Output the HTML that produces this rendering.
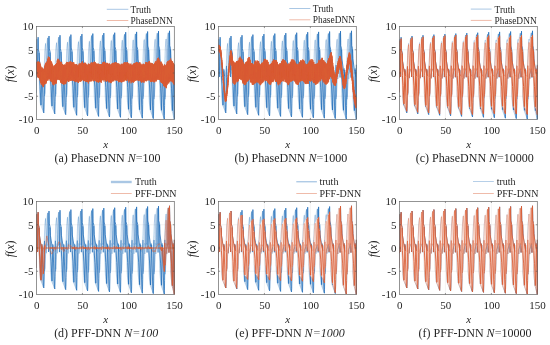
<!DOCTYPE html>
<html><head><meta charset="utf-8"><title>PhaseDNN vs PFF-DNN</title>
<style>
html,body{margin:0;padding:0;background:#fff;}
svg{display:block}
text{font-family:"Liberation Serif","DejaVu Serif",serif;fill:#262626}
.t{font-size:11px}
.l{font-size:9.6px}
.c{font-size:12px}
.ax{font-size:11px;font-style:italic}
</style></head><body>
<svg width="550" height="345" viewBox="0 0 550 345">
<rect width="550" height="345" fill="#fff"/>
<defs><filter id="bl" x="-5%" y="-5%" width="110%" height="110%"><feGaussianBlur stdDeviation="0.35"/></filter></defs>

<g>
<line x1="82.43" y1="26.5" x2="82.43" y2="119.5" stroke="#e6e6e6" stroke-width="0.5"/>
<line x1="128.37" y1="26.5" x2="128.37" y2="119.5" stroke="#e6e6e6" stroke-width="0.5"/>
<line x1="36.5" y1="49.75" x2="174.3" y2="49.75" stroke="#e6e6e6" stroke-width="0.5"/>
<line x1="36.5" y1="73.00" x2="174.3" y2="73.00" stroke="#e6e6e6" stroke-width="0.5"/>
<line x1="36.5" y1="96.25" x2="174.3" y2="96.25" stroke="#e6e6e6" stroke-width="0.5"/>
<g transform="translate(36.5,26.5)">
<g filter="url(#bl)">
<path d="M1.6,10.7 1.9,23.2 2.6,25.7 3.0,34.3 4.7,45.2 5.9,49.6 5.9,49.6 6.8,45.2 8.0,34.2 8.3,24.7 8.4,19.1 10.3,12.8 12.5,9.5 12.8,22.4 13.6,25.1 13.9,34.0 15.7,45.2 16.9,49.6 16.9,49.6 17.8,45.1 19.0,33.9 19.2,24.1 19.3,18.5 21.3,12.1 23.5,8.7 23.8,21.9 24.5,24.6 24.9,33.7 26.6,45.1 27.8,49.7 27.8,49.7 28.7,45.1 29.9,33.6 30.2,23.7 30.3,18.0 32.2,11.5 34.4,8.1 34.7,21.5 35.5,24.3 35.8,33.5 37.6,45.1 38.8,49.7 38.8,49.7 39.7,45.1 40.9,33.4 41.1,23.4 41.2,17.6 43.2,10.9 45.4,7.6 45.7,21.2 46.4,24.0 46.8,33.3 48.5,45.1 49.7,49.8 49.7,49.8 50.6,45.1 51.8,33.3 52.1,23.1 52.2,17.2 54.1,10.5 56.3,7.1 56.6,20.8 57.4,23.7 57.7,33.2 59.5,45.1 60.7,49.8 60.7,49.8 61.6,45.1 62.8,33.1 63.0,22.8 63.1,16.8 65.1,10.0 67.3,6.6 67.6,20.5 68.3,23.4 68.7,33.0 70.4,45.1 71.6,49.9 71.6,49.9 72.5,45.0 73.7,32.9 74.0,22.5 74.1,16.5 76.0,9.6 78.2,6.2 78.5,20.2 79.3,23.1 79.6,32.9 81.4,45.0 82.6,49.9 82.6,49.9 83.5,45.0 84.7,32.8 84.9,22.3 85.0,16.2 87.0,9.3 89.2,5.7 89.5,20.0 90.2,22.9 90.6,32.7 92.3,45.0 93.5,49.9 93.5,49.9 94.4,45.0 95.6,32.7 95.9,22.1 96.0,15.9 97.9,8.9 100.1,5.4 100.4,19.7 101.2,22.7 101.5,32.6 103.3,45.0 104.5,50.0 104.5,50.0 105.4,45.0 106.6,32.5 106.9,21.8 106.9,15.6 108.9,8.5 111.1,5.0 111.4,19.5 112.1,22.5 112.5,32.5 114.2,45.0 115.4,50.0 115.4,50.0 116.3,45.0 117.5,32.4 117.8,21.6 117.9,15.3 119.8,8.2 122.0,4.6 122.3,19.2 123.1,22.3 123.4,32.4 125.2,45.0 126.4,50.0 126.4,50.0 127.3,45.0 128.5,32.3 128.8,21.4 128.8,15.1 130.8,7.9 133.0,4.3 133.3,19.0 134.0,22.1 134.4,32.2 136.1,45.0 137.3,50.1 137.3,50.1 137.8,45.0 L137.3,85.2 137.3,89.2 135.4,83.6 134.8,77.0 134.3,70.4 133.4,48.7 131.9,41.4 129.8,48.7 128.9,70.3 128.8,71.3 128.5,73.3 128.2,80.9 127.9,88.9 127.8,92.5 126.4,84.9 126.4,88.9 124.4,83.3 123.9,76.7 123.3,70.2 122.5,48.7 120.9,41.5 118.8,48.7 118.0,70.1 117.9,71.1 117.6,73.1 117.3,80.6 117.0,88.6 116.8,92.1 115.4,84.5 115.4,88.5 113.5,83.0 112.9,76.5 112.4,70.0 111.5,48.6 110.0,41.5 107.9,48.6 107.0,69.9 106.9,70.8 106.6,72.8 106.3,80.3 106.0,88.2 105.9,91.7 104.5,84.2 104.5,88.2 102.5,82.6 102.0,76.2 101.4,69.7 100.6,48.6 99.0,41.5 96.9,48.6 96.1,69.6 96.0,70.6 95.7,72.6 95.4,80.0 95.1,87.8 94.9,91.3 93.5,83.8 93.5,87.8 91.6,82.3 91.0,75.9 90.5,69.5 89.6,48.6 88.1,41.6 86.0,48.6 85.1,69.4 85.0,70.4 84.7,72.3 84.4,79.6 84.1,87.4 84.0,90.8 82.6,83.5 82.6,87.4 80.6,81.9 80.1,75.6 79.5,69.3 78.7,48.6 77.1,41.6 75.0,48.6 74.2,69.2 74.1,70.1 73.8,72.1 73.5,79.3 73.2,87.0 73.0,90.4 71.6,83.1 71.6,86.9 69.7,81.6 69.1,75.3 68.6,69.1 67.7,48.6 66.2,41.7 64.1,48.6 63.2,68.9 63.1,69.9 62.8,71.8 62.5,78.9 62.2,86.5 62.1,89.9 60.7,82.7 60.7,86.5 58.7,81.2 58.2,75.0 57.6,68.8 56.8,48.5 55.2,41.8 53.1,48.5 52.3,68.7 52.2,69.6 51.9,71.5 51.6,78.5 51.3,86.1 51.1,89.3 49.7,82.2 49.7,86.0 47.8,80.7 47.2,74.6 46.7,68.5 45.8,48.5 44.3,41.8 42.2,48.5 41.3,68.4 41.2,69.3 40.9,71.1 40.6,78.1 40.3,85.5 40.2,88.8 38.8,81.7 38.8,85.5 36.8,80.3 36.3,74.2 35.7,68.2 34.9,48.5 33.3,41.9 31.2,48.5 30.4,68.0 30.3,69.0 30.0,70.8 29.6,77.6 29.4,84.9 29.2,88.1 27.8,81.2 27.8,84.9 25.9,79.7 25.3,73.8 24.8,67.9 23.9,48.5 22.4,42.0 20.3,48.4 19.4,67.7 19.3,68.6 19.0,70.3 18.7,77.1 18.4,84.3 18.3,87.4 16.9,80.6 16.9,84.1 14.9,79.1 14.4,73.3 13.8,67.4 13.0,48.4 11.4,42.1 9.3,48.4 8.5,67.2 8.4,68.1 8.1,69.8 7.7,76.4 7.5,83.4 7.3,86.4 5.9,79.7 5.9,83.2 4.0,78.2 3.4,72.5 2.9,66.8 2.0,48.4 0.5,42.2Z" fill="#1f6cb8" fill-opacity="0.11"/>
<path d="M0.0,45.2 1.6,10.7 1.9,23.2 2.6,25.7 2.9,34.4 2.7,57.3 2.0,48.4 0.5,42.2 0.0,47.3ZM3.1,36.1 4.7,45.2 5.9,49.6 6.8,45.2 7.7,38.6 7.9,59.7 7.7,74.6 7.5,83.4 7.3,86.4 4.5,78.7 3.6,59.5 3.0,48.7ZM10.0,45.2 12.5,9.5 12.8,22.4 13.6,25.1 13.9,34.0 13.6,57.6 13.0,48.4 11.4,42.1 10.1,47.4ZM14.0,35.8 15.7,45.2 16.9,49.6 17.8,45.1 18.7,38.4 18.8,60.0 18.6,75.3 18.4,84.3 18.3,87.4 15.5,79.6 14.6,59.9 13.9,48.7ZM20.9,45.1 23.5,8.7 23.8,21.9 24.5,24.6 24.8,33.7 24.6,57.9 23.9,48.5 22.4,42.0 21.1,47.4ZM25.0,35.6 26.6,45.1 27.8,49.7 28.7,45.1 29.6,38.2 29.8,60.2 29.6,75.8 29.4,84.9 29.2,88.1 26.4,80.2 25.5,60.1 24.9,48.8ZM31.9,45.1 34.4,8.1 34.7,21.5 35.5,24.3 35.8,33.5 35.5,58.0 34.9,48.5 33.3,41.9 32.0,47.4ZM35.9,35.4 37.6,45.1 38.8,49.7 39.7,45.1 40.6,38.1 40.7,60.4 40.5,76.2 40.3,85.5 40.2,88.8 37.4,80.8 36.5,60.4 35.8,48.8ZM42.8,45.1 45.4,7.6 45.7,21.2 46.4,24.0 46.7,33.3 46.5,58.2 45.8,48.5 44.3,41.8 43.0,47.4ZM46.9,35.2 48.5,45.1 49.7,49.8 50.6,45.1 51.6,38.0 51.7,60.6 51.5,76.6 51.3,86.1 51.1,89.3 48.3,81.2 47.4,60.6 46.8,48.8ZM53.8,45.1 56.3,7.1 56.6,20.8 57.4,23.7 57.7,33.2 57.4,58.4 56.8,48.5 55.2,41.8 53.9,47.4ZM57.8,35.1 59.5,45.1 60.7,49.8 61.6,45.1 62.5,37.9 62.6,60.8 62.4,77.0 62.2,86.5 62.1,89.9 59.3,81.7 58.4,60.7 57.7,48.9ZM64.7,45.1 67.3,6.6 67.6,20.5 68.3,23.4 68.6,33.0 68.4,58.5 67.7,48.6 66.2,41.7 64.9,47.5ZM68.8,34.9 70.4,45.1 71.6,49.9 72.5,45.0 73.5,37.8 73.6,61.0 73.4,77.4 73.2,87.0 73.0,90.4 70.2,82.1 69.3,60.9 68.7,48.9ZM75.7,45.0 78.2,6.2 78.5,20.2 79.3,23.1 79.6,32.9 79.3,58.6 78.7,48.6 77.1,41.6 75.8,47.5ZM79.7,34.8 81.4,45.0 82.6,49.9 83.5,45.0 84.4,37.7 84.5,61.1 84.3,77.7 84.1,87.4 84.0,90.8 81.2,82.5 80.3,61.1 79.6,48.9ZM86.6,45.0 89.2,5.7 89.5,20.0 90.2,22.9 90.5,32.7 90.3,58.7 89.6,48.6 88.1,41.6 86.8,47.5ZM90.7,34.7 92.3,45.0 93.5,49.9 94.4,45.0 95.4,37.6 95.5,61.3 95.3,78.0 95.1,87.8 94.9,91.3 92.1,82.8 91.2,61.2 90.6,49.0ZM97.6,45.0 100.1,5.4 100.4,19.7 101.2,22.7 101.5,32.6 101.2,58.9 100.6,48.6 99.0,41.5 97.7,47.5ZM101.6,34.6 103.3,45.0 104.5,50.0 105.4,45.0 106.3,37.5 106.4,61.4 106.2,78.3 106.0,88.2 105.9,91.7 103.1,83.2 102.2,61.3 101.5,49.0ZM108.5,45.0 111.1,5.0 111.4,19.5 112.1,22.5 112.4,32.5 112.2,59.0 111.5,48.6 110.0,41.5 108.7,47.5ZM112.6,34.5 114.2,45.0 115.4,50.0 116.3,45.0 117.3,37.5 117.4,61.5 117.2,78.6 117.0,88.6 116.8,92.1 114.0,83.5 113.1,61.5 112.5,49.0ZM119.5,45.0 122.0,4.6 122.3,19.2 123.1,22.3 123.4,32.4 123.1,59.1 122.5,48.7 120.9,41.5 119.6,47.5ZM123.6,34.4 125.2,45.0 126.4,50.0 127.3,45.0 128.2,37.4 128.3,61.7 128.1,78.8 127.9,88.9 127.8,92.5 125.0,83.8 124.1,61.6 123.4,49.0ZM130.4,45.0 133.0,4.3 133.3,19.0 134.0,22.1 134.3,32.2 134.1,59.2 133.4,48.7 131.9,41.4 130.6,47.5ZM134.5,34.3 136.1,45.0 137.3,50.1 137.8,45.0 137.8,37.3 137.8,61.8 137.8,79.1 137.8,89.2 137.8,92.8 135.9,84.1 135.0,61.7 134.4,49.0Z" fill="#1f6cb8" fill-opacity="0.16"/>
<path d="M2.9,49.1 3.0,66.8 3.4,72.5 4.0,78.2 7.3,86.4M7.9,50.9 8.1,69.4 8.4,68.1 8.8,53.1 9.2,42.1M0.0,66.4 0.0,48.3 0.5,42.2M7.4,50.9 8.3,24.7 9.1,16.9 10.1,44.3M13.8,49.2 13.9,67.4 14.4,73.3 14.9,79.1 18.3,87.4M18.8,51.0 19.1,69.9 19.3,68.6 19.7,53.3 20.2,42.0M8.5,67.2 9.3,48.4 11.4,42.1M18.3,51.0 19.2,24.1 20.1,16.2 21.1,44.2M24.8,49.2 24.9,67.9 25.3,73.8 25.9,79.7 29.2,88.1M29.8,51.1 30.0,70.3 30.3,69.0 30.7,53.4 31.1,41.9M19.4,67.7 20.3,48.4 22.4,42.0M29.3,51.1 30.2,23.7 31.0,15.7 32.0,44.2M35.7,49.3 35.8,68.2 36.3,74.2 36.8,80.3 40.2,88.8M40.7,51.1 41.0,70.7 41.2,69.3 41.6,53.5 42.1,41.8M30.4,68.0 31.2,48.5 33.3,41.9M40.2,51.1 41.1,23.4 42.0,15.2 43.0,44.2M46.7,49.3 46.8,68.5 47.2,74.6 47.8,80.7 51.1,89.3M51.7,51.2 51.9,71.0 52.2,69.6 52.6,53.6 53.0,41.8M41.3,68.4 42.2,48.5 44.3,41.8M51.2,51.2 52.1,23.1 52.9,14.8 53.9,44.1M57.6,49.3 57.7,68.8 58.2,75.0 58.7,81.2 62.1,89.9M62.6,51.3 62.9,71.3 63.1,69.9 63.5,53.7 64.0,41.7M52.3,68.7 53.1,48.5 55.2,41.8M62.1,51.3 63.0,22.8 63.9,14.4 64.9,44.1M68.6,49.4 68.7,69.1 69.1,75.3 69.7,81.6 73.0,90.4M73.6,51.3 73.8,71.6 74.1,70.1 74.5,53.7 74.9,41.7M63.2,68.9 64.1,48.6 66.2,41.7M73.1,51.3 74.0,22.5 74.8,14.0 75.8,44.1M79.5,49.4 79.6,69.3 80.1,75.6 80.6,81.9 84.0,90.8M84.5,51.4 84.8,71.8 85.0,70.4 85.4,53.8 85.9,41.6M74.2,69.2 75.0,48.6 77.1,41.6M84.0,51.4 84.9,22.3 85.8,13.7 86.8,44.1M90.5,49.4 90.6,69.5 91.0,75.9 91.6,82.3 94.9,91.3M95.5,51.4 95.7,72.1 96.0,70.6 96.4,53.9 96.8,41.6M85.1,69.4 86.0,48.6 88.1,41.6M95.0,51.4 95.9,22.1 96.7,13.4 97.7,44.0M101.4,49.5 101.5,69.8 102.0,76.2 102.5,82.6 105.9,91.7M106.4,51.5 106.7,72.3 106.9,70.8 107.3,54.0 107.8,41.5M96.1,69.6 96.9,48.6 99.0,41.5M105.9,51.5 106.9,21.8 107.7,13.1 108.7,44.0M112.4,49.5 112.5,70.0 112.9,76.5 113.5,83.0 116.8,92.1M117.4,51.5 117.6,72.6 117.9,71.1 118.3,54.0 118.7,41.5M107.0,69.9 107.9,48.6 110.0,41.5M116.9,51.5 117.8,21.6 118.6,12.8 119.6,44.0M123.3,49.5 123.4,70.2 123.9,76.7 124.4,83.3 127.8,92.5M128.3,51.6 128.6,72.8 128.8,71.3 129.2,54.1 129.7,41.4M118.0,70.1 118.8,48.7 120.9,41.5M127.8,51.6 128.8,21.4 129.6,12.5 130.6,44.0M134.3,49.5 134.4,70.4 134.8,77.0 135.4,83.6 137.8,92.8M128.9,70.3 129.8,48.7 131.9,41.4" fill="none" stroke="#1f6cb8" stroke-opacity="0.36" stroke-width="0.75" stroke-linejoin="round"/>
<path d="M0.0,51.6 0.0,44.4 0.0,22.7 0.4,12.7 1.1,44.3 1.2,50.4M9.9,51.8 10.1,44.3 10.8,21.6 11.3,11.4 12.1,44.3 12.2,50.5M20.8,51.9 21.1,44.2 21.7,21.1 22.3,10.6 23.0,44.2 23.1,50.6M31.8,52.0 32.0,44.2 32.7,20.7 33.2,10.0 34.0,44.2 34.1,50.6M42.7,52.1 43.0,44.2 43.6,20.3 44.2,9.5 44.9,44.2 45.0,50.7M53.7,52.2 53.9,44.1 54.6,19.9 55.1,9.0 55.9,44.1 56.0,50.8M64.6,52.2 64.9,44.1 65.5,19.6 66.1,8.6 66.8,44.1 66.9,50.8M75.6,52.3 75.8,44.1 76.5,19.3 77.0,8.1 77.8,44.1 77.9,50.9M86.5,52.4 86.8,44.1 87.4,19.0 88.0,7.8 88.7,44.0 88.8,50.9M97.5,52.4 97.7,44.0 98.4,18.8 98.9,7.4 99.7,44.0 99.8,50.9M108.4,52.5 108.7,44.0 109.3,18.5 109.9,7.0 110.6,44.0 110.7,51.0M119.4,52.5 119.6,44.0 120.3,18.3 120.8,6.7 121.6,44.0 121.7,51.0M130.3,52.6 130.6,44.0 131.2,18.0 131.8,6.3 132.5,44.0 132.6,51.1" fill="none" stroke="#1f6cb8" stroke-opacity="0.62" stroke-width="0.75" stroke-linejoin="round"/>
<path d="M1.0,50.4 1.1,44.3 1.6,10.7 1.9,23.2 2.6,25.7 2.9,49.1 3.6,59.5 4.5,78.7 5.3,48.7 5.4,42.6M2.7,26.6 3.0,34.3 4.7,45.2 5.9,49.6M5.6,43.9 5.7,50.0 6.9,85.1 7.3,86.4 7.5,83.4 7.7,74.6 7.9,50.9 8.0,39.4M12.0,50.5 12.1,44.3 12.5,9.5 12.8,22.4 13.6,25.1 13.8,49.2 14.6,59.9 15.5,79.6 16.2,48.7 16.3,42.5M13.6,26.0 13.9,34.0 15.7,45.2 16.9,49.6M16.6,43.8 16.7,50.1 17.9,86.0 18.3,87.4 18.4,84.3 18.6,75.3 18.8,51.0 18.9,39.3M22.9,50.6 23.0,44.2 23.5,8.7 23.8,21.9 24.5,24.6 24.8,49.2 25.5,60.1 26.4,80.2 27.2,48.8 27.3,42.4M24.6,25.5 24.9,33.7 26.6,45.1 27.8,49.7M27.5,43.8 27.6,50.2 28.8,86.7 29.2,88.1 29.4,84.9 29.6,75.8 29.8,51.1 29.9,39.1M33.9,50.6 34.0,44.2 34.4,8.1 34.7,21.5 35.5,24.3 35.7,49.3 36.5,60.4 37.4,80.8 38.1,48.8 38.2,42.3M35.5,25.2 35.8,33.5 37.6,45.1 38.8,49.7M38.5,43.7 38.6,50.2 39.8,87.4 40.2,88.8 40.3,85.5 40.5,76.2 40.7,51.1 40.8,39.0M44.8,50.7 44.9,44.2 45.4,7.6 45.7,21.2 46.4,24.0 46.7,49.3 47.4,60.6 48.3,81.2 49.1,48.8 49.2,42.3M46.5,24.9 46.8,33.3 48.5,45.1 49.7,49.8M49.4,43.7 49.5,50.3 50.7,87.9 51.1,89.3 51.3,86.1 51.5,76.6 51.7,51.2 51.8,38.9M55.8,50.8 55.9,44.1 56.3,7.1 56.6,20.8 57.4,23.7 57.6,49.3 58.4,60.7 59.3,81.7 60.0,48.9 60.1,42.2M57.4,24.6 57.7,33.2 59.5,45.1 60.7,49.8M60.4,43.6 60.5,50.3 61.7,88.4 62.1,89.9 62.2,86.5 62.4,77.0 62.6,51.3 62.7,38.8M66.7,50.8 66.8,44.1 67.3,6.6 67.6,20.5 68.3,23.4 68.6,49.4 69.3,60.9 70.2,82.1 71.0,48.9 71.1,42.2M68.4,24.4 68.7,33.0 70.4,45.1 71.6,49.9M71.3,43.6 71.4,50.4 72.6,88.9 73.0,90.4 73.2,87.0 73.4,77.4 73.6,51.3 73.7,38.8M77.7,50.9 77.8,44.1 78.2,6.2 78.5,20.2 79.3,23.1 79.5,49.4 80.3,61.1 81.2,82.5 81.9,48.9 82.0,42.1M79.3,24.1 79.6,32.9 81.4,45.0 82.6,49.9M82.3,43.6 82.4,50.4 83.6,89.3 84.0,90.8 84.1,87.4 84.3,77.7 84.5,51.4 84.6,38.7M88.6,50.9 88.7,44.0 89.2,5.7 89.5,20.0 90.2,22.9 90.5,49.4 91.2,61.2 92.1,82.8 92.9,49.0 93.0,42.1M90.3,23.9 90.6,32.7 92.3,45.0 93.5,49.9M93.2,43.5 93.3,50.4 94.5,89.8 94.9,91.3 95.1,87.8 95.3,78.0 95.5,51.4 95.6,38.6M99.6,50.9 99.7,44.0 100.1,5.4 100.4,19.7 101.2,22.7 101.4,49.5 102.2,61.3 103.1,83.2 103.8,49.0 103.9,42.0M101.2,23.7 101.5,32.6 103.3,45.0 104.5,50.0M104.2,43.5 104.3,50.5 105.5,90.2 105.9,91.7 106.0,88.2 106.2,78.3 106.4,51.5 106.5,38.5M110.5,51.0 110.6,44.0 111.1,5.0 111.4,19.5 112.1,22.5 112.4,49.5 113.1,61.5 114.0,83.5 114.8,49.0 114.9,42.0M112.2,23.5 112.5,32.5 114.2,45.0 115.4,50.0M115.1,43.5 115.2,50.5 116.4,90.6 116.8,92.1 117.0,88.6 117.2,78.6 117.4,51.5 117.5,38.5M121.5,51.0 121.6,44.0 122.0,4.6 122.3,19.2 123.1,22.3 123.3,49.5 124.1,61.6 125.0,83.8 125.7,49.0 125.8,41.9M123.1,23.3 123.4,32.4 125.2,45.0 126.4,50.0M126.1,43.5 126.2,50.5 127.4,90.9 127.8,92.5 127.9,88.9 128.1,78.8 128.3,51.6 128.4,38.4M132.4,51.1 132.5,44.0 133.0,4.3 133.3,19.0 134.0,22.1 134.3,49.5 135.0,61.7 135.9,84.1 136.7,49.0 136.8,41.9M134.1,23.1 134.4,32.2 136.1,45.0 137.3,50.1M137.0,43.4 137.1,50.6 137.8,91.3 137.8,92.8 137.8,89.2 137.8,79.1 137.8,51.6 137.8,38.3" fill="none" stroke="#1f6cb8" stroke-opacity="1.0" stroke-width="0.75" stroke-linejoin="round"/>
<path d="" fill="none" stroke="#1f6cb8" stroke-opacity="0.7" stroke-width="0.75" stroke-linejoin="round"/>
</g>
<path d="M0.0,42.5 0.1,35.9 0.1,41.5 0.2,48.5 0.2,44.2 0.3,35.5 0.3,38.9 0.4,47.2 0.4,46.8 0.5,37.9 0.5,35.3 0.6,43.1 0.6,48.9 0.7,44.3 0.7,36.1 0.8,36.1 0.8,44.7 0.9,49.5 1.0,43.9 1.0,36.1 1.1,36.6 1.1,45.2 1.2,50.3 1.2,43.4 1.3,35.5 1.3,37.8 1.4,47.9 1.4,49.4 1.5,39.7 1.5,35.7 1.6,44.0 1.6,51.3 1.7,43.2 1.7,34.6 1.8,41.7 1.9,50.9 1.9,45.5 2.0,35.5 2.0,39.7 2.1,50.4 2.1,48.3 2.2,37.2 2.2,36.9 2.3,47.8 2.3,51.4 2.4,42.0 2.4,35.3 2.5,41.4 2.5,50.3 2.6,49.2 2.7,39.9 2.7,35.6 2.8,42.5 2.8,51.7 2.9,49.6 2.9,39.6 3.0,35.7 3.0,43.5 3.1,52.0 3.1,48.8 3.2,39.0 3.2,37.7 3.3,47.8 3.3,52.7 3.4,44.6 3.4,36.1 3.5,44.0 3.6,53.8 3.6,48.5 3.7,37.7 3.7,42.2 3.8,54.4 3.8,51.5 3.9,39.6 3.9,40.8 4.0,53.0 4.0,54.9 4.1,43.4 4.1,39.0 4.2,49.3 4.2,56.2 4.3,50.2 4.3,40.0 4.4,42.2 4.5,52.9 4.5,56.9 4.6,49.2 4.6,40.4 4.7,44.2 4.7,53.8 4.8,58.2 4.8,49.4 4.9,41.5 4.9,45.4 5.0,55.5 5.0,56.8 5.1,47.0 5.1,42.1 5.2,49.7 5.2,57.8 5.3,52.3 5.4,42.4 5.4,46.0 5.5,57.0 5.5,55.4 5.6,43.1 5.6,44.8 5.7,55.8 5.7,57.0 5.8,45.1 5.8,43.3 5.9,53.7 5.9,58.9 6.0,49.4 6.0,41.1 6.1,48.4 6.2,59.2 6.2,56.1 6.3,45.1 6.3,42.1 6.4,51.4 6.4,59.5 6.5,55.9 6.5,45.1 6.6,42.7 6.6,52.1 6.7,60.7 6.7,55.5 6.8,44.1 6.8,43.5 6.9,54.4 6.9,60.5 7.0,51.9 7.1,42.9 7.1,47.5 7.2,59.1 7.2,56.5 7.3,44.5 7.3,44.5 7.4,56.5 7.4,57.4 7.5,46.2 7.5,42.6 7.6,54.6 7.6,58.2 7.7,47.9 7.7,41.8 7.8,50.7 7.8,58.1 7.9,52.3 8.0,41.4 8.0,44.6 8.1,55.1 8.1,57.2 8.2,48.0 8.2,41.1 8.3,45.4 8.3,55.6 8.4,56.8 8.4,46.8 8.5,38.9 8.5,45.1 8.6,55.2 8.6,55.9 8.7,44.8 8.7,37.8 8.8,47.0 8.9,57.6 8.9,52.4 9.0,39.7 9.0,41.0 9.1,54.1 9.1,55.2 9.2,41.6 9.2,37.2 9.3,51.0 9.3,56.6 9.4,43.5 9.4,36.3 9.5,48.2 9.5,57.3 9.6,46.6 9.6,36.3 9.7,42.9 9.8,54.5 9.8,52.5 9.9,38.3 9.9,36.8 10.0,47.6 10.0,55.9 10.1,48.7 10.1,36.9 10.2,36.1 10.2,47.7 10.3,54.0 10.3,47.5 10.4,36.5 10.4,36.0 10.5,47.9 10.6,54.0 10.6,44.8 10.7,34.5 10.7,38.8 10.8,51.4 10.8,50.6 10.9,37.6 10.9,34.8 11.0,47.6 11.0,53.2 11.1,40.6 11.1,32.0 11.2,44.4 11.2,53.9 11.3,42.8 11.3,32.5 11.4,41.2 11.5,54.0 11.5,47.1 11.6,33.5 11.6,35.8 11.7,49.6 11.7,52.6 11.8,39.2 11.8,30.0 11.9,39.0 11.9,51.6 12.0,50.8 12.0,37.3 12.1,31.0 12.1,39.8 12.2,51.5 12.2,49.9 12.3,36.8 12.4,31.0 12.4,41.1 12.5,52.8 12.5,47.3 12.6,33.4 12.6,32.7 12.7,47.2 12.7,52.2 12.8,38.3 12.8,31.0 12.9,42.8 12.9,52.2 13.0,42.2 13.0,30.8 13.1,40.3 13.1,52.1 13.2,45.0 13.3,32.7 13.3,37.4 13.4,51.6 13.4,49.6 13.5,36.3 13.5,33.5 13.6,45.7 13.6,54.0 13.7,45.1 13.7,34.2 13.8,36.5 13.8,48.6 13.9,54.4 13.9,44.7 14.0,34.5 14.1,37.7 14.1,50.2 14.2,54.4 14.2,44.5 14.3,34.7 14.3,39.8 14.4,52.5 14.4,53.8 14.5,39.9 14.5,35.0 14.6,47.0 14.6,55.0 14.7,45.6 14.7,35.1 14.8,43.2 14.8,55.1 14.9,49.0 15.0,36.0 15.0,40.6 15.1,54.0 15.1,51.5 15.2,37.9 15.2,37.9 15.3,51.5 15.3,55.1 15.4,43.4 15.4,36.2 15.5,44.4 15.5,54.9 15.6,52.5 15.6,40.8 15.7,37.6 15.7,46.9 15.8,56.7 15.9,52.6 15.9,41.1 16.0,38.2 16.0,48.1 16.1,57.2 16.1,52.3 16.2,39.9 16.2,40.1 16.3,52.2 16.3,57.7 16.4,47.5 16.4,38.9 16.5,47.0 16.5,58.1 16.6,52.3 16.6,40.2 16.7,44.2 16.8,57.7 16.8,54.5 16.9,41.5 16.9,42.4 17.0,56.2 17.0,56.9 17.1,44.8 17.1,41.0 17.2,51.5 17.2,58.9 17.3,50.9 17.3,40.2 17.4,43.8 17.4,55.7 17.5,58.1 17.5,48.0 17.6,39.4 17.7,44.7 17.7,55.9 17.8,57.0 17.8,47.3 17.9,39.0 17.9,45.0 18.0,56.3 18.0,55.8 18.1,44.3 18.1,39.6 18.2,48.4 18.2,57.8 18.3,50.4 18.3,38.9 18.4,43.6 18.5,55.6 18.5,53.5 18.6,40.3 18.6,41.2 18.7,53.8 18.7,55.7 18.8,41.9 18.8,39.0 18.9,51.3 18.9,57.2 19.0,45.8 19.0,37.7 19.1,45.7 19.1,56.2 19.2,53.0 19.2,40.3 19.3,38.2 19.4,49.3 19.4,57.3 19.5,50.8 19.5,38.7 19.6,38.9 19.6,49.2 19.7,57.0 19.7,49.5 19.8,38.8 19.8,38.4 19.9,50.6 19.9,56.0 20.0,45.9 20.0,36.5 20.1,42.1 20.1,54.2 20.2,50.9 20.3,38.6 20.3,38.5 20.4,50.5 20.4,53.0 20.5,39.8 20.5,36.6 20.6,48.4 20.6,52.8 20.7,41.4 20.7,33.9 20.8,44.8 20.8,53.1 20.9,45.9 20.9,34.7 21.0,38.3 21.0,50.4 21.1,52.7 21.2,40.7 21.2,33.0 21.3,40.6 21.3,52.2 21.4,50.8 21.4,39.5 21.5,32.2 21.5,40.9 21.6,51.9 21.6,50.5 21.7,38.7 21.7,32.8 21.8,43.5 21.8,53.0 21.9,47.8 22.0,34.2 22.0,36.9 22.1,50.7 22.1,51.7 22.2,38.6 22.2,34.6 22.3,47.5 22.3,53.3 22.4,41.3 22.4,33.4 22.5,45.3 22.5,53.1 22.6,44.3 22.6,33.8 22.7,41.5 22.7,52.5 22.8,49.0 22.9,37.1 22.9,36.0 23.0,47.5 23.0,53.1 23.1,46.1 23.1,35.4 23.2,37.3 23.2,49.0 23.3,53.6 23.3,45.6 23.4,35.7 23.4,38.6 23.5,49.3 23.5,53.8 23.6,44.5 23.6,35.3 23.7,40.5 23.8,52.6 23.8,52.4 23.9,38.6 23.9,37.0 24.0,49.1 24.0,55.3 24.1,42.9 24.1,35.5 24.2,46.6 24.2,55.7 24.3,45.8 24.3,35.2 24.4,43.9 24.4,56.5 24.5,49.7 24.5,37.2 24.6,39.6 24.7,53.1 24.7,55.2 24.8,42.6 24.8,35.5 24.9,44.9 24.9,55.1 25.0,52.3 25.0,40.3 25.1,36.0 25.1,46.3 25.2,56.7 25.2,52.4 25.3,40.7 25.3,37.5 25.4,47.4 25.4,57.0 25.5,50.9 25.6,38.7 25.6,39.8 25.7,52.6 25.7,55.9 25.8,44.5 25.8,37.8 25.9,48.1 25.9,57.4 26.0,48.1 26.0,37.5 26.1,46.0 26.1,57.4 26.2,51.0 26.2,38.9 26.3,43.7 26.4,56.6 26.4,54.3 26.5,41.9 26.5,39.5 26.6,52.0 26.6,57.5 26.7,49.0 26.7,38.4 26.8,42.8 26.8,55.3 26.9,57.9 26.9,47.4 27.0,38.7 27.0,43.3 27.1,55.1 27.1,58.2 27.2,46.8 27.3,38.4 27.3,44.3 27.4,56.5 27.4,55.6 27.5,42.8 27.5,38.7 27.6,49.9 27.6,57.9 27.7,48.2 27.7,38.3 27.8,45.3 27.8,56.9 27.9,51.2 27.9,38.1 28.0,42.8 28.0,55.3 28.1,53.2 28.2,39.5 28.2,40.0 28.3,53.5 28.3,55.9 28.4,44.3 28.4,38.3 28.5,46.8 28.5,57.0 28.6,52.3 28.6,40.4 28.7,39.0 28.7,49.3 28.8,57.2 28.8,51.2 28.9,40.2 28.9,38.9 29.0,49.5 29.1,57.7 29.1,50.8 29.2,39.8 29.2,40.4 29.3,51.7 29.3,57.3 29.4,46.0 29.4,36.8 29.5,45.6 29.5,55.8 29.6,50.3 29.6,38.3 29.7,41.6 29.7,54.7 29.8,52.2 29.9,38.4 29.9,39.4 30.0,52.3 30.0,54.7 30.1,40.9 30.1,37.0 30.2,48.3 30.2,55.7 30.3,46.2 30.3,35.4 30.4,40.6 30.4,52.8 30.5,53.8 30.5,42.3 30.6,35.5 30.6,42.0 30.7,52.4 30.8,53.0 30.8,41.7 30.9,35.8 30.9,42.6 31.0,53.8 31.0,52.4 31.1,40.5 31.1,35.7 31.2,46.0 31.2,54.3 31.3,47.7 31.3,36.0 31.4,40.5 31.4,53.1 31.5,51.8 31.5,38.1 31.6,38.6 31.7,51.7 31.7,53.1 31.8,40.3 31.8,37.5 31.9,49.5 31.9,55.4 32.0,43.7 32.0,35.8 32.1,44.7 32.1,55.4 32.2,50.1 32.2,37.7 32.3,37.2 32.3,49.0 32.4,54.9 32.4,47.4 32.5,37.5 32.6,38.7 32.6,49.3 32.7,54.6 32.7,46.6 32.8,36.7 32.8,38.4 32.9,49.9 32.9,53.7 33.0,43.7 33.0,35.3 33.1,41.5 33.1,53.2 33.2,50.0 33.2,37.3 33.3,36.9 33.3,49.9 33.4,52.2 33.5,39.1 33.5,35.5 33.6,48.0 33.6,53.0 33.7,41.7 33.7,34.8 33.8,45.1 33.8,54.0 33.9,45.9 33.9,35.7 34.0,39.5 34.0,52.1 34.1,51.8 34.1,40.8 34.2,34.9 34.3,43.6 34.3,54.2 34.4,51.1 34.4,39.7 34.5,35.4 34.5,44.3 34.6,54.4 34.6,51.1 34.7,39.9 34.7,36.2 34.8,46.0 34.8,53.9 34.9,48.0 34.9,37.5 35.0,39.2 35.0,51.0 35.1,51.7 35.2,40.7 35.2,37.4 35.3,48.1 35.3,53.3 35.4,42.9 35.4,36.3 35.5,45.8 35.5,53.0 35.6,45.1 35.6,35.6 35.7,42.7 35.7,52.4 35.8,49.3 35.8,37.6 35.9,38.3 35.9,48.5 36.0,53.8 36.1,45.1 36.1,36.7 36.2,39.6 36.2,50.6 36.3,52.8 36.3,44.5 36.4,36.0 36.4,39.9 36.5,51.0 36.5,54.2 36.6,43.6 36.6,36.3 36.7,42.2 36.7,53.1 36.8,51.2 36.8,39.8 36.9,37.1 37.0,49.4 37.0,54.1 37.1,43.6 37.1,36.1 37.2,46.2 37.2,54.2 37.3,46.1 37.3,36.0 37.4,44.1 37.4,54.7 37.5,48.9 37.5,37.5 37.6,40.8 37.6,52.0 37.7,52.5 37.8,42.2 37.8,37.9 37.9,46.0 37.9,53.9 38.0,50.3 38.0,40.2 38.1,39.1 38.1,47.3 38.2,54.8 38.2,50.1 38.3,40.4 38.3,39.3 38.4,47.9 38.4,54.0 38.5,48.7 38.5,38.7 38.6,40.2 38.7,51.3 38.7,54.1 38.8,43.8 38.8,37.7 38.9,47.2 38.9,55.6 39.0,47.4 39.0,38.4 39.1,44.6 39.1,55.6 39.2,49.6 39.2,38.8 39.3,42.3 39.3,54.3 39.4,53.0 39.4,40.7 39.5,39.0 39.6,50.8 39.6,55.3 39.7,46.5 39.7,38.0 39.8,42.9 39.8,53.3 39.9,54.3 39.9,44.5 40.0,38.1 40.0,43.6 40.1,53.8 40.1,54.1 40.2,44.3 40.2,37.5 40.3,44.7 40.3,54.9 40.4,52.8 40.5,41.6 40.5,38.9 40.6,48.8 40.6,55.1 40.7,47.2 40.7,38.6 40.8,45.0 40.8,54.4 40.9,49.9 40.9,39.7 41.0,43.0 41.0,54.3 41.1,51.8 41.1,40.9 41.2,41.5 41.2,52.1 41.3,54.4 41.4,43.9 41.4,39.5 41.5,47.5 41.5,56.0 41.6,50.7 41.6,40.9 41.7,40.1 41.7,50.5 41.8,56.4 41.8,49.6 41.9,39.3 41.9,40.5 42.0,50.8 42.0,56.2 42.1,48.6 42.2,39.0 42.2,40.4 42.3,52.2 42.3,55.0 42.4,44.8 42.4,37.2 42.5,45.4 42.5,55.2 42.6,49.8 42.6,38.6 42.7,41.4 42.7,53.0 42.8,51.5 42.8,39.1 42.9,39.6 42.9,51.9 43.0,53.3 43.1,41.2 43.1,38.2 43.2,48.4 43.2,54.9 43.3,45.7 43.3,37.7 43.4,42.4 43.4,52.7 43.5,52.3 43.5,42.1 43.6,36.7 43.6,44.5 43.7,54.1 43.7,52.2 43.8,41.4 43.8,36.9 43.9,45.1 44.0,53.4 44.0,51.1 44.1,40.7 44.1,38.1 44.2,47.5 44.2,55.5 44.3,47.7 44.3,38.0 44.4,41.8 44.4,54.0 44.5,51.9 44.5,39.0 44.6,39.5 44.6,51.6 44.7,53.0 44.7,41.2 44.8,37.6 44.9,49.0 44.9,54.5 45.0,43.6 45.0,36.3 45.1,44.8 45.1,54.2 45.2,48.6 45.2,38.0 45.3,37.8 45.3,49.2 45.4,53.0 45.4,45.1 45.5,35.5 45.5,38.7 45.6,49.6 45.7,52.7 45.7,44.4 45.8,35.4 45.8,39.1 45.9,50.0 45.9,53.1 46.0,42.8 46.0,34.8 46.1,42.2 46.1,52.8 46.2,49.3 46.2,37.4 46.3,38.0 46.3,50.1 46.4,52.2 46.4,40.2 46.5,37.0 46.6,48.2 46.6,53.7 46.7,42.7 46.7,36.6 46.8,46.0 46.8,54.0 46.9,46.6 46.9,37.1 47.0,41.4 47.0,53.1 47.1,51.7 47.1,40.9 47.2,37.1 47.2,45.8 47.3,54.7 47.3,50.2 47.4,39.1 47.5,36.8 47.5,46.4 47.6,53.6 47.6,49.9 47.7,39.4 47.7,37.9 47.8,47.4 47.8,54.2 47.9,47.3 47.9,37.2 48.0,40.0 48.0,51.6 48.1,52.1 48.1,40.7 48.2,37.5 48.2,48.2 48.3,54.2 48.4,43.5 48.4,35.9 48.5,45.9 48.5,54.6 48.6,45.7 48.6,36.7 48.7,42.9 48.7,53.7 48.8,49.9 48.8,37.7 48.9,38.6 48.9,50.8 49.0,55.1 49.0,44.9 49.1,36.6 49.1,41.5 49.2,52.8 49.3,54.6 49.3,44.2 49.4,37.2 49.4,42.6 49.5,53.2 49.5,54.2 49.6,44.0 49.6,37.8 49.7,44.5 49.7,54.4 49.8,52.1 49.8,40.8 49.9,38.5 49.9,50.3 50.0,55.4 50.1,44.9 50.1,38.1 50.2,47.1 50.2,55.5 50.3,47.6 50.3,38.6 50.4,44.9 50.4,54.9 50.5,49.8 50.5,39.0 50.6,42.1 50.6,52.8 50.7,52.8 50.7,42.7 50.8,38.2 50.8,47.7 50.9,55.7 51.0,49.7 51.0,39.8 51.1,39.5 51.1,49.2 51.2,55.5 51.2,49.3 51.3,39.5 51.3,39.8 51.4,49.8 51.4,55.1 51.5,48.4 51.5,38.8 51.6,41.4 51.6,53.2 51.7,55.5 51.7,43.7 51.8,37.6 51.9,47.5 51.9,57.0 52.0,47.9 52.0,37.0 52.1,44.4 52.1,55.1 52.2,50.1 52.2,38.4 52.3,42.6 52.3,55.1 52.4,53.2 52.4,40.2 52.5,39.7 52.5,50.9 52.6,54.8 52.6,45.6 52.7,38.3 52.8,43.9 52.8,54.3 52.9,53.7 52.9,43.0 53.0,37.4 53.0,44.9 53.1,54.0 53.1,52.5 53.2,42.9 53.2,37.7 53.3,45.4 53.3,54.7 53.4,51.5 53.4,40.7 53.5,38.6 53.6,48.8 53.6,55.1 53.7,46.5 53.7,38.4 53.8,44.0 53.8,54.0 53.9,49.8 53.9,38.4 54.0,41.4 54.0,53.2 54.1,52.0 54.1,39.1 54.2,39.6 54.2,51.8 54.3,53.9 54.3,42.0 54.4,36.3 54.5,46.9 54.5,54.6 54.6,48.8 54.6,37.4 54.7,39.2 54.7,50.5 54.8,54.9 54.8,46.2 54.9,36.8 54.9,39.2 55.0,50.3 55.0,53.9 55.1,45.6 55.1,36.4 55.2,39.6 55.2,51.0 55.3,53.1 55.4,42.4 55.4,35.6 55.5,44.0 55.5,54.2 55.6,48.3 55.6,36.9 55.7,39.8 55.7,52.5 55.8,50.2 55.8,38.6 55.9,38.1 55.9,50.1 56.0,51.6 56.0,40.5 56.1,37.6 56.1,47.6 56.2,52.9 56.3,44.5 56.3,36.9 56.4,42.3 56.4,52.9 56.5,51.0 56.5,40.6 56.6,36.8 56.6,45.3 56.7,54.4 56.7,50.2 56.8,39.9 56.8,36.0 56.9,45.8 56.9,54.9 57.0,49.7 57.0,38.7 57.1,36.6 57.2,47.5 57.2,54.3 57.3,46.3 57.3,35.4 57.4,41.0 57.4,53.3 57.5,50.4 57.5,37.7 57.6,37.5 57.6,49.9 57.7,52.3 57.7,39.7 57.8,36.5 57.8,48.1 57.9,53.9 58.0,42.6 58.0,35.1 58.1,44.2 58.1,54.1 58.2,47.2 58.2,36.6 58.3,38.3 58.3,49.5 58.4,52.7 58.4,43.6 58.5,35.6 58.5,40.5 58.6,51.5 58.6,52.5 58.7,43.3 58.7,36.4 58.8,41.0 58.9,52.1 58.9,53.2 59.0,42.6 59.0,36.1 59.1,44.2 59.1,54.4 59.2,50.0 59.2,38.6 59.3,38.8 59.3,51.8 59.4,53.4 59.4,41.7 59.5,37.6 59.5,49.1 59.6,54.8 59.6,44.3 59.7,37.3 59.8,46.9 59.8,55.7 59.9,47.2 59.9,37.0 60.0,42.8 60.0,54.5 60.1,51.9 60.1,40.5 60.2,37.8 60.2,47.4 60.3,54.4 60.3,49.6 60.4,39.5 60.4,38.7 60.5,48.3 60.5,54.5 60.6,48.9 60.7,39.0 60.7,38.3 60.8,49.0 60.8,55.0 60.9,47.2 60.9,37.9 61.0,41.1 61.0,52.2 61.1,52.8 61.1,41.4 61.2,37.5 61.2,48.9 61.3,55.5 61.3,44.7 61.4,37.3 61.5,46.9 61.5,55.5 61.6,47.4 61.6,36.9 61.7,44.6 61.7,56.1 61.8,51.1 61.8,39.4 61.9,40.6 61.9,52.7 62.0,56.1 62.0,45.3 62.1,37.5 62.1,44.6 62.2,54.2 62.2,53.8 62.3,44.0 62.4,39.0 62.4,45.2 62.5,54.4 62.5,53.7 62.6,43.7 62.6,38.0 62.7,46.2 62.7,54.8 62.8,52.0 62.8,40.4 62.9,39.6 62.9,50.4 63.0,55.5 63.0,45.2 63.1,37.7 63.1,46.8 63.2,55.5 63.3,47.5 63.3,38.1 63.4,44.5 63.4,55.1 63.5,49.4 63.5,38.5 63.6,41.4 63.6,53.6 63.7,52.7 63.7,41.5 63.8,37.5 63.8,48.1 63.9,55.4 63.9,48.3 64.0,38.4 64.0,39.2 64.1,50.8 64.2,55.8 64.2,47.5 64.3,38.3 64.3,40.2 64.4,51.4 64.4,55.0 64.5,46.9 64.5,37.6 64.6,41.1 64.6,52.6 64.7,53.7 64.7,42.7 64.8,37.7 64.8,47.2 64.9,56.3 64.9,47.4 65.0,37.7 65.1,43.8 65.1,54.5 65.2,49.6 65.2,38.0 65.3,41.6 65.3,53.2 65.4,51.8 65.4,39.4 65.5,39.4 65.5,50.0 65.6,53.8 65.6,43.9 65.7,37.7 65.7,43.6 65.8,53.5 65.9,51.0 65.9,41.0 66.0,36.8 66.0,45.2 66.1,52.9 66.1,50.5 66.2,40.1 66.2,36.1 66.3,45.4 66.3,53.4 66.4,49.5 66.4,38.1 66.5,37.1 66.5,48.1 66.6,53.7 66.6,44.9 66.7,35.5 66.8,42.7 66.8,53.3 66.9,48.9 66.9,37.2 67.0,39.3 67.0,53.2 67.1,51.2 67.1,37.6 67.2,38.1 67.2,50.5 67.3,53.2 67.3,40.6 67.4,35.5 67.4,46.3 67.5,55.0 67.5,46.6 67.6,35.9 67.7,38.6 67.7,50.0 67.8,53.2 67.8,43.9 67.9,35.1 67.9,40.0 68.0,50.6 68.0,53.0 68.1,43.6 68.1,36.6 68.2,41.0 68.2,51.3 68.3,52.1 68.3,41.7 68.4,36.5 68.4,44.5 68.5,53.6 68.6,47.6 68.6,36.9 68.7,39.8 68.7,52.1 68.8,50.9 68.8,39.4 68.9,38.0 68.9,50.8 69.0,52.3 69.0,40.5 69.1,36.9 69.1,48.3 69.2,54.5 69.2,44.4 69.3,36.0 69.4,43.3 69.4,53.3 69.5,50.7 69.5,39.0 69.6,36.9 69.6,47.0 69.7,55.1 69.7,49.4 69.8,37.8 69.8,37.1 69.9,47.3 69.9,54.8 70.0,48.8 70.0,38.2 70.1,38.1 70.1,49.1 70.2,55.1 70.3,45.8 70.3,36.9 70.4,41.6 70.4,53.1 70.5,51.6 70.5,39.4 70.6,38.0 70.6,50.8 70.7,53.7 70.7,41.3 70.8,37.0 70.8,48.6 70.9,53.4 70.9,44.0 71.0,36.4 71.0,45.8 71.1,54.0 71.2,48.3 71.2,37.7 71.3,41.1 71.3,52.1 71.4,54.5 71.4,44.2 71.5,38.4 71.5,43.7 71.6,53.3 71.6,54.2 71.7,43.7 71.7,37.3 71.8,44.4 71.8,53.8 71.9,53.4 71.9,43.4 72.0,37.7 72.1,46.4 72.1,55.7 72.2,51.3 72.2,40.0 72.3,40.5 72.3,52.4 72.4,54.7 72.4,43.2 72.5,38.7 72.5,49.4 72.6,55.9 72.6,45.1 72.7,36.8 72.7,47.1 72.8,55.3 72.9,47.5 72.9,37.3 73.0,43.2 73.0,53.9 73.1,51.9 73.1,39.9 73.2,38.0 73.2,48.7 73.3,55.2 73.3,48.5 73.4,38.4 73.4,40.3 73.5,50.1 73.5,54.9 73.6,47.9 73.6,38.0 73.7,39.9 73.8,51.2 73.8,55.7 73.9,47.0 73.9,38.3 74.0,42.3 74.0,53.8 74.1,54.0 74.1,42.4 74.2,38.4 74.2,49.8 74.3,56.4 74.3,45.9 74.4,38.4 74.4,47.3 74.5,56.7 74.5,48.2 74.6,38.7 74.7,44.9 74.7,56.1 74.8,51.2 74.8,39.2 74.9,41.4 74.9,53.1 75.0,54.6 75.0,44.1 75.1,37.4 75.1,45.1 75.2,54.1 75.2,52.1 75.3,41.5 75.3,37.5 75.4,45.7 75.4,54.7 75.5,51.8 75.6,40.7 75.6,36.8 75.7,46.0 75.7,54.9 75.8,50.1 75.8,39.2 75.9,38.6 75.9,49.8 76.0,54.0 76.0,43.4 76.1,37.1 76.1,45.3 76.2,54.8 76.2,46.7 76.3,36.4 76.3,42.9 76.4,54.7 76.5,49.0 76.5,37.7 76.6,40.1 76.6,52.8 76.7,51.8 76.7,40.2 76.8,37.8 76.8,48.5 76.9,54.3 76.9,46.7 77.0,36.8 77.0,40.4 77.1,51.4 77.1,54.6 77.2,45.2 77.3,36.9 77.3,40.8 77.4,51.7 77.4,54.7 77.5,44.7 77.5,36.0 77.6,41.8 77.6,52.7 77.7,52.1 77.7,41.5 77.8,37.4 77.8,46.4 77.9,53.5 77.9,46.2 78.0,36.7 78.0,42.3 78.1,53.4 78.2,48.4 78.2,37.6 78.3,40.2 78.3,52.2 78.4,50.7 78.4,38.0 78.5,37.6 78.5,48.9 78.6,52.8 78.6,42.2 78.7,36.0 78.7,43.4 78.8,53.4 78.8,49.6 78.9,38.1 78.9,35.9 79.0,45.9 79.1,53.9 79.1,48.9 79.2,37.5 79.2,35.9 79.3,46.4 79.3,53.8 79.4,48.5 79.4,36.9 79.5,36.9 79.5,48.9 79.6,53.5 79.6,44.3 79.7,35.9 79.7,42.7 79.8,53.3 79.8,48.9 79.9,37.5 80.0,40.0 80.0,52.8 80.1,50.9 80.1,38.9 80.2,38.2 80.2,50.6 80.3,53.1 80.3,41.3 80.4,37.3 80.4,46.9 80.5,54.4 80.5,46.3 80.6,37.5 80.6,40.9 80.7,51.0 80.8,53.1 80.8,43.4 80.9,36.7 80.9,42.4 81.0,52.2 81.0,53.0 81.1,43.0 81.1,37.3 81.2,42.8 81.2,52.5 81.3,51.9 81.3,41.4 81.4,37.4 81.4,45.9 81.5,54.5 81.5,48.7 81.6,37.2 81.7,40.9 81.7,52.5 81.8,51.8 81.8,40.1 81.9,38.0 81.9,51.3 82.0,54.1 82.0,41.5 82.1,37.3 82.1,49.0 82.2,55.8 82.2,45.1 82.3,36.9 82.3,44.7 82.4,55.4 82.4,51.3 82.5,39.6 82.6,38.9 82.6,49.1 82.7,55.1 82.7,48.5 82.8,38.3 82.8,39.3 82.9,49.9 82.9,55.2 83.0,48.3 83.0,38.7 83.1,40.3 83.1,50.4 83.2,55.4 83.2,46.3 83.3,37.6 83.3,43.3 83.4,53.8 83.5,52.1 83.5,40.7 83.6,39.8 83.6,51.7 83.7,53.6 83.7,43.0 83.8,39.3 83.8,49.4 83.9,55.5 83.9,45.5 84.0,38.5 84.0,47.1 84.1,55.1 84.1,49.1 84.2,39.4 84.2,42.1 84.3,53.2 84.4,54.1 84.4,43.7 84.5,38.5 84.5,45.6 84.6,54.8 84.6,53.6 84.7,42.5 84.7,37.4 84.8,45.9 84.8,55.7 84.9,53.0 84.9,41.7 85.0,37.4 85.0,47.2 85.1,56.1 85.2,50.0 85.2,38.3 85.3,40.0 85.3,51.9 85.4,53.9 85.4,42.5 85.5,38.3 85.5,48.7 85.6,55.1 85.6,44.8 85.7,37.3 85.7,46.3 85.8,55.3 85.8,47.2 85.9,38.2 85.9,43.1 86.0,53.4 86.1,51.1 86.1,39.8 86.2,38.5 86.2,49.7 86.3,54.6 86.3,47.1 86.4,38.6 86.4,40.9 86.5,51.2 86.5,54.5 86.6,46.3 86.6,37.4 86.7,41.2 86.7,52.1 86.8,54.6 86.8,45.6 86.9,36.9 87.0,43.0 87.0,53.2 87.1,52.5 87.1,41.0 87.2,38.2 87.2,49.3 87.3,55.4 87.3,44.9 87.4,37.3 87.4,45.7 87.5,54.6 87.5,47.1 87.6,36.0 87.6,43.1 87.7,54.3 87.7,49.3 87.8,37.9 87.9,39.4 87.9,51.0 88.0,52.2 88.0,41.4 88.1,36.1 88.1,44.3 88.2,53.5 88.2,49.5 88.3,38.9 88.3,35.7 88.4,45.6 88.4,53.6 88.5,48.7 88.5,38.2 88.6,36.9 88.7,45.9 88.7,53.4 88.8,47.6 88.8,37.6 88.9,37.9 88.9,49.7 89.0,52.8 89.0,42.5 89.1,36.2 89.1,44.8 89.2,53.9 89.2,46.7 89.3,36.0 89.3,42.2 89.4,53.1 89.4,48.9 89.5,37.4 89.6,40.0 89.6,52.9 89.7,52.1 89.7,39.2 89.8,37.0 89.8,48.8 89.9,54.5 89.9,45.5 90.0,37.0 90.0,41.1 90.1,51.9 90.1,53.3 90.2,43.3 90.2,36.4 90.3,41.7 90.3,52.2 90.4,52.9 90.5,42.6 90.5,35.7 90.6,42.0 90.6,52.2 90.7,50.8 90.7,40.0 90.8,36.0 90.8,46.1 90.9,52.9 90.9,45.7 91.0,35.5 91.0,41.6 91.1,52.6 91.1,48.8 91.2,36.6 91.2,39.7 91.3,52.1 91.4,51.0 91.4,38.1 91.5,37.5 91.5,50.1 91.6,54.0 91.6,42.1 91.7,36.6 91.7,44.9 91.8,54.3 91.8,49.6 91.9,38.2 91.9,37.8 92.0,48.4 92.0,54.4 92.1,48.6 92.1,38.1 92.2,38.0 92.3,49.4 92.3,56.0 92.4,48.3 92.4,38.7 92.5,39.8 92.5,50.9 92.6,54.4 92.6,45.2 92.7,37.0 92.7,44.4 92.8,54.2 92.8,49.8 92.9,38.6 92.9,41.0 93.0,52.5 93.1,52.0 93.1,40.7 93.2,39.4 93.2,51.4 93.3,53.9 93.3,42.7 93.4,38.4 93.4,48.2 93.5,54.9 93.5,46.7 93.6,38.0 93.6,42.4 93.7,53.2 93.7,53.5 93.8,42.9 93.8,38.1 93.9,44.7 94.0,54.3 94.0,52.6 94.1,42.0 94.1,37.7 94.2,45.0 94.2,54.5 94.3,53.0 94.3,41.2 94.4,37.0 94.4,47.8 94.5,56.8 94.5,49.4 94.6,38.3 94.6,41.7 94.7,53.7 94.7,53.2 94.8,40.4 94.9,39.7 94.9,51.8 95.0,54.7 95.0,42.7 95.1,38.9 95.1,49.8 95.2,55.3 95.2,45.7 95.3,38.5 95.3,45.8 95.4,56.1 95.4,50.9 95.5,39.9 95.5,40.0 95.6,50.5 95.6,54.7 95.7,47.7 95.8,38.5 95.8,41.7 95.9,51.3 95.9,55.3 96.0,47.1 96.0,39.1 96.1,41.8 96.1,51.5 96.2,55.1 96.2,45.6 96.3,38.0 96.3,44.0 96.4,54.8 96.4,51.9 96.5,40.0 96.6,40.3 96.6,51.2 96.7,54.1 96.7,42.9 96.8,37.6 96.8,49.2 96.9,56.2 96.9,45.0 97.0,37.2 97.0,46.4 97.1,55.8 97.1,48.2 97.2,37.4 97.2,41.6 97.3,53.2 97.3,53.2 97.4,42.0 97.5,37.4 97.5,45.8 97.6,55.0 97.6,50.9 97.7,39.8 97.7,36.8 97.8,46.4 97.8,55.0 97.9,50.1 97.9,39.9 98.0,36.8 98.0,47.0 98.1,54.1 98.1,48.1 98.2,37.3 98.2,39.7 98.3,50.7 98.4,52.6 98.4,41.3 98.5,37.5 98.5,47.6 98.6,53.6 98.6,44.5 98.7,36.9 98.7,45.3 98.8,54.5 98.8,46.6 98.9,36.4 98.9,42.8 99.0,53.1 99.0,50.0 99.1,38.3 99.1,38.7 99.2,49.5 99.3,53.4 99.3,45.2 99.4,36.4 99.4,40.8 99.5,51.8 99.5,54.1 99.6,43.9 99.6,35.8 99.7,41.3 99.7,52.1 99.8,53.1 99.8,43.0 99.9,36.1 99.9,42.5 100.0,53.3 100.0,51.7 100.1,39.4 100.2,35.8 100.2,48.0 100.3,53.6 100.3,43.5 100.4,35.6 100.4,44.0 100.5,53.9 100.5,46.2 100.6,35.7 100.6,41.7 100.7,53.0 100.7,48.0 100.8,36.5 100.8,38.7 100.9,51.2 101.0,51.8 101.0,40.6 101.1,36.3 101.1,44.9 101.2,53.4 101.2,48.3 101.3,37.7 101.3,36.7 101.4,47.1 101.4,53.8 101.5,48.0 101.5,37.6 101.6,37.9 101.6,47.7 101.7,53.5 101.7,47.5 101.8,37.8 101.9,39.8 101.9,51.0 102.0,53.8 102.0,43.1 102.1,36.3 102.1,45.6 102.2,54.6 102.2,47.4 102.3,37.4 102.3,42.5 102.4,54.0 102.4,49.8 102.5,37.7 102.5,40.3 102.6,53.1 102.6,52.2 102.7,39.9 102.8,38.3 102.8,49.3 102.9,53.9 102.9,44.9 103.0,35.8 103.0,42.2 103.1,52.5 103.1,52.1 103.2,41.9 103.2,36.2 103.3,43.3 103.3,53.6 103.4,52.1 103.4,41.8 103.5,35.9 103.5,43.7 103.6,53.4 103.7,51.5 103.7,39.9 103.8,37.5 103.8,47.8 103.9,54.9 103.9,46.5 104.0,37.4 104.0,43.2 104.1,54.5 104.1,50.2 104.2,38.6 104.2,40.9 104.3,52.9 104.3,53.3 104.4,40.0 104.5,38.9 104.5,51.6 104.6,54.6 104.6,44.0 104.7,37.3 104.7,47.4 104.8,55.4 104.8,50.0 104.9,39.2 104.9,40.7 105.0,51.0 105.0,56.3 105.1,48.3 105.1,39.0 105.2,40.8 105.2,51.5 105.3,55.5 105.4,47.8 105.4,38.8 105.5,41.9 105.5,52.5 105.6,55.0 105.6,45.1 105.7,38.0 105.7,45.3 105.8,55.0 105.8,50.4 105.9,38.9 105.9,41.3 106.0,53.0 106.0,53.2 106.1,41.1 106.1,39.1 106.2,50.9 106.3,53.6 106.3,42.4 106.4,38.5 106.4,48.5 106.5,55.9 106.5,46.6 106.6,37.5 106.6,43.2 106.7,54.3 106.7,53.5 106.8,42.0 106.8,37.2 106.9,46.4 106.9,55.0 107.0,52.5 107.0,40.8 107.1,37.4 107.2,47.0 107.2,55.7 107.3,52.0 107.3,40.7 107.4,38.1 107.4,49.0 107.5,56.2 107.5,48.8 107.6,38.6 107.6,42.2 107.7,54.3 107.7,52.7 107.8,41.0 107.8,39.3 107.9,51.0 107.9,54.6 108.0,42.9 108.1,38.2 108.1,48.7 108.2,54.4 108.2,45.2 108.3,38.0 108.3,45.3 108.4,54.7 108.4,49.1 108.5,38.6 108.5,39.7 108.6,50.6 108.6,54.4 108.7,45.3 108.7,37.7 108.8,41.4 108.9,51.8 108.9,54.0 109.0,44.5 109.0,36.7 109.1,41.5 109.1,52.2 109.2,53.9 109.2,43.3 109.3,35.5 109.3,43.4 109.4,53.9 109.4,50.6 109.5,37.9 109.5,38.0 109.6,50.7 109.6,54.6 109.7,41.6 109.8,35.8 109.8,47.7 109.9,54.8 109.9,44.1 110.0,35.8 110.0,45.0 110.1,54.2 110.1,47.1 110.2,36.6 110.2,41.2 110.3,52.2 110.3,51.4 110.4,40.0 110.4,35.8 110.5,45.9 110.5,54.2 110.6,48.5 110.7,37.8 110.7,37.4 110.8,46.9 110.8,53.7 110.9,48.2 110.9,37.7 111.0,37.5 111.0,47.4 111.1,53.2 111.1,46.5 111.2,36.4 111.2,39.8 111.3,50.9 111.3,51.8 111.4,40.7 111.4,36.7 111.5,46.8 111.6,53.5 111.6,44.1 111.7,36.2 111.7,44.5 111.8,53.7 111.8,46.3 111.9,35.4 111.9,42.0 112.0,53.8 112.0,50.0 112.1,37.3 112.1,37.4 112.2,50.1 112.2,53.3 112.3,43.4 112.4,35.4 112.4,41.5 112.5,52.6 112.5,53.1 112.6,41.4 112.6,34.7 112.7,42.3 112.7,53.1 112.8,52.5 112.8,41.3 112.9,34.6 112.9,43.2 113.0,53.9 113.0,50.3 113.1,38.6 113.1,36.6 113.2,48.3 113.3,53.3 113.3,43.7 113.4,36.4 113.4,44.3 113.5,53.6 113.5,46.7 113.6,36.1 113.6,42.2 113.7,52.9 113.7,49.3 113.8,38.1 113.8,40.4 113.9,51.7 113.9,52.1 114.0,41.4 114.0,36.9 114.1,47.1 114.2,54.7 114.2,48.6 114.3,38.4 114.3,38.9 114.4,49.7 114.4,55.6 114.5,47.6 114.5,38.7 114.6,39.9 114.6,50.6 114.7,55.5 114.7,47.2 114.8,36.9 114.8,40.6 114.9,52.6 114.9,55.1 115.0,43.4 115.1,36.4 115.1,46.4 115.2,54.9 115.2,48.3 115.3,37.5 115.3,42.9 115.4,54.2 115.4,50.8 115.5,37.9 115.5,40.2 115.6,52.8 115.6,52.2 115.7,39.6 115.7,38.6 115.8,49.8 115.8,55.1 115.9,44.8 116.0,36.7 116.0,43.6 116.1,54.2 116.1,52.2 116.2,41.3 116.2,37.8 116.3,45.7 116.3,54.5 116.4,51.5 116.4,41.7 116.5,38.2 116.5,46.4 116.6,54.8 116.6,51.4 116.7,40.5 116.8,39.5 116.8,49.7 116.9,55.4 116.9,47.5 117.0,37.8 117.0,44.2 117.1,55.3 117.1,51.4 117.2,39.1 117.2,41.4 117.3,53.7 117.3,53.3 117.4,40.7 117.4,39.7 117.5,52.3 117.5,55.6 117.6,43.9 117.7,37.4 117.7,47.7 117.8,55.9 117.8,49.1 117.9,38.4 117.9,40.1 118.0,51.4 118.0,54.4 118.1,45.8 118.1,36.8 118.2,41.1 118.2,51.7 118.3,55.0 118.3,44.9 118.4,37.1 118.4,41.1 118.5,52.0 118.6,54.0 118.6,42.6 118.7,35.4 118.7,44.1 118.8,53.7 118.8,49.3 118.9,37.1 118.9,39.4 119.0,52.5 119.0,52.7 119.1,38.8 119.1,37.1 119.2,49.6 119.2,54.3 119.3,40.8 119.3,34.6 119.4,47.3 119.5,55.2 119.5,44.6 119.6,34.9 119.6,41.8 119.7,53.0 119.7,51.0 119.8,38.3 119.8,35.6 119.9,45.7 119.9,54.3 120.0,48.8 120.0,36.7 120.1,35.9 120.1,46.1 120.2,53.6 120.3,47.9 120.3,36.2 120.4,35.6 120.4,46.8 120.5,52.9 120.5,44.6 120.6,33.2 120.6,38.1 120.7,51.8 120.7,50.1 120.8,36.8 120.8,34.5 120.9,47.8 120.9,51.8 121.0,38.7 121.0,32.8 121.1,45.2 121.2,53.1 121.2,41.1 121.3,31.6 121.3,41.4 121.4,52.8 121.4,45.5 121.5,32.2 121.5,35.0 121.6,48.5 121.6,51.5 121.7,40.1 121.7,31.6 121.8,38.3 121.8,51.4 121.9,51.9 121.9,39.4 122.0,31.1 122.1,39.2 122.1,51.4 122.2,51.3 122.2,38.5 122.3,32.4 122.3,41.6 122.4,53.5 122.4,48.4 122.5,35.6 122.5,34.7 122.6,48.6 122.6,53.4 122.7,39.7 122.7,32.7 122.8,45.5 122.8,52.8 122.9,42.5 123.0,34.0 123.0,43.2 123.1,53.5 123.1,45.6 123.2,34.8 123.2,39.5 123.3,51.4 123.3,49.8 123.4,37.5 123.4,35.4 123.5,46.0 123.5,52.9 123.6,46.7 123.6,36.3 123.7,36.5 123.7,48.0 123.8,53.7 123.9,46.4 123.9,36.3 124.0,37.5 124.0,49.2 124.1,54.9 124.1,45.6 124.2,36.1 124.2,39.6 124.3,52.2 124.3,53.6 124.4,40.4 124.4,35.8 124.5,47.8 124.5,55.7 124.6,45.0 124.7,35.1 124.7,45.0 124.8,56.3 124.8,47.9 124.9,36.5 124.9,42.6 125.0,56.1 125.0,51.6 125.1,38.5 125.1,39.6 125.2,52.7 125.2,55.2 125.3,44.1 125.3,36.4 125.4,44.7 125.4,56.1 125.5,54.2 125.6,42.5 125.6,37.8 125.7,46.0 125.7,55.5 125.8,53.3 125.8,42.7 125.9,37.7 125.9,47.1 126.0,56.9 126.0,52.6 126.1,40.8 126.1,40.2 126.2,51.3 126.2,57.2 126.3,46.5 126.3,39.3 126.4,47.2 126.5,57.0 126.5,50.5 126.6,39.4 126.6,44.9 126.7,57.0 126.7,53.5 126.8,40.9 126.8,42.5 126.9,56.3 126.9,57.1 127.0,43.3 127.0,39.6 127.1,51.3 127.1,59.2 127.2,51.1 127.2,40.2 127.3,41.9 127.4,55.6 127.4,59.4 127.5,49.1 127.5,39.2 127.6,43.3 127.6,56.1 127.7,59.9 127.7,48.7 127.8,38.2 127.8,44.3 127.9,56.7 127.9,58.8 128.0,45.0 128.0,38.1 128.1,49.8 128.2,60.1 128.2,51.7 128.3,38.2 128.3,45.1 128.4,58.8 128.4,54.8 128.5,40.0 128.5,43.0 128.6,57.5 128.6,56.6 128.7,43.0 128.7,40.2 128.8,55.0 128.8,60.7 128.9,47.7 128.9,38.8 129.0,47.9 129.1,60.5 129.1,56.3 129.2,42.6 129.2,40.1 129.3,51.1 129.3,60.4 129.4,55.1 129.4,42.0 129.5,39.3 129.5,51.6 129.6,61.8 129.6,54.8 129.7,40.6 129.7,40.4 129.8,54.0 129.8,61.5 129.9,49.6 130.0,37.4 130.0,45.6 130.1,59.5 130.1,55.3 130.2,39.3 130.2,40.8 130.3,56.6 130.3,56.8 130.4,41.2 130.4,38.1 130.5,53.9 130.5,58.1 130.6,43.5 130.6,35.7 130.7,49.1 130.7,58.2 130.8,49.4 130.9,35.6 130.9,40.4 131.0,54.1 131.0,56.3 131.1,44.4 131.1,34.8 131.2,41.7 131.2,55.6 131.3,56.5 131.3,43.5 131.4,35.4 131.4,42.2 131.5,55.4 131.5,54.8 131.6,41.1 131.6,34.7 131.7,45.4 131.8,57.0 131.8,49.9 131.9,36.1 131.9,38.5 132.0,53.7 132.0,53.9 132.1,39.2 132.1,35.7 132.2,50.9 132.2,54.8 132.3,41.1 132.3,34.4 132.4,48.0 132.4,56.8 132.5,44.6 132.6,33.9 132.6,42.3 132.7,54.6 132.7,50.9 132.8,36.8 132.8,35.7 132.9,46.9 132.9,55.5 133.0,47.1 133.0,35.7 133.1,35.4 133.1,47.5 133.2,54.0 133.2,46.4 133.3,33.9 133.3,35.4 133.4,48.3 133.5,54.4 133.5,43.5 133.6,33.3 133.6,38.7 133.7,52.1 133.7,50.9 133.8,35.9 133.8,33.8 133.9,48.2 133.9,53.4 134.0,39.6 134.0,33.6 134.1,45.6 134.1,54.1 134.2,42.5 134.2,31.9 134.3,42.8 134.4,55.0 134.4,47.0 134.5,33.7 134.5,37.9 134.6,51.9 134.6,52.9 134.7,41.1 134.7,34.2 134.8,42.1 134.8,54.1 134.9,52.8 134.9,39.9 135.0,34.5 135.0,43.2 135.1,54.7 135.1,51.9 135.2,39.5 135.3,34.7 135.3,44.9 135.4,54.8 135.4,49.8 135.5,36.4 135.5,37.9 135.6,50.9 135.6,54.7 135.7,41.8 135.7,36.2 135.8,47.1 135.8,54.9 135.9,44.7 135.9,34.7 136.0,44.6 136.1,55.3 136.1,47.4 136.2,35.3 136.2,41.6 136.3,54.0 136.3,52.0 136.4,39.2 136.4,36.7 136.5,48.9 136.5,56.2 136.6,47.5 136.6,37.5 136.7,39.6 136.7,51.8 136.8,56.8 136.8,46.9 136.9,36.5 137.0,40.7 137.0,52.7 137.1,57.0 137.1,46.6 137.2,37.7 137.2,43.1 137.3,55.1 137.3,55.0 137.4,42.6 137.4,38.2 137.5,50.2 137.5,57.7 137.6,47.7 137.6,38.0 137.7,47.2 137.7,58.6 137.8,50.9" fill="none" stroke="#D95C33" stroke-width="0.8" stroke-linejoin="round" filter="url(#bl)"/>
</g>
<rect x="36.5" y="26.5" width="137.8" height="93.0" fill="none" stroke="#666" stroke-width="0.7"/>
<line x1="82.43" y1="119.5" x2="82.43" y2="118.0" stroke="#555" stroke-width="0.6"/>
<line x1="82.43" y1="26.5" x2="82.43" y2="28.0" stroke="#555" stroke-width="0.6"/>
<line x1="128.37" y1="119.5" x2="128.37" y2="118.0" stroke="#555" stroke-width="0.6"/>
<line x1="128.37" y1="26.5" x2="128.37" y2="28.0" stroke="#555" stroke-width="0.6"/>
<line x1="36.5" y1="49.75" x2="38.0" y2="49.75" stroke="#555" stroke-width="0.6"/>
<line x1="174.3" y1="49.75" x2="172.8" y2="49.75" stroke="#555" stroke-width="0.6"/>
<line x1="36.5" y1="73.00" x2="38.0" y2="73.00" stroke="#555" stroke-width="0.6"/>
<line x1="174.3" y1="73.00" x2="172.8" y2="73.00" stroke="#555" stroke-width="0.6"/>
<line x1="36.5" y1="96.25" x2="38.0" y2="96.25" stroke="#555" stroke-width="0.6"/>
<line x1="174.3" y1="96.25" x2="172.8" y2="96.25" stroke="#555" stroke-width="0.6"/>
<text class="t" x="36.8" y="133.7" text-anchor="middle">0</text>
<text class="t" x="82.7" y="133.7" text-anchor="middle">50</text>
<text class="t" x="128.7" y="133.7" text-anchor="middle">100</text>
<text class="t" x="174.6" y="133.7" text-anchor="middle">150</text>
<text class="t" x="33.5" y="30.2" text-anchor="end">10</text>
<text class="t" x="33.5" y="53.5" text-anchor="end">5</text>
<text class="t" x="33.5" y="76.8" text-anchor="end">0</text>
<text class="t" x="33.5" y="100.0" text-anchor="end">-5</text>
<text class="t" x="33.5" y="123.2" text-anchor="end">-10</text>
<text class="ax" x="105.7" y="147.7" text-anchor="middle">x</text>
<text class="ax" style="font-size:12px" transform="translate(13.8,73.8) rotate(-90)" text-anchor="middle">f<tspan font-style="normal">(</tspan>x<tspan font-style="normal">)</tspan></text>
<text class="c" x="107.5" y="161.9" text-anchor="middle">(a) PhaseDNN <tspan font-style="italic">N</tspan><tspan fill="#777">=</tspan>100</text>
<line x1="106.8" y1="9.3" x2="128.3" y2="9.3" stroke="#1f6cb8" stroke-width="0.55" stroke-opacity="0.7"/>
<line x1="106.8" y1="20.5" x2="128.3" y2="20.5" stroke="#D95C33" stroke-width="0.6" stroke-opacity="0.7"/>
<text x="130.5" y="12.7" font-size="9.4">Truth</text>
<text x="130.5" y="23.9" font-size="9.4">PhaseDNN</text>
</g>
<g>
<line x1="264.43" y1="26.5" x2="264.43" y2="119.5" stroke="#e6e6e6" stroke-width="0.5"/>
<line x1="310.37" y1="26.5" x2="310.37" y2="119.5" stroke="#e6e6e6" stroke-width="0.5"/>
<line x1="218.5" y1="49.75" x2="356.3" y2="49.75" stroke="#e6e6e6" stroke-width="0.5"/>
<line x1="218.5" y1="73.00" x2="356.3" y2="73.00" stroke="#e6e6e6" stroke-width="0.5"/>
<line x1="218.5" y1="96.25" x2="356.3" y2="96.25" stroke="#e6e6e6" stroke-width="0.5"/>
<g transform="translate(218.5,26.5)">
<g filter="url(#bl)">
<path d="M1.6,10.7 1.9,23.2 2.6,25.7 3.0,34.3 4.7,45.2 5.9,49.6 5.9,49.6 6.8,45.2 8.0,34.2 8.3,24.7 8.4,19.1 10.3,12.8 12.5,9.5 12.8,22.4 13.6,25.1 13.9,34.0 15.7,45.2 16.9,49.6 16.9,49.6 17.8,45.1 19.0,33.9 19.2,24.1 19.3,18.5 21.3,12.1 23.5,8.7 23.8,21.9 24.5,24.6 24.9,33.7 26.6,45.1 27.8,49.7 27.8,49.7 28.7,45.1 29.9,33.6 30.2,23.7 30.3,18.0 32.2,11.5 34.4,8.1 34.7,21.5 35.5,24.3 35.8,33.5 37.6,45.1 38.8,49.7 38.8,49.7 39.7,45.1 40.9,33.4 41.1,23.4 41.2,17.6 43.2,10.9 45.4,7.6 45.7,21.2 46.4,24.0 46.8,33.3 48.5,45.1 49.7,49.8 49.7,49.8 50.6,45.1 51.8,33.3 52.1,23.1 52.2,17.2 54.1,10.5 56.3,7.1 56.6,20.8 57.4,23.7 57.7,33.2 59.5,45.1 60.7,49.8 60.7,49.8 61.6,45.1 62.8,33.1 63.0,22.8 63.1,16.8 65.1,10.0 67.3,6.6 67.6,20.5 68.3,23.4 68.7,33.0 70.4,45.1 71.6,49.9 71.6,49.9 72.5,45.0 73.7,32.9 74.0,22.5 74.1,16.5 76.0,9.6 78.2,6.2 78.5,20.2 79.3,23.1 79.6,32.9 81.4,45.0 82.6,49.9 82.6,49.9 83.5,45.0 84.7,32.8 84.9,22.3 85.0,16.2 87.0,9.3 89.2,5.7 89.5,20.0 90.2,22.9 90.6,32.7 92.3,45.0 93.5,49.9 93.5,49.9 94.4,45.0 95.6,32.7 95.9,22.1 96.0,15.9 97.9,8.9 100.1,5.4 100.4,19.7 101.2,22.7 101.5,32.6 103.3,45.0 104.5,50.0 104.5,50.0 105.4,45.0 106.6,32.5 106.9,21.8 106.9,15.6 108.9,8.5 111.1,5.0 111.4,19.5 112.1,22.5 112.5,32.5 114.2,45.0 115.4,50.0 115.4,50.0 116.3,45.0 117.5,32.4 117.8,21.6 117.9,15.3 119.8,8.2 122.0,4.6 122.3,19.2 123.1,22.3 123.4,32.4 125.2,45.0 126.4,50.0 126.4,50.0 127.3,45.0 128.5,32.3 128.8,21.4 128.8,15.1 130.8,7.9 133.0,4.3 133.3,19.0 134.0,22.1 134.4,32.2 136.1,45.0 137.3,50.1 137.3,50.1 137.8,45.0 L137.3,85.2 137.3,89.2 135.4,83.6 134.8,77.0 134.3,70.4 133.4,48.7 131.9,41.4 129.8,48.7 128.9,70.3 128.8,71.3 128.5,73.3 128.2,80.9 127.9,88.9 127.8,92.5 126.4,84.9 126.4,88.9 124.4,83.3 123.9,76.7 123.3,70.2 122.5,48.7 120.9,41.5 118.8,48.7 118.0,70.1 117.9,71.1 117.6,73.1 117.3,80.6 117.0,88.6 116.8,92.1 115.4,84.5 115.4,88.5 113.5,83.0 112.9,76.5 112.4,70.0 111.5,48.6 110.0,41.5 107.9,48.6 107.0,69.9 106.9,70.8 106.6,72.8 106.3,80.3 106.0,88.2 105.9,91.7 104.5,84.2 104.5,88.2 102.5,82.6 102.0,76.2 101.4,69.7 100.6,48.6 99.0,41.5 96.9,48.6 96.1,69.6 96.0,70.6 95.7,72.6 95.4,80.0 95.1,87.8 94.9,91.3 93.5,83.8 93.5,87.8 91.6,82.3 91.0,75.9 90.5,69.5 89.6,48.6 88.1,41.6 86.0,48.6 85.1,69.4 85.0,70.4 84.7,72.3 84.4,79.6 84.1,87.4 84.0,90.8 82.6,83.5 82.6,87.4 80.6,81.9 80.1,75.6 79.5,69.3 78.7,48.6 77.1,41.6 75.0,48.6 74.2,69.2 74.1,70.1 73.8,72.1 73.5,79.3 73.2,87.0 73.0,90.4 71.6,83.1 71.6,86.9 69.7,81.6 69.1,75.3 68.6,69.1 67.7,48.6 66.2,41.7 64.1,48.6 63.2,68.9 63.1,69.9 62.8,71.8 62.5,78.9 62.2,86.5 62.1,89.9 60.7,82.7 60.7,86.5 58.7,81.2 58.2,75.0 57.6,68.8 56.8,48.5 55.2,41.8 53.1,48.5 52.3,68.7 52.2,69.6 51.9,71.5 51.6,78.5 51.3,86.1 51.1,89.3 49.7,82.2 49.7,86.0 47.8,80.7 47.2,74.6 46.7,68.5 45.8,48.5 44.3,41.8 42.2,48.5 41.3,68.4 41.2,69.3 40.9,71.1 40.6,78.1 40.3,85.5 40.2,88.8 38.8,81.7 38.8,85.5 36.8,80.3 36.3,74.2 35.7,68.2 34.9,48.5 33.3,41.9 31.2,48.5 30.4,68.0 30.3,69.0 30.0,70.8 29.6,77.6 29.4,84.9 29.2,88.1 27.8,81.2 27.8,84.9 25.9,79.7 25.3,73.8 24.8,67.9 23.9,48.5 22.4,42.0 20.3,48.4 19.4,67.7 19.3,68.6 19.0,70.3 18.7,77.1 18.4,84.3 18.3,87.4 16.9,80.6 16.9,84.1 14.9,79.1 14.4,73.3 13.8,67.4 13.0,48.4 11.4,42.1 9.3,48.4 8.5,67.2 8.4,68.1 8.1,69.8 7.7,76.4 7.5,83.4 7.3,86.4 5.9,79.7 5.9,83.2 4.0,78.2 3.4,72.5 2.9,66.8 2.0,48.4 0.5,42.2Z" fill="#1f6cb8" fill-opacity="0.11"/>
<path d="M0.0,45.2 1.6,10.7 1.9,23.2 2.6,25.7 2.9,34.4 2.7,57.3 2.0,48.4 0.5,42.2 0.0,47.3ZM3.1,36.1 4.7,45.2 5.9,49.6 6.8,45.2 7.7,38.6 7.9,59.7 7.7,74.6 7.5,83.4 7.3,86.4 4.5,78.7 3.6,59.5 3.0,48.7ZM10.0,45.2 12.5,9.5 12.8,22.4 13.6,25.1 13.9,34.0 13.6,57.6 13.0,48.4 11.4,42.1 10.1,47.4ZM14.0,35.8 15.7,45.2 16.9,49.6 17.8,45.1 18.7,38.4 18.8,60.0 18.6,75.3 18.4,84.3 18.3,87.4 15.5,79.6 14.6,59.9 13.9,48.7ZM20.9,45.1 23.5,8.7 23.8,21.9 24.5,24.6 24.8,33.7 24.6,57.9 23.9,48.5 22.4,42.0 21.1,47.4ZM25.0,35.6 26.6,45.1 27.8,49.7 28.7,45.1 29.6,38.2 29.8,60.2 29.6,75.8 29.4,84.9 29.2,88.1 26.4,80.2 25.5,60.1 24.9,48.8ZM31.9,45.1 34.4,8.1 34.7,21.5 35.5,24.3 35.8,33.5 35.5,58.0 34.9,48.5 33.3,41.9 32.0,47.4ZM35.9,35.4 37.6,45.1 38.8,49.7 39.7,45.1 40.6,38.1 40.7,60.4 40.5,76.2 40.3,85.5 40.2,88.8 37.4,80.8 36.5,60.4 35.8,48.8ZM42.8,45.1 45.4,7.6 45.7,21.2 46.4,24.0 46.7,33.3 46.5,58.2 45.8,48.5 44.3,41.8 43.0,47.4ZM46.9,35.2 48.5,45.1 49.7,49.8 50.6,45.1 51.6,38.0 51.7,60.6 51.5,76.6 51.3,86.1 51.1,89.3 48.3,81.2 47.4,60.6 46.8,48.8ZM53.8,45.1 56.3,7.1 56.6,20.8 57.4,23.7 57.7,33.2 57.4,58.4 56.8,48.5 55.2,41.8 53.9,47.4ZM57.8,35.1 59.5,45.1 60.7,49.8 61.6,45.1 62.5,37.9 62.6,60.8 62.4,77.0 62.2,86.5 62.1,89.9 59.3,81.7 58.4,60.7 57.7,48.9ZM64.7,45.1 67.3,6.6 67.6,20.5 68.3,23.4 68.6,33.0 68.4,58.5 67.7,48.6 66.2,41.7 64.9,47.5ZM68.8,34.9 70.4,45.1 71.6,49.9 72.5,45.0 73.5,37.8 73.6,61.0 73.4,77.4 73.2,87.0 73.0,90.4 70.2,82.1 69.3,60.9 68.7,48.9ZM75.7,45.0 78.2,6.2 78.5,20.2 79.3,23.1 79.6,32.9 79.3,58.6 78.7,48.6 77.1,41.6 75.8,47.5ZM79.7,34.8 81.4,45.0 82.6,49.9 83.5,45.0 84.4,37.7 84.5,61.1 84.3,77.7 84.1,87.4 84.0,90.8 81.2,82.5 80.3,61.1 79.6,48.9ZM86.6,45.0 89.2,5.7 89.5,20.0 90.2,22.9 90.5,32.7 90.3,58.7 89.6,48.6 88.1,41.6 86.8,47.5ZM90.7,34.7 92.3,45.0 93.5,49.9 94.4,45.0 95.4,37.6 95.5,61.3 95.3,78.0 95.1,87.8 94.9,91.3 92.1,82.8 91.2,61.2 90.6,49.0ZM97.6,45.0 100.1,5.4 100.4,19.7 101.2,22.7 101.5,32.6 101.2,58.9 100.6,48.6 99.0,41.5 97.7,47.5ZM101.6,34.6 103.3,45.0 104.5,50.0 105.4,45.0 106.3,37.5 106.4,61.4 106.2,78.3 106.0,88.2 105.9,91.7 103.1,83.2 102.2,61.3 101.5,49.0ZM108.5,45.0 111.1,5.0 111.4,19.5 112.1,22.5 112.4,32.5 112.2,59.0 111.5,48.6 110.0,41.5 108.7,47.5ZM112.6,34.5 114.2,45.0 115.4,50.0 116.3,45.0 117.3,37.5 117.4,61.5 117.2,78.6 117.0,88.6 116.8,92.1 114.0,83.5 113.1,61.5 112.5,49.0ZM119.5,45.0 122.0,4.6 122.3,19.2 123.1,22.3 123.4,32.4 123.1,59.1 122.5,48.7 120.9,41.5 119.6,47.5ZM123.6,34.4 125.2,45.0 126.4,50.0 127.3,45.0 128.2,37.4 128.3,61.7 128.1,78.8 127.9,88.9 127.8,92.5 125.0,83.8 124.1,61.6 123.4,49.0ZM130.4,45.0 133.0,4.3 133.3,19.0 134.0,22.1 134.3,32.2 134.1,59.2 133.4,48.7 131.9,41.4 130.6,47.5ZM134.5,34.3 136.1,45.0 137.3,50.1 137.8,45.0 137.8,37.3 137.8,61.8 137.8,79.1 137.8,89.2 137.8,92.8 135.9,84.1 135.0,61.7 134.4,49.0Z" fill="#1f6cb8" fill-opacity="0.16"/>
<path d="M2.9,49.1 3.0,66.8 3.4,72.5 4.0,78.2 7.3,86.4M7.9,50.9 8.1,69.4 8.4,68.1 8.8,53.1 9.2,42.1M0.0,66.4 0.0,48.3 0.5,42.2M7.4,50.9 8.3,24.7 9.1,16.9 10.1,44.3M13.8,49.2 13.9,67.4 14.4,73.3 14.9,79.1 18.3,87.4M18.8,51.0 19.1,69.9 19.3,68.6 19.7,53.3 20.2,42.0M8.5,67.2 9.3,48.4 11.4,42.1M18.3,51.0 19.2,24.1 20.1,16.2 21.1,44.2M24.8,49.2 24.9,67.9 25.3,73.8 25.9,79.7 29.2,88.1M29.8,51.1 30.0,70.3 30.3,69.0 30.7,53.4 31.1,41.9M19.4,67.7 20.3,48.4 22.4,42.0M29.3,51.1 30.2,23.7 31.0,15.7 32.0,44.2M35.7,49.3 35.8,68.2 36.3,74.2 36.8,80.3 40.2,88.8M40.7,51.1 41.0,70.7 41.2,69.3 41.6,53.5 42.1,41.8M30.4,68.0 31.2,48.5 33.3,41.9M40.2,51.1 41.1,23.4 42.0,15.2 43.0,44.2M46.7,49.3 46.8,68.5 47.2,74.6 47.8,80.7 51.1,89.3M51.7,51.2 51.9,71.0 52.2,69.6 52.6,53.6 53.0,41.8M41.3,68.4 42.2,48.5 44.3,41.8M51.2,51.2 52.1,23.1 52.9,14.8 53.9,44.1M57.6,49.3 57.7,68.8 58.2,75.0 58.7,81.2 62.1,89.9M62.6,51.3 62.9,71.3 63.1,69.9 63.5,53.7 64.0,41.7M52.3,68.7 53.1,48.5 55.2,41.8M62.1,51.3 63.0,22.8 63.9,14.4 64.9,44.1M68.6,49.4 68.7,69.1 69.1,75.3 69.7,81.6 73.0,90.4M73.6,51.3 73.8,71.6 74.1,70.1 74.5,53.7 74.9,41.7M63.2,68.9 64.1,48.6 66.2,41.7M73.1,51.3 74.0,22.5 74.8,14.0 75.8,44.1M79.5,49.4 79.6,69.3 80.1,75.6 80.6,81.9 84.0,90.8M84.5,51.4 84.8,71.8 85.0,70.4 85.4,53.8 85.9,41.6M74.2,69.2 75.0,48.6 77.1,41.6M84.0,51.4 84.9,22.3 85.8,13.7 86.8,44.1M90.5,49.4 90.6,69.5 91.0,75.9 91.6,82.3 94.9,91.3M95.5,51.4 95.7,72.1 96.0,70.6 96.4,53.9 96.8,41.6M85.1,69.4 86.0,48.6 88.1,41.6M95.0,51.4 95.9,22.1 96.7,13.4 97.7,44.0M101.4,49.5 101.5,69.8 102.0,76.2 102.5,82.6 105.9,91.7M106.4,51.5 106.7,72.3 106.9,70.8 107.3,54.0 107.8,41.5M96.1,69.6 96.9,48.6 99.0,41.5M105.9,51.5 106.9,21.8 107.7,13.1 108.7,44.0M112.4,49.5 112.5,70.0 112.9,76.5 113.5,83.0 116.8,92.1M117.4,51.5 117.6,72.6 117.9,71.1 118.3,54.0 118.7,41.5M107.0,69.9 107.9,48.6 110.0,41.5M116.9,51.5 117.8,21.6 118.6,12.8 119.6,44.0M123.3,49.5 123.4,70.2 123.9,76.7 124.4,83.3 127.8,92.5M128.3,51.6 128.6,72.8 128.8,71.3 129.2,54.1 129.7,41.4M118.0,70.1 118.8,48.7 120.9,41.5M127.8,51.6 128.8,21.4 129.6,12.5 130.6,44.0M134.3,49.5 134.4,70.4 134.8,77.0 135.4,83.6 137.8,92.8M128.9,70.3 129.8,48.7 131.9,41.4" fill="none" stroke="#1f6cb8" stroke-opacity="0.36" stroke-width="0.75" stroke-linejoin="round"/>
<path d="M0.0,51.6 0.0,44.4 0.0,22.7 0.4,12.7 1.1,44.3 1.2,50.4M9.9,51.8 10.1,44.3 10.8,21.6 11.3,11.4 12.1,44.3 12.2,50.5M20.8,51.9 21.1,44.2 21.7,21.1 22.3,10.6 23.0,44.2 23.1,50.6M31.8,52.0 32.0,44.2 32.7,20.7 33.2,10.0 34.0,44.2 34.1,50.6M42.7,52.1 43.0,44.2 43.6,20.3 44.2,9.5 44.9,44.2 45.0,50.7M53.7,52.2 53.9,44.1 54.6,19.9 55.1,9.0 55.9,44.1 56.0,50.8M64.6,52.2 64.9,44.1 65.5,19.6 66.1,8.6 66.8,44.1 66.9,50.8M75.6,52.3 75.8,44.1 76.5,19.3 77.0,8.1 77.8,44.1 77.9,50.9M86.5,52.4 86.8,44.1 87.4,19.0 88.0,7.8 88.7,44.0 88.8,50.9M97.5,52.4 97.7,44.0 98.4,18.8 98.9,7.4 99.7,44.0 99.8,50.9M108.4,52.5 108.7,44.0 109.3,18.5 109.9,7.0 110.6,44.0 110.7,51.0M119.4,52.5 119.6,44.0 120.3,18.3 120.8,6.7 121.6,44.0 121.7,51.0M130.3,52.6 130.6,44.0 131.2,18.0 131.8,6.3 132.5,44.0 132.6,51.1" fill="none" stroke="#1f6cb8" stroke-opacity="0.62" stroke-width="0.75" stroke-linejoin="round"/>
<path d="M1.0,50.4 1.1,44.3 1.6,10.7 1.9,23.2 2.6,25.7 2.9,49.1 3.6,59.5 4.5,78.7 5.3,48.7 5.4,42.6M2.7,26.6 3.0,34.3 4.7,45.2 5.9,49.6M5.6,43.9 5.7,50.0 6.9,85.1 7.3,86.4 7.5,83.4 7.7,74.6 7.9,50.9 8.0,39.4M12.0,50.5 12.1,44.3 12.5,9.5 12.8,22.4 13.6,25.1 13.8,49.2 14.6,59.9 15.5,79.6 16.2,48.7 16.3,42.5M13.6,26.0 13.9,34.0 15.7,45.2 16.9,49.6M16.6,43.8 16.7,50.1 17.9,86.0 18.3,87.4 18.4,84.3 18.6,75.3 18.8,51.0 18.9,39.3M22.9,50.6 23.0,44.2 23.5,8.7 23.8,21.9 24.5,24.6 24.8,49.2 25.5,60.1 26.4,80.2 27.2,48.8 27.3,42.4M24.6,25.5 24.9,33.7 26.6,45.1 27.8,49.7M27.5,43.8 27.6,50.2 28.8,86.7 29.2,88.1 29.4,84.9 29.6,75.8 29.8,51.1 29.9,39.1M33.9,50.6 34.0,44.2 34.4,8.1 34.7,21.5 35.5,24.3 35.7,49.3 36.5,60.4 37.4,80.8 38.1,48.8 38.2,42.3M35.5,25.2 35.8,33.5 37.6,45.1 38.8,49.7M38.5,43.7 38.6,50.2 39.8,87.4 40.2,88.8 40.3,85.5 40.5,76.2 40.7,51.1 40.8,39.0M44.8,50.7 44.9,44.2 45.4,7.6 45.7,21.2 46.4,24.0 46.7,49.3 47.4,60.6 48.3,81.2 49.1,48.8 49.2,42.3M46.5,24.9 46.8,33.3 48.5,45.1 49.7,49.8M49.4,43.7 49.5,50.3 50.7,87.9 51.1,89.3 51.3,86.1 51.5,76.6 51.7,51.2 51.8,38.9M55.8,50.8 55.9,44.1 56.3,7.1 56.6,20.8 57.4,23.7 57.6,49.3 58.4,60.7 59.3,81.7 60.0,48.9 60.1,42.2M57.4,24.6 57.7,33.2 59.5,45.1 60.7,49.8M60.4,43.6 60.5,50.3 61.7,88.4 62.1,89.9 62.2,86.5 62.4,77.0 62.6,51.3 62.7,38.8M66.7,50.8 66.8,44.1 67.3,6.6 67.6,20.5 68.3,23.4 68.6,49.4 69.3,60.9 70.2,82.1 71.0,48.9 71.1,42.2M68.4,24.4 68.7,33.0 70.4,45.1 71.6,49.9M71.3,43.6 71.4,50.4 72.6,88.9 73.0,90.4 73.2,87.0 73.4,77.4 73.6,51.3 73.7,38.8M77.7,50.9 77.8,44.1 78.2,6.2 78.5,20.2 79.3,23.1 79.5,49.4 80.3,61.1 81.2,82.5 81.9,48.9 82.0,42.1M79.3,24.1 79.6,32.9 81.4,45.0 82.6,49.9M82.3,43.6 82.4,50.4 83.6,89.3 84.0,90.8 84.1,87.4 84.3,77.7 84.5,51.4 84.6,38.7M88.6,50.9 88.7,44.0 89.2,5.7 89.5,20.0 90.2,22.9 90.5,49.4 91.2,61.2 92.1,82.8 92.9,49.0 93.0,42.1M90.3,23.9 90.6,32.7 92.3,45.0 93.5,49.9M93.2,43.5 93.3,50.4 94.5,89.8 94.9,91.3 95.1,87.8 95.3,78.0 95.5,51.4 95.6,38.6M99.6,50.9 99.7,44.0 100.1,5.4 100.4,19.7 101.2,22.7 101.4,49.5 102.2,61.3 103.1,83.2 103.8,49.0 103.9,42.0M101.2,23.7 101.5,32.6 103.3,45.0 104.5,50.0M104.2,43.5 104.3,50.5 105.5,90.2 105.9,91.7 106.0,88.2 106.2,78.3 106.4,51.5 106.5,38.5M110.5,51.0 110.6,44.0 111.1,5.0 111.4,19.5 112.1,22.5 112.4,49.5 113.1,61.5 114.0,83.5 114.8,49.0 114.9,42.0M112.2,23.5 112.5,32.5 114.2,45.0 115.4,50.0M115.1,43.5 115.2,50.5 116.4,90.6 116.8,92.1 117.0,88.6 117.2,78.6 117.4,51.5 117.5,38.5M121.5,51.0 121.6,44.0 122.0,4.6 122.3,19.2 123.1,22.3 123.3,49.5 124.1,61.6 125.0,83.8 125.7,49.0 125.8,41.9M123.1,23.3 123.4,32.4 125.2,45.0 126.4,50.0M126.1,43.5 126.2,50.5 127.4,90.9 127.8,92.5 127.9,88.9 128.1,78.8 128.3,51.6 128.4,38.4M132.4,51.1 132.5,44.0 133.0,4.3 133.3,19.0 134.0,22.1 134.3,49.5 135.0,61.7 135.9,84.1 136.7,49.0 136.8,41.9M134.1,23.1 134.4,32.2 136.1,45.0 137.3,50.1M137.0,43.4 137.1,50.6 137.8,91.3 137.8,92.8 137.8,89.2 137.8,79.1 137.8,51.6 137.8,38.3" fill="none" stroke="#1f6cb8" stroke-opacity="1.0" stroke-width="0.75" stroke-linejoin="round"/>
<path d="" fill="none" stroke="#1f6cb8" stroke-opacity="0.7" stroke-width="0.75" stroke-linejoin="round"/>
</g>
<path d="M0.0,21.6 0.1,18.3 0.1,21.1 0.2,24.9 0.2,22.3 0.3,18.4 0.3,19.8 0.4,23.9 0.4,23.9 0.5,19.7 0.5,18.6 0.6,22.1 0.6,24.7 0.7,22.7 0.7,19.0 0.8,19.1 0.8,22.9 0.9,25.2 1.0,22.9 1.0,19.6 1.1,20.1 1.1,23.7 1.2,25.5 1.2,23.0 1.3,19.6 1.3,21.0 1.4,25.1 1.4,25.8 1.5,22.0 1.5,20.1 1.6,23.9 1.6,26.6 1.7,23.8 1.7,20.5 1.8,23.6 1.9,27.5 1.9,25.4 2.0,21.6 2.0,23.6 2.1,27.9 2.1,27.4 2.2,23.2 2.2,23.5 2.3,28.1 2.3,29.6 2.4,26.3 2.4,23.8 2.5,26.8 2.5,30.9 2.6,30.6 2.7,27.3 2.7,26.1 2.8,29.0 2.8,32.7 2.9,32.8 2.9,29.4 3.0,28.2 3.0,31.6 3.1,35.5 3.1,34.6 3.2,31.4 3.2,31.1 3.3,35.8 3.3,38.5 3.4,35.7 3.4,33.3 3.5,36.6 3.6,40.9 3.6,39.7 3.7,36.0 3.7,38.3 3.8,43.8 3.8,43.2 3.9,39.1 3.9,40.5 4.0,45.7 4.0,46.7 4.1,43.3 4.1,42.5 4.2,46.9 4.2,50.2 4.3,48.5 4.3,45.4 4.4,46.7 4.5,51.6 4.5,53.7 4.6,51.2 4.6,48.7 4.7,50.4 4.7,54.7 4.8,56.7 4.8,54.3 4.9,51.9 4.9,53.9 5.0,58.2 5.0,59.2 5.1,56.2 5.1,55.0 5.2,58.3 5.2,61.6 5.3,60.2 5.4,57.2 5.4,59.1 5.5,63.4 5.5,63.1 5.6,59.7 5.6,60.6 5.7,65.2 5.7,65.8 5.8,62.2 5.8,61.6 5.9,66.2 5.9,68.4 6.0,65.5 6.0,63.0 6.1,66.0 6.2,70.3 6.2,70.0 6.3,65.9 6.3,64.9 6.4,69.0 6.4,72.9 6.5,71.5 6.5,67.3 6.6,66.6 6.6,70.9 6.7,74.4 6.7,72.7 6.8,68.7 6.8,68.4 6.9,72.8 6.9,75.5 7.0,72.3 7.1,68.9 7.1,70.9 7.2,75.2 7.2,74.4 7.3,70.0 7.3,70.1 7.4,74.4 7.4,74.7 7.5,70.3 7.5,69.4 7.6,73.1 7.6,74.5 7.7,70.6 7.7,68.5 7.8,71.0 7.8,73.4 7.9,71.0 8.0,67.4 8.0,67.8 8.1,70.9 8.1,71.5 8.2,68.1 8.2,65.0 8.3,66.3 8.3,69.3 8.4,69.5 8.4,65.6 8.5,62.8 8.5,64.0 8.6,67.3 8.6,67.3 8.7,62.5 8.7,59.6 8.8,62.4 8.9,65.6 8.9,63.3 9.0,57.6 9.0,57.8 9.1,62.7 9.1,62.7 9.2,56.5 9.2,54.1 9.3,59.2 9.3,60.9 9.4,54.8 9.4,51.1 9.5,55.6 9.5,58.8 9.6,53.7 9.6,48.5 9.7,50.8 9.8,55.7 9.8,53.9 9.9,47.6 9.9,45.7 10.0,49.9 10.0,52.7 10.1,49.0 10.1,43.4 10.2,42.6 10.2,47.0 10.3,49.2 10.3,45.6 10.4,40.2 10.4,40.0 10.5,44.1 10.6,46.0 10.6,41.6 10.7,36.8 10.7,38.3 10.8,42.8 10.8,42.2 10.9,36.0 10.9,34.1 11.0,39.1 11.0,40.9 11.1,35.3 11.1,31.9 11.2,36.1 11.2,39.9 11.3,34.6 11.3,29.7 11.4,33.0 11.5,38.4 11.5,34.8 11.6,28.4 11.6,29.0 11.7,35.3 11.7,36.0 11.8,29.9 11.8,25.4 11.9,29.3 11.9,34.8 12.0,34.5 12.0,27.7 12.1,24.3 12.1,28.5 12.2,34.2 12.2,33.6 12.3,26.8 12.4,23.7 12.4,28.8 12.5,34.4 12.5,32.0 12.6,24.9 12.6,25.3 12.7,32.2 12.7,35.0 12.8,28.4 12.8,24.8 12.9,31.0 12.9,36.5 13.0,31.3 13.0,25.6 13.1,30.9 13.1,37.9 13.2,34.5 13.3,27.4 13.3,30.7 13.4,39.5 13.4,39.1 13.5,31.1 13.5,29.3 13.6,38.2 13.6,43.8 13.7,38.9 13.7,30.8 13.8,32.9 13.8,43.1 13.9,47.6 13.9,41.0 14.0,32.7 14.1,35.7 14.1,47.1 14.2,51.0 14.2,43.0 14.3,34.1 14.3,38.8 14.4,52.1 14.4,53.4 14.5,40.4 14.5,35.2 14.6,47.5 14.6,56.2 14.7,46.7 14.7,34.8 14.8,44.4 14.8,56.8 14.9,50.6 15.0,36.9 15.0,42.5 15.1,56.4 15.1,54.0 15.2,37.9 15.2,38.8 15.3,53.3 15.3,57.1 15.4,43.8 15.4,35.3 15.5,45.2 15.5,56.6 15.6,54.1 15.6,40.3 15.7,36.0 15.7,47.1 15.8,57.6 15.9,53.2 15.9,39.9 16.0,37.0 16.0,47.6 16.1,58.5 16.1,51.5 16.2,38.4 16.2,37.5 16.3,51.3 16.3,56.9 16.4,46.1 16.4,36.4 16.5,45.2 16.5,57.5 16.6,51.2 16.6,37.7 16.7,41.5 16.8,55.7 16.8,53.8 16.9,38.8 16.9,39.3 17.0,53.7 17.0,55.6 17.1,41.2 17.1,36.5 17.2,49.3 17.2,56.8 17.3,48.0 17.3,36.2 17.4,40.6 17.4,53.4 17.5,55.7 17.5,44.6 17.6,35.8 17.7,40.7 17.7,52.5 17.8,54.6 17.8,43.7 17.9,35.2 17.9,40.8 18.0,53.5 18.0,54.0 18.1,40.4 18.1,34.8 18.2,45.1 18.2,54.6 18.3,47.4 18.3,34.6 18.4,39.3 18.5,53.2 18.5,50.9 18.6,36.0 18.6,36.3 18.7,51.2 18.7,52.5 18.8,38.2 18.8,35.0 18.9,48.8 18.9,55.2 19.0,42.6 19.0,34.3 19.1,42.7 19.1,55.6 19.2,50.4 19.2,37.1 19.3,35.2 19.4,46.9 19.4,54.8 19.5,48.4 19.5,35.4 19.6,35.3 19.6,47.3 19.7,54.5 19.7,47.9 19.8,36.0 19.8,36.2 19.9,48.7 19.9,53.9 20.0,43.8 20.0,34.1 20.1,39.9 20.1,52.0 20.2,49.0 20.3,34.9 20.3,35.4 20.4,49.6 20.4,51.1 20.5,37.1 20.5,33.3 20.6,47.3 20.6,52.5 20.7,39.6 20.7,31.4 20.8,43.3 20.8,52.2 20.9,44.3 20.9,32.1 21.0,36.2 21.0,50.0 21.1,51.8 21.2,39.1 21.2,31.3 21.3,39.2 21.3,51.2 21.4,50.3 21.4,37.7 21.5,31.4 21.5,39.5 21.6,52.2 21.6,50.2 21.7,36.9 21.7,30.1 21.8,42.1 21.8,52.8 21.9,46.4 22.0,32.6 22.0,34.7 22.1,49.6 22.1,51.5 22.2,36.3 22.2,31.7 22.3,46.4 22.3,53.1 22.4,39.6 22.4,32.4 22.5,43.8 22.5,52.6 22.6,42.9 22.6,32.2 22.7,39.7 22.7,52.1 22.8,48.2 22.9,35.8 22.9,34.4 23.0,46.4 23.0,52.8 23.1,44.8 23.1,34.1 23.2,35.5 23.2,48.1 23.3,53.1 23.3,44.6 23.4,34.2 23.4,36.4 23.5,49.1 23.5,53.9 23.6,43.5 23.6,32.9 23.7,40.0 23.8,52.7 23.8,51.3 23.9,38.1 23.9,34.6 24.0,49.0 24.0,55.3 24.1,42.5 24.1,33.5 24.2,46.2 24.2,55.9 24.3,45.6 24.3,35.1 24.4,43.8 24.4,57.0 24.5,49.5 24.5,36.6 24.6,39.3 24.7,54.0 24.7,55.6 24.8,42.6 24.8,35.8 24.9,45.0 24.9,56.3 25.0,53.0 25.0,41.1 25.1,36.9 25.1,46.6 25.2,56.1 25.2,53.2 25.3,40.4 25.3,37.0 25.4,47.9 25.4,57.5 25.5,51.2 25.6,39.3 25.6,40.3 25.7,53.2 25.7,57.3 25.8,44.7 25.8,38.1 25.9,48.7 25.9,58.6 26.0,48.5 26.0,38.0 26.1,46.2 26.1,57.2 26.2,51.4 26.2,39.4 26.3,43.3 26.4,56.1 26.4,55.1 26.5,41.1 26.5,38.7 26.6,51.8 26.6,58.3 26.7,48.9 26.7,37.6 26.8,41.7 26.8,54.3 26.9,57.5 26.9,46.9 27.0,37.5 27.0,41.8 27.1,55.3 27.1,58.1 27.2,45.8 27.3,36.4 27.3,42.5 27.4,55.7 27.4,54.7 27.5,40.8 27.5,35.5 27.6,48.3 27.6,57.0 27.7,46.5 27.7,35.7 27.8,43.3 27.8,55.5 27.9,49.4 27.9,35.8 28.0,40.6 28.0,54.4 28.1,50.9 28.2,37.5 28.2,36.6 28.3,50.7 28.3,53.3 28.4,41.1 28.4,35.0 28.5,43.8 28.5,53.8 28.6,49.3 28.6,36.4 28.7,34.9 28.7,46.4 28.8,55.3 28.8,48.6 28.9,36.8 28.9,34.6 29.0,46.2 29.1,53.7 29.1,47.6 29.2,35.2 29.2,35.3 29.3,49.0 29.3,54.4 29.4,42.0 29.4,31.7 29.5,41.6 29.5,54.4 29.6,47.3 29.6,33.0 29.7,37.4 29.7,52.0 29.8,49.6 29.9,34.7 29.9,34.9 30.0,49.9 30.0,51.0 30.1,36.9 30.1,32.7 30.2,45.3 30.2,53.6 30.3,42.7 30.3,30.9 30.4,36.5 30.4,49.3 30.5,51.6 30.5,38.7 30.6,30.5 30.6,38.6 30.7,51.0 30.8,50.0 30.8,38.0 30.9,30.7 30.9,39.1 31.0,51.6 31.0,49.6 31.1,36.9 31.1,32.7 31.2,43.5 31.2,53.1 31.3,45.2 31.3,33.0 31.4,38.3 31.4,51.5 31.5,50.0 31.5,35.0 31.6,35.5 31.7,50.7 31.7,52.3 31.8,38.7 31.8,35.0 31.9,48.9 31.9,55.4 32.0,42.7 32.0,33.6 32.1,43.9 32.1,56.0 32.2,50.0 32.2,37.3 32.3,37.3 32.3,49.3 32.4,55.3 32.4,47.8 32.5,37.1 32.6,38.1 32.6,50.0 32.7,55.3 32.7,47.6 32.8,36.8 32.8,38.9 32.9,51.2 32.9,55.9 33.0,45.2 33.0,36.6 33.1,43.2 33.1,55.8 33.2,52.0 33.2,38.3 33.3,38.5 33.3,52.4 33.4,54.8 33.5,41.6 33.5,37.2 33.6,50.9 33.6,57.0 33.7,44.4 33.7,37.0 33.8,48.1 33.8,58.4 33.9,49.2 33.9,37.7 34.0,42.3 34.0,55.5 34.1,55.6 34.1,43.6 34.2,37.1 34.3,46.7 34.3,58.0 34.4,54.8 34.4,42.6 34.5,38.8 34.5,47.6 34.6,58.1 34.6,54.6 34.7,42.7 34.7,38.1 34.8,49.7 34.8,58.3 34.9,52.1 34.9,38.9 35.0,42.1 35.0,54.8 35.1,56.1 35.2,43.2 35.2,39.4 35.3,51.5 35.3,57.3 35.4,45.5 35.4,38.7 35.5,48.9 35.5,57.6 35.6,48.0 35.6,37.5 35.7,44.7 35.7,56.2 35.8,52.1 35.8,39.3 35.9,38.9 35.9,51.2 36.0,56.6 36.1,47.2 36.1,36.7 36.2,40.2 36.2,53.4 36.3,56.3 36.3,45.9 36.4,35.1 36.4,40.5 36.5,52.8 36.5,56.7 36.6,44.3 36.6,34.7 36.7,42.0 36.7,55.4 36.8,53.4 36.8,39.3 36.9,36.3 37.0,50.5 37.0,55.7 37.1,43.5 37.1,35.4 37.2,46.3 37.2,56.8 37.3,46.1 37.3,33.9 37.4,43.3 37.4,56.1 37.5,49.2 37.5,35.7 37.6,39.6 37.6,52.5 37.7,53.8 37.8,40.7 37.8,35.1 37.9,45.1 37.9,55.2 38.0,49.9 38.0,38.2 38.1,36.4 38.1,46.5 38.2,55.3 38.2,49.2 38.3,38.0 38.3,36.5 38.4,47.1 38.4,54.7 38.5,48.2 38.5,36.6 38.6,37.8 38.7,51.1 38.7,55.0 38.8,41.8 38.8,34.1 38.9,45.9 38.9,54.9 39.0,46.1 39.0,34.3 39.1,42.9 39.1,55.9 39.2,48.8 39.2,35.1 39.3,40.3 39.3,55.2 39.4,52.0 39.4,38.1 39.5,36.0 39.6,50.1 39.6,56.2 39.7,45.3 39.7,35.6 39.8,41.0 39.8,54.4 39.9,55.4 39.9,43.1 40.0,34.7 40.0,41.9 40.1,54.6 40.1,54.1 40.2,43.0 40.2,34.7 40.3,43.4 40.3,55.5 40.4,53.3 40.5,40.1 40.5,37.6 40.6,48.8 40.6,57.0 40.7,46.8 40.7,36.4 40.8,44.4 40.8,56.6 40.9,50.5 40.9,37.7 41.0,41.9 41.0,54.6 41.1,53.4 41.1,40.3 41.2,40.6 41.2,53.3 41.3,55.6 41.4,43.7 41.4,38.4 41.5,48.0 41.5,58.0 41.6,52.1 41.6,40.0 41.7,40.0 41.7,51.5 41.8,58.4 41.8,50.6 41.9,39.0 41.9,40.1 42.0,51.8 42.0,58.7 42.1,50.0 42.2,39.1 42.2,41.0 42.3,53.4 42.3,57.5 42.4,45.7 42.4,37.6 42.5,46.1 42.5,57.9 42.6,51.1 42.6,37.4 42.7,42.1 42.7,55.0 42.8,53.9 42.8,39.3 42.9,39.2 42.9,54.0 43.0,55.2 43.1,41.3 43.1,37.2 43.2,49.8 43.2,56.7 43.3,46.5 43.3,36.9 43.4,42.8 43.4,54.7 43.5,54.4 43.5,42.5 43.6,36.3 43.6,45.1 43.7,55.4 43.7,53.3 43.8,41.5 43.8,36.4 43.9,45.3 44.0,55.0 44.0,52.5 44.1,40.0 44.1,37.0 44.2,48.2 44.2,56.6 44.3,48.2 44.3,36.1 44.4,40.8 44.4,53.9 44.5,52.1 44.5,38.8 44.6,38.2 44.6,51.5 44.7,54.9 44.7,40.3 44.8,35.9 44.9,49.4 44.9,55.0 45.0,42.7 45.0,34.5 45.1,44.0 45.1,54.4 45.2,48.3 45.2,35.5 45.3,36.7 45.3,49.2 45.4,54.8 45.4,44.2 45.5,34.2 45.5,36.6 45.6,49.3 45.7,53.1 45.7,43.2 45.8,32.3 45.8,36.8 45.9,49.5 45.9,52.4 46.0,41.0 46.0,32.5 46.1,40.3 46.1,53.4 46.2,48.2 46.2,34.3 46.3,34.7 46.3,49.2 46.4,52.8 46.4,37.7 46.5,33.0 46.6,46.8 46.6,53.4 46.7,40.6 46.7,32.7 46.8,44.3 46.8,54.7 46.9,44.9 46.9,33.7 47.0,39.3 47.0,51.9 47.1,51.2 47.1,38.7 47.2,32.8 47.2,44.0 47.3,53.7 47.3,49.1 47.4,36.9 47.5,34.5 47.5,44.9 47.6,53.5 47.6,49.3 47.7,36.7 47.7,34.0 47.8,46.0 47.8,53.4 47.9,46.4 47.9,35.1 48.0,37.5 48.0,51.4 48.1,51.6 48.1,38.8 48.2,34.4 48.2,47.5 48.3,54.4 48.4,41.9 48.4,33.7 48.5,45.0 48.5,54.0 48.6,44.9 48.6,33.4 48.7,42.1 48.7,54.6 48.8,49.8 48.8,36.1 48.9,37.7 48.9,50.1 49.0,54.7 49.0,44.4 49.1,34.9 49.1,40.6 49.2,53.6 49.3,55.6 49.3,43.6 49.4,35.5 49.4,42.2 49.5,54.9 49.5,55.6 49.6,43.3 49.6,35.4 49.7,44.5 49.7,56.3 49.8,53.3 49.8,39.9 49.9,39.1 49.9,51.4 50.0,57.0 50.1,45.3 50.1,38.0 50.2,47.7 50.2,56.5 50.3,48.3 50.3,38.5 50.4,45.5 50.4,56.4 50.5,51.0 50.5,38.7 50.6,42.1 50.6,54.7 50.7,55.1 50.7,42.6 50.8,38.5 50.8,48.7 50.9,57.8 51.0,51.2 51.0,39.4 51.1,39.5 51.1,50.6 51.2,57.4 51.2,50.6 51.3,39.7 51.3,39.2 51.4,51.2 51.4,58.0 51.5,49.7 51.5,37.9 51.6,41.1 51.6,54.6 51.7,57.2 51.7,44.1 51.8,37.5 51.9,48.6 51.9,57.6 52.0,48.8 52.0,37.6 52.1,45.0 52.1,58.4 52.2,51.5 52.2,37.4 52.3,42.3 52.3,55.7 52.4,54.4 52.4,39.6 52.5,39.5 52.5,52.2 52.6,56.9 52.6,45.8 52.7,37.2 52.8,43.5 52.8,54.7 52.9,54.4 52.9,42.6 53.0,36.8 53.0,44.8 53.1,55.4 53.1,53.4 53.2,41.9 53.2,36.5 53.3,45.0 53.3,55.3 53.4,51.7 53.4,39.3 53.5,37.3 53.6,48.4 53.6,55.3 53.7,45.8 53.7,35.1 53.8,43.1 53.8,55.4 53.9,49.1 53.9,36.9 54.0,40.1 54.0,53.9 54.1,51.6 54.1,37.4 54.2,37.4 54.2,51.6 54.3,53.4 54.3,40.1 54.4,34.5 54.5,45.7 54.5,55.7 54.6,47.5 54.6,35.4 54.7,36.7 54.7,49.1 54.8,53.9 54.8,44.7 54.9,33.5 54.9,36.9 55.0,49.9 55.0,54.8 55.1,43.9 55.1,32.7 55.2,37.5 55.2,50.6 55.3,51.9 55.4,40.6 55.4,33.4 55.5,42.2 55.5,53.5 55.6,46.5 55.6,34.1 55.7,37.4 55.7,51.6 55.8,49.8 55.8,36.1 55.9,36.1 55.9,49.4 56.0,51.9 56.0,37.9 56.1,34.0 56.1,46.4 56.2,52.5 56.3,42.9 56.3,33.8 56.4,40.6 56.4,52.0 56.5,50.7 56.5,38.4 56.6,33.6 56.6,44.1 56.7,54.3 56.7,49.5 56.8,37.5 56.8,33.7 56.9,44.7 56.9,55.1 57.0,49.6 57.0,36.3 57.1,35.4 57.2,47.2 57.2,55.3 57.3,45.9 57.3,34.0 57.4,39.4 57.4,52.8 57.5,51.5 57.5,37.1 57.6,35.8 57.6,51.2 57.7,53.3 57.7,39.6 57.8,34.4 57.8,48.7 57.9,55.0 58.0,42.4 58.0,33.7 58.1,44.6 58.1,54.8 58.2,48.0 58.2,36.2 58.3,38.7 58.3,51.3 58.4,54.9 58.4,44.3 58.5,35.3 58.5,41.2 58.6,52.7 58.6,54.8 58.7,44.4 58.7,35.6 58.8,41.9 58.9,53.7 58.9,54.7 59.0,43.7 59.0,37.6 59.1,45.5 59.1,57.1 59.2,52.6 59.2,39.5 59.3,40.2 59.3,53.5 59.4,56.3 59.4,43.3 59.5,38.4 59.5,51.4 59.6,58.0 59.6,46.0 59.7,38.6 59.8,48.8 59.8,58.8 59.9,49.3 59.9,37.8 60.0,44.5 60.0,56.2 60.1,55.1 60.1,41.6 60.2,38.8 60.2,49.5 60.3,57.9 60.3,51.7 60.4,39.9 60.4,39.1 60.5,50.5 60.5,57.3 60.6,50.9 60.7,38.9 60.7,40.0 60.8,50.7 60.8,57.0 60.9,48.7 60.9,38.0 61.0,41.5 61.0,54.2 61.1,54.8 61.1,42.4 61.2,38.5 61.2,50.5 61.3,56.3 61.3,45.4 61.4,36.7 61.5,47.7 61.5,57.9 61.6,48.0 61.6,37.1 61.7,44.9 61.7,56.4 61.8,51.9 61.8,38.3 61.9,40.7 61.9,53.0 62.0,56.5 62.0,45.0 62.1,37.2 62.1,43.8 62.2,55.6 62.2,54.8 62.3,42.9 62.4,37.2 62.4,44.4 62.5,54.6 62.5,54.1 62.6,41.9 62.6,37.1 62.7,45.1 62.7,55.5 62.8,51.7 62.8,38.7 62.9,36.9 62.9,49.7 63.0,55.5 63.0,43.4 63.1,34.8 63.1,45.1 63.2,55.3 63.3,45.8 63.3,35.0 63.4,41.9 63.4,54.4 63.5,48.0 63.5,35.3 63.6,38.2 63.6,51.6 63.7,51.1 63.7,38.4 63.8,34.0 63.8,46.2 63.9,53.7 63.9,46.4 64.0,34.0 64.0,36.4 64.1,48.7 64.2,54.3 64.2,44.8 64.3,33.0 64.3,36.7 64.4,48.7 64.4,54.5 64.5,44.1 64.5,32.7 64.6,37.6 64.6,50.7 64.7,52.6 64.7,39.1 64.8,33.4 64.8,44.5 64.9,54.9 64.9,44.8 65.0,33.4 65.1,40.3 65.1,53.9 65.2,47.4 65.2,34.9 65.3,38.2 65.3,52.1 65.4,50.3 65.4,36.7 65.5,35.7 65.5,48.5 65.6,52.4 65.6,41.4 65.7,33.5 65.7,41.4 65.8,52.8 65.9,49.8 65.9,38.0 66.0,33.6 66.0,43.4 66.1,52.4 66.1,49.1 66.2,37.5 66.2,33.6 66.3,44.1 66.3,53.0 66.4,48.9 66.4,36.0 66.5,35.2 66.5,47.8 66.6,55.4 66.6,44.2 66.7,34.3 66.8,41.8 66.8,55.2 66.9,49.5 66.9,34.7 67.0,38.6 67.0,53.0 67.1,51.8 67.1,37.7 67.2,36.9 67.2,51.8 67.3,55.2 67.3,41.0 67.4,35.9 67.4,47.2 67.5,55.7 67.5,48.0 67.6,36.1 67.7,39.7 67.7,52.2 67.8,55.8 67.8,45.3 67.9,37.1 67.9,41.1 68.0,53.1 68.0,54.8 68.1,45.3 68.1,37.5 68.2,42.4 68.2,54.2 68.3,54.9 68.3,43.6 68.4,37.1 68.4,46.7 68.5,56.6 68.6,50.3 68.6,38.6 68.7,42.1 68.7,55.1 68.8,54.3 68.8,40.6 68.9,39.7 68.9,53.2 69.0,56.6 69.0,42.9 69.1,39.4 69.1,50.9 69.2,57.3 69.2,47.0 69.3,37.7 69.4,45.6 69.4,57.9 69.5,54.5 69.5,41.0 69.6,38.1 69.6,49.9 69.7,58.7 69.7,51.9 69.8,40.0 69.8,39.0 69.9,50.3 69.9,57.8 70.0,51.8 70.0,39.8 70.1,39.4 70.1,51.2 70.2,58.4 70.3,48.2 70.3,36.8 70.4,43.4 70.4,55.6 70.5,54.1 70.5,39.8 70.6,39.8 70.6,52.7 70.7,55.0 70.7,42.3 70.8,37.4 70.8,50.5 70.9,56.8 70.9,45.0 71.0,37.4 71.0,46.8 71.1,56.3 71.2,49.6 71.2,38.0 71.3,41.0 71.3,53.7 71.4,55.0 71.4,44.4 71.5,37.5 71.5,43.3 71.6,54.7 71.6,54.4 71.7,43.0 71.7,35.7 71.8,43.7 71.8,54.3 71.9,54.5 71.9,41.6 72.0,35.9 72.1,45.4 72.1,55.1 72.2,50.5 72.2,37.9 72.3,38.6 72.3,51.3 72.4,54.3 72.4,40.5 72.5,35.4 72.5,48.2 72.6,54.3 72.6,42.8 72.7,34.6 72.7,44.9 72.8,55.2 72.9,45.2 72.9,33.0 73.0,40.4 73.0,52.5 73.1,49.8 73.1,36.3 73.2,35.1 73.2,46.3 73.3,53.4 73.3,45.7 73.4,34.3 73.4,36.1 73.5,47.4 73.5,54.2 73.6,44.9 73.6,33.3 73.7,35.3 73.8,48.2 73.8,54.0 73.9,43.5 73.9,33.6 74.0,38.2 74.0,51.2 74.1,51.0 74.1,37.9 74.2,34.2 74.2,47.1 74.3,54.5 74.3,42.1 74.4,32.6 74.4,43.9 74.5,53.9 74.5,45.0 74.6,33.4 74.7,41.5 74.7,53.1 74.8,48.2 74.8,35.7 74.9,37.4 74.9,50.2 75.0,52.7 75.0,40.8 75.1,33.5 75.1,42.0 75.2,52.9 75.2,50.6 75.3,38.1 75.3,34.6 75.4,43.2 75.4,52.8 75.5,49.8 75.6,37.7 75.6,33.7 75.7,44.1 75.7,54.3 75.8,49.0 75.8,35.9 75.9,36.0 75.9,48.5 76.0,54.5 76.0,41.9 76.1,34.6 76.1,44.3 76.2,54.3 76.2,46.2 76.3,34.8 76.3,42.0 76.4,55.3 76.5,49.0 76.5,36.4 76.6,40.0 76.6,53.2 76.7,52.9 76.7,39.7 76.8,36.3 76.8,49.3 76.9,55.9 76.9,47.5 77.0,36.3 77.0,40.1 77.1,53.2 77.1,55.8 77.2,46.3 77.3,37.4 77.3,41.8 77.4,53.5 77.4,57.1 77.5,46.2 77.5,36.9 77.6,43.3 77.6,55.0 77.7,54.8 77.7,43.3 77.8,37.6 77.8,48.6 77.9,57.9 77.9,48.9 78.0,38.2 78.0,44.6 78.1,57.1 78.2,51.8 78.2,38.8 78.3,42.1 78.3,54.7 78.4,54.1 78.4,40.5 78.5,40.2 78.5,52.3 78.6,56.2 78.6,44.9 78.7,37.9 78.7,46.4 78.8,56.8 78.8,53.2 78.9,40.4 78.9,39.2 79.0,49.1 79.1,58.2 79.1,51.8 79.2,40.3 79.2,38.1 79.3,49.7 79.3,57.8 79.4,51.5 79.4,40.0 79.5,39.5 79.5,52.5 79.6,58.4 79.6,47.0 79.7,37.3 79.7,45.3 79.8,57.0 79.8,51.9 79.9,38.9 80.0,42.1 80.0,55.4 80.1,54.6 80.1,40.5 80.2,39.2 80.2,53.2 80.3,56.0 80.3,42.3 80.4,38.3 80.4,48.8 80.5,56.0 80.5,47.9 80.6,37.1 80.6,41.9 80.7,53.3 80.8,55.2 80.8,44.0 80.9,36.2 80.9,42.9 81.0,53.9 81.0,54.2 81.1,43.0 81.1,35.3 81.2,42.6 81.2,53.8 81.3,52.3 81.3,40.6 81.4,35.8 81.4,45.5 81.5,55.2 81.5,48.0 81.6,35.7 81.7,38.8 81.7,53.2 81.8,51.6 81.8,37.5 81.9,35.6 81.9,50.2 82.0,53.0 82.0,39.1 82.1,34.2 82.1,47.9 82.2,54.5 82.2,42.8 82.3,33.7 82.3,42.3 82.4,54.3 82.4,49.7 82.5,35.8 82.6,35.3 82.6,46.7 82.7,54.7 82.7,46.1 82.8,34.8 82.8,35.7 82.9,47.7 82.9,53.7 83.0,45.4 83.0,34.7 83.1,36.4 83.1,48.5 83.2,52.9 83.2,42.9 83.3,34.0 83.3,39.7 83.4,52.2 83.5,49.8 83.5,36.3 83.6,35.7 83.6,49.1 83.7,51.8 83.7,39.3 83.8,34.6 83.8,46.5 83.9,53.8 83.9,41.7 84.0,33.0 84.0,43.7 84.1,54.2 84.1,46.0 84.2,34.3 84.2,38.5 84.3,51.3 84.4,52.9 84.4,40.4 84.5,33.5 84.5,42.4 84.6,54.3 84.6,51.1 84.7,39.1 84.7,33.3 84.8,43.1 84.8,54.5 84.9,51.9 84.9,38.6 85.0,34.0 85.0,44.9 85.1,55.5 85.2,48.5 85.2,35.4 85.3,37.6 85.3,51.3 85.4,53.6 85.4,39.8 85.5,34.1 85.5,47.6 85.6,54.4 85.6,43.4 85.7,34.7 85.7,45.3 85.8,55.9 85.8,46.6 85.9,35.1 85.9,42.2 86.0,54.6 86.1,51.0 86.1,38.6 86.2,38.0 86.2,49.8 86.3,55.2 86.3,47.2 86.4,37.0 86.4,40.6 86.5,52.1 86.5,56.9 86.6,47.0 86.6,37.0 86.7,41.2 86.7,52.9 86.8,57.2 86.8,46.5 86.9,38.2 87.0,43.7 87.0,56.6 87.1,54.5 87.1,42.4 87.2,39.4 87.2,51.4 87.3,57.2 87.3,46.8 87.4,38.5 87.4,47.7 87.5,57.6 87.5,49.5 87.6,38.7 87.6,45.1 87.7,56.8 87.7,51.9 87.8,39.6 87.9,41.3 87.9,54.2 88.0,55.8 88.0,43.4 88.1,37.5 88.1,47.0 88.2,56.6 88.2,52.9 88.3,41.0 88.3,38.8 88.4,48.3 88.4,56.8 88.5,52.2 88.5,40.4 88.6,38.7 88.7,48.8 88.7,56.8 88.8,51.0 88.8,39.6 88.9,40.5 88.9,52.2 89.0,56.7 89.0,45.2 89.1,37.7 89.1,47.3 89.2,57.3 89.2,49.2 89.3,37.1 89.3,44.4 89.4,56.3 89.4,51.8 89.5,38.9 89.6,42.1 89.6,54.6 89.7,54.8 89.7,40.7 89.8,38.2 89.8,50.4 89.9,57.4 89.9,47.1 90.0,36.7 90.0,41.5 90.1,53.7 90.1,54.7 90.2,43.9 90.2,36.8 90.3,42.2 90.3,53.6 90.4,54.4 90.5,43.1 90.5,35.7 90.6,42.2 90.6,54.2 90.7,52.9 90.7,40.0 90.8,34.6 90.8,46.2 90.9,54.2 90.9,45.5 91.0,35.0 91.0,40.7 91.1,53.8 91.1,48.5 91.2,35.7 91.2,37.7 91.3,52.6 91.4,50.3 91.4,35.8 91.5,35.4 91.5,49.2 91.6,53.6 91.6,40.2 91.7,33.3 91.7,43.3 91.8,53.6 91.8,48.5 91.9,35.9 91.9,34.9 92.0,47.1 92.0,55.0 92.1,46.8 92.1,34.2 92.2,34.9 92.3,47.5 92.3,54.6 92.4,46.1 92.4,35.2 92.5,36.6 92.5,49.4 92.6,54.3 92.6,42.4 92.7,32.5 92.7,41.4 92.8,52.7 92.8,48.1 92.9,35.2 92.9,37.3 93.0,51.0 93.1,50.4 93.1,36.6 93.2,35.9 93.2,49.4 93.3,52.2 93.3,39.4 93.4,33.9 93.4,45.7 93.5,54.1 93.5,44.1 93.6,34.4 93.6,38.9 93.7,51.6 93.7,51.7 93.8,40.0 93.8,32.8 93.9,41.8 94.0,53.2 94.0,51.9 94.1,39.6 94.1,33.8 94.2,42.7 94.2,53.5 94.3,52.0 94.3,38.6 94.4,33.8 94.4,45.9 94.5,55.6 94.5,47.8 94.6,35.5 94.6,39.7 94.7,53.1 94.7,52.3 94.8,38.8 94.9,37.4 94.9,50.9 95.0,54.3 95.0,41.1 95.1,36.4 95.1,49.3 95.2,56.2 95.2,44.6 95.3,35.5 95.3,44.9 95.4,56.6 95.4,50.7 95.5,38.9 95.5,39.4 95.6,51.1 95.6,55.7 95.7,47.7 95.8,37.5 95.8,40.4 95.9,51.6 95.9,56.7 96.0,47.4 96.0,37.7 96.1,41.8 96.1,53.3 96.2,55.5 96.2,46.1 96.3,37.9 96.3,44.7 96.4,55.5 96.4,53.2 96.5,41.1 96.6,39.8 96.6,53.2 96.7,56.6 96.7,43.8 96.8,38.7 96.8,50.6 96.9,58.0 96.9,46.2 97.0,37.6 97.0,47.9 97.1,58.1 97.1,50.2 97.2,37.7 97.2,43.3 97.3,56.6 97.3,56.4 97.4,43.4 97.5,37.4 97.5,47.6 97.6,57.3 97.6,53.3 97.7,41.6 97.7,37.4 97.8,48.4 97.8,57.9 97.9,52.7 97.9,40.6 98.0,38.8 98.0,49.2 98.1,56.6 98.1,50.6 98.2,39.0 98.2,40.8 98.3,53.3 98.4,55.1 98.4,42.9 98.5,37.8 98.5,49.6 98.6,56.4 98.6,46.0 98.7,36.9 98.7,47.0 98.8,57.1 98.8,48.4 98.9,37.7 98.9,43.7 99.0,55.5 99.0,52.2 99.1,39.8 99.1,39.2 99.2,51.2 99.3,57.0 99.3,46.3 99.4,37.0 99.4,41.4 99.5,54.0 99.5,56.1 99.6,44.5 99.6,36.4 99.7,41.5 99.7,53.4 99.8,55.0 99.8,43.5 99.9,35.9 99.9,42.4 100.0,54.6 100.0,52.4 100.1,38.6 100.2,36.4 100.2,48.7 100.3,55.6 100.3,43.6 100.4,33.4 100.4,44.0 100.5,54.9 100.5,46.1 100.6,34.7 100.6,41.1 100.7,53.3 100.7,48.7 100.8,34.8 100.8,37.0 100.9,50.7 101.0,52.4 101.0,38.9 101.1,33.9 101.1,44.3 101.2,53.2 101.2,48.1 101.3,36.2 101.3,35.0 101.4,46.6 101.4,53.5 101.5,47.4 101.5,36.0 101.6,34.8 101.6,47.3 101.7,54.7 101.7,46.2 101.8,34.2 101.9,36.7 101.9,50.5 102.0,53.6 102.0,41.1 102.1,33.2 102.1,43.7 102.2,54.3 102.2,45.6 102.3,33.3 102.3,39.7 102.4,52.6 102.4,48.2 102.5,34.7 102.5,37.4 102.6,51.5 102.6,50.1 102.7,36.3 102.8,33.5 102.8,47.3 102.9,52.7 102.9,42.0 103.0,32.7 103.0,38.7 103.1,51.2 103.1,50.6 103.2,38.3 103.2,32.1 103.3,39.7 103.3,52.2 103.4,50.9 103.4,37.6 103.5,31.2 103.5,40.3 103.6,51.6 103.7,48.9 103.7,36.0 103.8,31.6 103.8,44.9 103.9,53.7 103.9,43.6 104.0,31.8 104.0,39.0 104.1,53.1 104.1,48.0 104.2,33.9 104.2,36.7 104.3,51.3 104.3,50.5 104.4,35.7 104.5,35.5 104.5,49.6 104.6,54.0 104.6,40.0 104.7,33.5 104.7,44.5 104.8,55.9 104.8,48.3 104.9,34.8 104.9,36.0 105.0,49.5 105.0,54.6 105.1,45.8 105.1,34.1 105.2,37.6 105.2,50.2 105.3,55.7 105.4,45.7 105.4,35.6 105.5,38.3 105.5,51.4 105.6,54.3 105.6,42.8 105.7,34.2 105.7,43.4 105.8,54.9 105.8,49.4 105.9,36.1 105.9,39.1 106.0,53.0 106.0,52.9 106.1,38.9 106.1,37.3 106.2,51.4 106.3,55.1 106.3,40.8 106.4,35.5 106.4,48.5 106.5,57.5 106.5,46.2 106.6,35.4 106.6,42.4 106.7,56.2 106.7,54.1 106.8,40.9 106.8,36.7 106.9,46.5 106.9,57.0 107.0,53.5 107.0,40.8 107.1,37.4 107.2,47.5 107.2,57.1 107.3,53.7 107.3,40.1 107.4,37.5 107.4,50.0 107.5,58.4 107.5,49.8 107.6,37.6 107.6,42.5 107.7,56.4 107.7,54.7 107.8,41.2 107.8,38.9 107.9,53.0 107.9,57.0 108.0,43.4 108.1,38.3 108.1,50.3 108.2,56.5 108.2,46.2 108.3,36.7 108.3,46.4 108.4,57.5 108.4,51.1 108.5,38.3 108.5,40.3 108.6,52.5 108.6,57.0 108.7,46.2 108.7,37.3 108.8,41.7 108.9,53.1 108.9,55.3 109.0,45.1 109.0,36.4 109.1,41.2 109.1,53.8 109.2,55.9 109.2,43.3 109.3,34.1 109.3,43.0 109.4,56.3 109.4,51.5 109.5,37.2 109.5,36.8 109.6,50.7 109.6,54.5 109.7,40.6 109.8,33.8 109.8,46.9 109.9,54.7 109.9,42.7 110.0,33.4 110.0,43.6 110.1,55.3 110.1,45.6 110.2,32.0 110.2,37.8 110.3,52.6 110.3,50.5 110.4,36.4 110.4,31.6 110.5,43.6 110.5,52.9 110.6,46.4 110.7,33.7 110.7,32.9 110.8,44.2 110.8,52.6 110.9,45.4 110.9,32.5 111.0,31.1 111.0,43.9 111.1,52.5 111.1,42.7 111.2,30.3 111.2,33.8 111.3,47.7 111.3,49.3 111.4,35.0 111.4,29.5 111.5,42.5 111.6,50.3 111.6,38.8 111.7,27.9 111.7,39.1 111.8,50.5 111.8,41.6 111.9,28.6 111.9,35.7 112.0,50.2 112.0,45.7 112.1,29.2 112.1,29.9 112.2,45.8 112.2,50.6 112.3,37.3 112.4,26.0 112.4,34.3 112.5,50.0 112.5,48.7 112.6,34.7 112.6,26.8 112.7,35.4 112.7,49.8 112.8,48.2 112.8,34.5 112.9,25.8 112.9,37.0 113.0,49.8 113.0,46.3 113.1,31.3 113.1,28.7 113.2,44.2 113.3,51.8 113.3,38.5 113.4,29.1 113.4,39.4 113.5,52.2 113.5,42.9 113.6,30.1 113.6,37.4 113.7,52.0 113.7,47.0 113.8,32.8 113.8,36.0 113.9,50.5 113.9,51.4 114.0,38.4 114.0,33.7 114.1,45.6 114.2,55.2 114.2,47.6 114.3,36.4 114.3,37.7 114.4,50.1 114.4,55.8 114.5,48.1 114.5,39.1 114.6,40.7 114.6,52.0 114.7,56.6 114.7,48.9 114.8,40.5 114.8,43.7 114.9,54.1 114.9,56.7 115.0,47.0 115.1,41.3 115.1,50.0 115.2,57.5 115.2,51.9 115.3,43.8 115.3,48.3 115.4,58.1 115.4,54.9 115.5,45.3 115.5,47.4 115.6,56.6 115.6,56.2 115.7,48.1 115.7,47.0 115.8,55.3 115.8,58.3 115.9,51.9 116.0,47.4 116.0,51.5 116.1,58.0 116.1,57.0 116.2,50.6 116.2,48.1 116.3,53.3 116.3,59.0 116.4,57.1 116.4,50.7 116.5,48.9 116.5,53.8 116.6,59.3 116.6,56.7 116.7,50.2 116.8,49.1 116.8,55.4 116.9,59.0 116.9,54.1 117.0,48.8 117.0,51.9 117.1,58.2 117.1,56.2 117.2,48.4 117.2,50.0 117.3,57.0 117.3,56.7 117.4,49.0 117.4,47.6 117.5,54.9 117.5,56.3 117.6,49.7 117.7,45.7 117.7,51.5 117.8,56.2 117.8,51.9 117.9,45.3 117.9,46.2 118.0,52.6 118.0,54.1 118.1,48.4 118.1,42.8 118.2,45.0 118.2,51.3 118.3,52.6 118.3,46.4 118.4,40.8 118.4,43.4 118.5,49.8 118.6,50.6 118.6,43.7 118.7,38.9 118.7,44.1 118.8,49.6 118.8,46.6 118.9,38.7 118.9,39.8 119.0,47.9 119.0,47.4 119.1,39.4 119.1,38.0 119.2,45.2 119.2,47.1 119.3,39.4 119.3,36.5 119.4,43.0 119.5,47.4 119.5,40.9 119.6,34.8 119.6,38.9 119.7,45.8 119.7,43.7 119.8,36.4 119.8,34.7 119.9,40.2 119.9,45.5 120.0,41.9 120.0,34.4 120.1,33.9 120.1,39.5 120.2,43.7 120.3,40.3 120.3,33.8 120.4,32.9 120.4,39.3 120.5,43.2 120.5,37.7 120.6,31.6 120.6,34.1 120.7,40.7 120.7,40.2 120.8,32.5 120.8,31.5 120.9,38.6 120.9,40.4 121.0,33.7 121.0,30.0 121.1,36.8 121.2,41.1 121.2,34.6 121.3,29.9 121.3,34.8 121.4,40.9 121.4,37.1 121.5,30.6 121.5,31.6 121.6,38.9 121.6,40.9 121.7,34.6 121.7,29.6 121.8,33.6 121.8,40.5 121.9,41.6 121.9,34.6 122.0,30.4 122.1,34.9 122.1,41.9 122.2,41.8 122.2,35.3 122.3,32.1 122.3,37.5 122.4,43.9 122.4,41.9 122.5,34.5 122.5,34.9 122.6,42.9 122.6,45.0 122.7,38.3 122.7,35.6 122.8,42.2 122.8,47.1 122.9,41.3 123.0,37.0 123.0,42.3 123.1,48.0 123.1,44.3 123.2,38.5 123.2,42.0 123.3,48.6 123.3,48.0 123.4,42.0 123.4,41.0 123.5,46.9 123.5,50.9 123.6,47.9 123.6,42.9 123.7,43.9 123.7,49.7 123.8,52.6 123.9,49.5 123.9,45.1 124.0,46.0 124.0,51.7 124.1,54.6 124.1,50.9 124.2,46.3 124.2,48.4 124.3,55.4 124.3,55.9 124.4,50.0 124.4,47.4 124.5,54.4 124.5,58.6 124.6,53.4 124.7,48.7 124.7,53.9 124.8,59.9 124.8,56.1 124.9,49.6 124.9,53.6 125.0,60.8 125.0,58.8 125.1,51.6 125.1,52.6 125.2,59.7 125.2,61.3 125.3,55.7 125.3,52.2 125.4,56.2 125.4,62.0 125.5,60.7 125.6,55.3 125.6,52.7 125.7,57.2 125.7,62.2 125.8,60.7 125.8,55.6 125.9,53.8 125.9,57.8 126.0,61.9 126.0,59.9 126.1,54.8 126.1,53.8 126.2,59.6 126.2,61.9 126.3,56.8 126.3,52.9 126.4,56.8 126.5,61.4 126.5,57.9 126.6,52.4 126.6,54.8 126.7,60.3 126.7,58.4 126.8,51.3 126.8,52.4 126.9,58.7 126.9,58.7 127.0,51.8 127.0,49.4 127.1,55.3 127.1,58.7 127.2,54.3 127.2,48.1 127.3,49.0 127.4,55.6 127.4,57.5 127.5,51.4 127.5,45.8 127.6,47.1 127.6,53.5 127.7,55.0 127.7,49.0 127.8,43.4 127.8,45.7 127.9,52.4 127.9,52.1 128.0,45.0 128.0,41.0 128.1,46.5 128.2,51.9 128.2,46.4 128.3,40.0 128.3,42.4 128.4,48.7 128.4,46.6 128.5,38.8 128.5,39.5 128.6,46.6 128.6,46.1 128.7,38.3 128.7,37.1 128.8,43.6 128.8,45.4 128.9,39.3 128.9,34.5 129.0,38.7 129.1,44.6 129.1,42.4 129.2,35.1 129.2,33.2 129.3,38.7 129.3,43.3 129.4,40.3 129.4,33.0 129.5,31.4 129.5,37.5 129.6,42.4 129.6,38.4 129.7,31.3 129.7,30.3 129.8,37.6 129.8,41.1 129.9,34.7 130.0,28.6 130.0,32.5 130.1,39.7 130.1,36.8 130.2,28.5 130.2,29.5 130.3,37.3 130.3,37.6 130.4,28.4 130.4,27.8 130.5,35.5 130.5,37.4 130.6,29.7 130.6,26.2 130.7,32.6 130.7,37.6 130.8,32.8 130.9,26.1 130.9,28.1 131.0,35.7 131.0,36.8 131.1,30.6 131.1,26.4 131.2,29.7 131.2,36.7 131.3,37.1 131.3,30.9 131.4,27.2 131.4,30.8 131.5,37.7 131.5,38.0 131.6,31.2 131.6,28.4 131.7,34.0 131.8,39.8 131.8,37.1 131.9,30.2 131.9,31.9 132.0,40.5 132.0,40.9 132.1,33.2 132.1,32.4 132.2,40.5 132.2,43.1 132.3,36.1 132.3,33.5 132.4,40.6 132.4,45.7 132.5,39.9 132.6,34.9 132.6,39.5 132.7,46.2 132.7,44.8 132.8,38.3 132.8,38.1 132.9,44.6 132.9,49.5 133.0,45.5 133.0,39.4 133.1,40.4 133.1,47.2 133.2,51.1 133.2,47.6 133.3,42.0 133.3,42.6 133.4,49.9 133.5,53.2 133.5,48.6 133.6,43.9 133.6,47.2 133.7,54.7 133.7,54.6 133.8,47.2 133.8,46.7 133.9,54.6 133.9,57.5 134.0,51.1 134.0,48.0 134.1,55.7 134.1,60.5 134.2,54.9 134.2,50.4 134.3,56.2 134.4,63.2 134.4,59.6 134.5,53.4 134.5,55.4 134.6,63.7 134.6,65.3 134.7,58.8 134.7,55.7 134.8,60.4 134.8,67.0 134.9,66.7 134.9,60.6 135.0,58.0 135.0,63.3 135.1,69.5 135.1,68.7 135.2,62.5 135.3,60.3 135.3,66.3 135.4,71.9 135.4,69.6 135.5,63.4 135.5,64.0 135.6,71.1 135.6,73.0 135.7,67.1 135.7,63.8 135.8,70.4 135.8,75.0 135.9,69.8 135.9,65.0 136.0,70.2 136.1,76.3 136.1,72.2 136.2,66.1 136.2,69.5 136.3,76.2 136.3,75.4 136.4,68.9 136.4,67.7 136.5,74.7 136.5,78.1 136.6,74.1 136.6,68.3 136.7,70.4 136.7,77.0 136.8,79.6 136.8,74.5 136.9,69.5 137.0,70.9 137.0,77.9 137.1,80.4 137.1,74.8 137.2,70.1 137.2,73.0 137.3,79.9 137.3,80.1 137.4,72.8 137.4,71.0 137.5,77.1 137.5,81.7 137.6,75.8 137.6,70.6 137.7,75.6 137.7,81.5 137.8,77.6" fill="none" stroke="#D95C33" stroke-width="0.8" stroke-linejoin="round" filter="url(#bl)"/>
</g>
<rect x="218.5" y="26.5" width="137.8" height="93.0" fill="none" stroke="#666" stroke-width="0.7"/>
<line x1="264.43" y1="119.5" x2="264.43" y2="118.0" stroke="#555" stroke-width="0.6"/>
<line x1="264.43" y1="26.5" x2="264.43" y2="28.0" stroke="#555" stroke-width="0.6"/>
<line x1="310.37" y1="119.5" x2="310.37" y2="118.0" stroke="#555" stroke-width="0.6"/>
<line x1="310.37" y1="26.5" x2="310.37" y2="28.0" stroke="#555" stroke-width="0.6"/>
<line x1="218.5" y1="49.75" x2="220.0" y2="49.75" stroke="#555" stroke-width="0.6"/>
<line x1="356.3" y1="49.75" x2="354.8" y2="49.75" stroke="#555" stroke-width="0.6"/>
<line x1="218.5" y1="73.00" x2="220.0" y2="73.00" stroke="#555" stroke-width="0.6"/>
<line x1="356.3" y1="73.00" x2="354.8" y2="73.00" stroke="#555" stroke-width="0.6"/>
<line x1="218.5" y1="96.25" x2="220.0" y2="96.25" stroke="#555" stroke-width="0.6"/>
<line x1="356.3" y1="96.25" x2="354.8" y2="96.25" stroke="#555" stroke-width="0.6"/>
<text class="t" x="218.8" y="133.7" text-anchor="middle">0</text>
<text class="t" x="264.7" y="133.7" text-anchor="middle">50</text>
<text class="t" x="310.7" y="133.7" text-anchor="middle">100</text>
<text class="t" x="356.6" y="133.7" text-anchor="middle">150</text>
<text class="t" x="215.5" y="30.2" text-anchor="end">10</text>
<text class="t" x="215.5" y="53.5" text-anchor="end">5</text>
<text class="t" x="215.5" y="76.8" text-anchor="end">0</text>
<text class="t" x="215.5" y="100.0" text-anchor="end">-5</text>
<text class="t" x="215.5" y="123.2" text-anchor="end">-10</text>
<text class="ax" x="287.7" y="147.7" text-anchor="middle">x</text>
<text class="ax" style="font-size:12px" transform="translate(195.8,73.8) rotate(-90)" text-anchor="middle">f<tspan font-style="normal">(</tspan>x<tspan font-style="normal">)</tspan></text>
<text class="c" x="290.9" y="161.9" text-anchor="middle">(b) PhaseDNN <tspan font-style="italic">N</tspan><tspan fill="#777">=</tspan>1000</text>
<line x1="289.3" y1="8.5" x2="310.3" y2="8.5" stroke="#1f6cb8" stroke-width="0.55" stroke-opacity="0.7"/>
<line x1="289.3" y1="19.8" x2="310.3" y2="19.8" stroke="#D95C33" stroke-width="0.6" stroke-opacity="0.7"/>
<text x="312.8" y="11.9" font-size="9.4">Truth</text>
<text x="312.8" y="23.2" font-size="9.4">PhaseDNN</text>
</g>
<g>
<line x1="445.43" y1="26.5" x2="445.43" y2="119.5" stroke="#e6e6e6" stroke-width="0.5"/>
<line x1="491.37" y1="26.5" x2="491.37" y2="119.5" stroke="#e6e6e6" stroke-width="0.5"/>
<line x1="399.5" y1="49.75" x2="537.3" y2="49.75" stroke="#e6e6e6" stroke-width="0.5"/>
<line x1="399.5" y1="73.00" x2="537.3" y2="73.00" stroke="#e6e6e6" stroke-width="0.5"/>
<line x1="399.5" y1="96.25" x2="537.3" y2="96.25" stroke="#e6e6e6" stroke-width="0.5"/>
<g transform="translate(399.5,26.5)">
<g filter="url(#bl)">
<path d="M1.6,10.7 1.9,23.2 2.6,25.7 3.0,34.3 4.7,45.2 5.9,49.6 5.9,49.6 6.8,45.2 8.0,34.2 8.3,24.7 8.4,19.1 10.3,12.8 12.5,9.5 12.8,22.4 13.6,25.1 13.9,34.0 15.7,45.2 16.9,49.6 16.9,49.6 17.8,45.1 19.0,33.9 19.2,24.1 19.3,18.5 21.3,12.1 23.5,8.7 23.8,21.9 24.5,24.6 24.9,33.7 26.6,45.1 27.8,49.7 27.8,49.7 28.7,45.1 29.9,33.6 30.2,23.7 30.3,18.0 32.2,11.5 34.4,8.1 34.7,21.5 35.5,24.3 35.8,33.5 37.6,45.1 38.8,49.7 38.8,49.7 39.7,45.1 40.9,33.4 41.1,23.4 41.2,17.6 43.2,10.9 45.4,7.6 45.7,21.2 46.4,24.0 46.8,33.3 48.5,45.1 49.7,49.8 49.7,49.8 50.6,45.1 51.8,33.3 52.1,23.1 52.2,17.2 54.1,10.5 56.3,7.1 56.6,20.8 57.4,23.7 57.7,33.2 59.5,45.1 60.7,49.8 60.7,49.8 61.6,45.1 62.8,33.1 63.0,22.8 63.1,16.8 65.1,10.0 67.3,6.6 67.6,20.5 68.3,23.4 68.7,33.0 70.4,45.1 71.6,49.9 71.6,49.9 72.5,45.0 73.7,32.9 74.0,22.5 74.1,16.5 76.0,9.6 78.2,6.2 78.5,20.2 79.3,23.1 79.6,32.9 81.4,45.0 82.6,49.9 82.6,49.9 83.5,45.0 84.7,32.8 84.9,22.3 85.0,16.2 87.0,9.3 89.2,5.7 89.5,20.0 90.2,22.9 90.6,32.7 92.3,45.0 93.5,49.9 93.5,49.9 94.4,45.0 95.6,32.7 95.9,22.1 96.0,15.9 97.9,8.9 100.1,5.4 100.4,19.7 101.2,22.7 101.5,32.6 103.3,45.0 104.5,50.0 104.5,50.0 105.4,45.0 106.6,32.5 106.9,21.8 106.9,15.6 108.9,8.5 111.1,5.0 111.4,19.5 112.1,22.5 112.5,32.5 114.2,45.0 115.4,50.0 115.4,50.0 116.3,45.0 117.5,32.4 117.8,21.6 117.9,15.3 119.8,8.2 122.0,4.6 122.3,19.2 123.1,22.3 123.4,32.4 125.2,45.0 126.4,50.0 126.4,50.0 127.3,45.0 128.5,32.3 128.8,21.4 128.8,15.1 130.8,7.9 133.0,4.3 133.3,19.0 134.0,22.1 134.4,32.2 136.1,45.0 137.3,50.1 137.3,50.1 137.8,45.0 L137.3,85.2 137.3,89.2 135.4,83.6 134.8,77.0 134.3,70.4 133.4,48.7 131.9,41.4 129.8,48.7 128.9,70.3 128.8,71.3 128.5,73.3 128.2,80.9 127.9,88.9 127.8,92.5 126.4,84.9 126.4,88.9 124.4,83.3 123.9,76.7 123.3,70.2 122.5,48.7 120.9,41.5 118.8,48.7 118.0,70.1 117.9,71.1 117.6,73.1 117.3,80.6 117.0,88.6 116.8,92.1 115.4,84.5 115.4,88.5 113.5,83.0 112.9,76.5 112.4,70.0 111.5,48.6 110.0,41.5 107.9,48.6 107.0,69.9 106.9,70.8 106.6,72.8 106.3,80.3 106.0,88.2 105.9,91.7 104.5,84.2 104.5,88.2 102.5,82.6 102.0,76.2 101.4,69.7 100.6,48.6 99.0,41.5 96.9,48.6 96.1,69.6 96.0,70.6 95.7,72.6 95.4,80.0 95.1,87.8 94.9,91.3 93.5,83.8 93.5,87.8 91.6,82.3 91.0,75.9 90.5,69.5 89.6,48.6 88.1,41.6 86.0,48.6 85.1,69.4 85.0,70.4 84.7,72.3 84.4,79.6 84.1,87.4 84.0,90.8 82.6,83.5 82.6,87.4 80.6,81.9 80.1,75.6 79.5,69.3 78.7,48.6 77.1,41.6 75.0,48.6 74.2,69.2 74.1,70.1 73.8,72.1 73.5,79.3 73.2,87.0 73.0,90.4 71.6,83.1 71.6,86.9 69.7,81.6 69.1,75.3 68.6,69.1 67.7,48.6 66.2,41.7 64.1,48.6 63.2,68.9 63.1,69.9 62.8,71.8 62.5,78.9 62.2,86.5 62.1,89.9 60.7,82.7 60.7,86.5 58.7,81.2 58.2,75.0 57.6,68.8 56.8,48.5 55.2,41.8 53.1,48.5 52.3,68.7 52.2,69.6 51.9,71.5 51.6,78.5 51.3,86.1 51.1,89.3 49.7,82.2 49.7,86.0 47.8,80.7 47.2,74.6 46.7,68.5 45.8,48.5 44.3,41.8 42.2,48.5 41.3,68.4 41.2,69.3 40.9,71.1 40.6,78.1 40.3,85.5 40.2,88.8 38.8,81.7 38.8,85.5 36.8,80.3 36.3,74.2 35.7,68.2 34.9,48.5 33.3,41.9 31.2,48.5 30.4,68.0 30.3,69.0 30.0,70.8 29.6,77.6 29.4,84.9 29.2,88.1 27.8,81.2 27.8,84.9 25.9,79.7 25.3,73.8 24.8,67.9 23.9,48.5 22.4,42.0 20.3,48.4 19.4,67.7 19.3,68.6 19.0,70.3 18.7,77.1 18.4,84.3 18.3,87.4 16.9,80.6 16.9,84.1 14.9,79.1 14.4,73.3 13.8,67.4 13.0,48.4 11.4,42.1 9.3,48.4 8.5,67.2 8.4,68.1 8.1,69.8 7.7,76.4 7.5,83.4 7.3,86.4 5.9,79.7 5.9,83.2 4.0,78.2 3.4,72.5 2.9,66.8 2.0,48.4 0.5,42.2Z" fill="#1f6cb8" fill-opacity="0.11"/>
<path d="M0.0,45.2 1.6,10.7 1.9,23.2 2.6,25.7 2.9,34.4 2.7,57.3 2.0,48.4 0.5,42.2 0.0,47.3ZM3.1,36.1 4.7,45.2 5.9,49.6 6.8,45.2 7.7,38.6 7.9,59.7 7.7,74.6 7.5,83.4 7.3,86.4 4.5,78.7 3.6,59.5 3.0,48.7ZM10.0,45.2 12.5,9.5 12.8,22.4 13.6,25.1 13.9,34.0 13.6,57.6 13.0,48.4 11.4,42.1 10.1,47.4ZM14.0,35.8 15.7,45.2 16.9,49.6 17.8,45.1 18.7,38.4 18.8,60.0 18.6,75.3 18.4,84.3 18.3,87.4 15.5,79.6 14.6,59.9 13.9,48.7ZM20.9,45.1 23.5,8.7 23.8,21.9 24.5,24.6 24.8,33.7 24.6,57.9 23.9,48.5 22.4,42.0 21.1,47.4ZM25.0,35.6 26.6,45.1 27.8,49.7 28.7,45.1 29.6,38.2 29.8,60.2 29.6,75.8 29.4,84.9 29.2,88.1 26.4,80.2 25.5,60.1 24.9,48.8ZM31.9,45.1 34.4,8.1 34.7,21.5 35.5,24.3 35.8,33.5 35.5,58.0 34.9,48.5 33.3,41.9 32.0,47.4ZM35.9,35.4 37.6,45.1 38.8,49.7 39.7,45.1 40.6,38.1 40.7,60.4 40.5,76.2 40.3,85.5 40.2,88.8 37.4,80.8 36.5,60.4 35.8,48.8ZM42.8,45.1 45.4,7.6 45.7,21.2 46.4,24.0 46.7,33.3 46.5,58.2 45.8,48.5 44.3,41.8 43.0,47.4ZM46.9,35.2 48.5,45.1 49.7,49.8 50.6,45.1 51.6,38.0 51.7,60.6 51.5,76.6 51.3,86.1 51.1,89.3 48.3,81.2 47.4,60.6 46.8,48.8ZM53.8,45.1 56.3,7.1 56.6,20.8 57.4,23.7 57.7,33.2 57.4,58.4 56.8,48.5 55.2,41.8 53.9,47.4ZM57.8,35.1 59.5,45.1 60.7,49.8 61.6,45.1 62.5,37.9 62.6,60.8 62.4,77.0 62.2,86.5 62.1,89.9 59.3,81.7 58.4,60.7 57.7,48.9ZM64.7,45.1 67.3,6.6 67.6,20.5 68.3,23.4 68.6,33.0 68.4,58.5 67.7,48.6 66.2,41.7 64.9,47.5ZM68.8,34.9 70.4,45.1 71.6,49.9 72.5,45.0 73.5,37.8 73.6,61.0 73.4,77.4 73.2,87.0 73.0,90.4 70.2,82.1 69.3,60.9 68.7,48.9ZM75.7,45.0 78.2,6.2 78.5,20.2 79.3,23.1 79.6,32.9 79.3,58.6 78.7,48.6 77.1,41.6 75.8,47.5ZM79.7,34.8 81.4,45.0 82.6,49.9 83.5,45.0 84.4,37.7 84.5,61.1 84.3,77.7 84.1,87.4 84.0,90.8 81.2,82.5 80.3,61.1 79.6,48.9ZM86.6,45.0 89.2,5.7 89.5,20.0 90.2,22.9 90.5,32.7 90.3,58.7 89.6,48.6 88.1,41.6 86.8,47.5ZM90.7,34.7 92.3,45.0 93.5,49.9 94.4,45.0 95.4,37.6 95.5,61.3 95.3,78.0 95.1,87.8 94.9,91.3 92.1,82.8 91.2,61.2 90.6,49.0ZM97.6,45.0 100.1,5.4 100.4,19.7 101.2,22.7 101.5,32.6 101.2,58.9 100.6,48.6 99.0,41.5 97.7,47.5ZM101.6,34.6 103.3,45.0 104.5,50.0 105.4,45.0 106.3,37.5 106.4,61.4 106.2,78.3 106.0,88.2 105.9,91.7 103.1,83.2 102.2,61.3 101.5,49.0ZM108.5,45.0 111.1,5.0 111.4,19.5 112.1,22.5 112.4,32.5 112.2,59.0 111.5,48.6 110.0,41.5 108.7,47.5ZM112.6,34.5 114.2,45.0 115.4,50.0 116.3,45.0 117.3,37.5 117.4,61.5 117.2,78.6 117.0,88.6 116.8,92.1 114.0,83.5 113.1,61.5 112.5,49.0ZM119.5,45.0 122.0,4.6 122.3,19.2 123.1,22.3 123.4,32.4 123.1,59.1 122.5,48.7 120.9,41.5 119.6,47.5ZM123.6,34.4 125.2,45.0 126.4,50.0 127.3,45.0 128.2,37.4 128.3,61.7 128.1,78.8 127.9,88.9 127.8,92.5 125.0,83.8 124.1,61.6 123.4,49.0ZM130.4,45.0 133.0,4.3 133.3,19.0 134.0,22.1 134.3,32.2 134.1,59.2 133.4,48.7 131.9,41.4 130.6,47.5ZM134.5,34.3 136.1,45.0 137.3,50.1 137.8,45.0 137.8,37.3 137.8,61.8 137.8,79.1 137.8,89.2 137.8,92.8 135.9,84.1 135.0,61.7 134.4,49.0Z" fill="#1f6cb8" fill-opacity="0.16"/>
<path d="M2.9,49.1 3.0,66.8 3.4,72.5 4.0,78.2 7.3,86.4M7.9,50.9 8.1,69.4 8.4,68.1 8.8,53.1 9.2,42.1M0.0,66.4 0.0,48.3 0.5,42.2M7.4,50.9 8.3,24.7 9.1,16.9 10.1,44.3M13.8,49.2 13.9,67.4 14.4,73.3 14.9,79.1 18.3,87.4M18.8,51.0 19.1,69.9 19.3,68.6 19.7,53.3 20.2,42.0M8.5,67.2 9.3,48.4 11.4,42.1M18.3,51.0 19.2,24.1 20.1,16.2 21.1,44.2M24.8,49.2 24.9,67.9 25.3,73.8 25.9,79.7 29.2,88.1M29.8,51.1 30.0,70.3 30.3,69.0 30.7,53.4 31.1,41.9M19.4,67.7 20.3,48.4 22.4,42.0M29.3,51.1 30.2,23.7 31.0,15.7 32.0,44.2M35.7,49.3 35.8,68.2 36.3,74.2 36.8,80.3 40.2,88.8M40.7,51.1 41.0,70.7 41.2,69.3 41.6,53.5 42.1,41.8M30.4,68.0 31.2,48.5 33.3,41.9M40.2,51.1 41.1,23.4 42.0,15.2 43.0,44.2M46.7,49.3 46.8,68.5 47.2,74.6 47.8,80.7 51.1,89.3M51.7,51.2 51.9,71.0 52.2,69.6 52.6,53.6 53.0,41.8M41.3,68.4 42.2,48.5 44.3,41.8M51.2,51.2 52.1,23.1 52.9,14.8 53.9,44.1M57.6,49.3 57.7,68.8 58.2,75.0 58.7,81.2 62.1,89.9M62.6,51.3 62.9,71.3 63.1,69.9 63.5,53.7 64.0,41.7M52.3,68.7 53.1,48.5 55.2,41.8M62.1,51.3 63.0,22.8 63.9,14.4 64.9,44.1M68.6,49.4 68.7,69.1 69.1,75.3 69.7,81.6 73.0,90.4M73.6,51.3 73.8,71.6 74.1,70.1 74.5,53.7 74.9,41.7M63.2,68.9 64.1,48.6 66.2,41.7M73.1,51.3 74.0,22.5 74.8,14.0 75.8,44.1M79.5,49.4 79.6,69.3 80.1,75.6 80.6,81.9 84.0,90.8M84.5,51.4 84.8,71.8 85.0,70.4 85.4,53.8 85.9,41.6M74.2,69.2 75.0,48.6 77.1,41.6M84.0,51.4 84.9,22.3 85.8,13.7 86.8,44.1M90.5,49.4 90.6,69.5 91.0,75.9 91.6,82.3 94.9,91.3M95.5,51.4 95.7,72.1 96.0,70.6 96.4,53.9 96.8,41.6M85.1,69.4 86.0,48.6 88.1,41.6M95.0,51.4 95.9,22.1 96.7,13.4 97.7,44.0M101.4,49.5 101.5,69.8 102.0,76.2 102.5,82.6 105.9,91.7M106.4,51.5 106.7,72.3 106.9,70.8 107.3,54.0 107.8,41.5M96.1,69.6 96.9,48.6 99.0,41.5M105.9,51.5 106.9,21.8 107.7,13.1 108.7,44.0M112.4,49.5 112.5,70.0 112.9,76.5 113.5,83.0 116.8,92.1M117.4,51.5 117.6,72.6 117.9,71.1 118.3,54.0 118.7,41.5M107.0,69.9 107.9,48.6 110.0,41.5M116.9,51.5 117.8,21.6 118.6,12.8 119.6,44.0M123.3,49.5 123.4,70.2 123.9,76.7 124.4,83.3 127.8,92.5M128.3,51.6 128.6,72.8 128.8,71.3 129.2,54.1 129.7,41.4M118.0,70.1 118.8,48.7 120.9,41.5M127.8,51.6 128.8,21.4 129.6,12.5 130.6,44.0M134.3,49.5 134.4,70.4 134.8,77.0 135.4,83.6 137.8,92.8M128.9,70.3 129.8,48.7 131.9,41.4" fill="none" stroke="#1f6cb8" stroke-opacity="0.36" stroke-width="0.75" stroke-linejoin="round"/>
<path d="M0.0,51.6 0.0,44.4 0.0,22.7 0.4,12.7 1.1,44.3 1.2,50.4M9.9,51.8 10.1,44.3 10.8,21.6 11.3,11.4 12.1,44.3 12.2,50.5M20.8,51.9 21.1,44.2 21.7,21.1 22.3,10.6 23.0,44.2 23.1,50.6M31.8,52.0 32.0,44.2 32.7,20.7 33.2,10.0 34.0,44.2 34.1,50.6M42.7,52.1 43.0,44.2 43.6,20.3 44.2,9.5 44.9,44.2 45.0,50.7M53.7,52.2 53.9,44.1 54.6,19.9 55.1,9.0 55.9,44.1 56.0,50.8M64.6,52.2 64.9,44.1 65.5,19.6 66.1,8.6 66.8,44.1 66.9,50.8M75.6,52.3 75.8,44.1 76.5,19.3 77.0,8.1 77.8,44.1 77.9,50.9M86.5,52.4 86.8,44.1 87.4,19.0 88.0,7.8 88.7,44.0 88.8,50.9M97.5,52.4 97.7,44.0 98.4,18.8 98.9,7.4 99.7,44.0 99.8,50.9M108.4,52.5 108.7,44.0 109.3,18.5 109.9,7.0 110.6,44.0 110.7,51.0M119.4,52.5 119.6,44.0 120.3,18.3 120.8,6.7 121.6,44.0 121.7,51.0M130.3,52.6 130.6,44.0 131.2,18.0 131.8,6.3 132.5,44.0 132.6,51.1" fill="none" stroke="#1f6cb8" stroke-opacity="0.62" stroke-width="0.75" stroke-linejoin="round"/>
<path d="M1.0,50.4 1.1,44.3 1.6,10.7 1.9,23.2 2.6,25.7 2.9,49.1 3.6,59.5 4.5,78.7 5.3,48.7 5.4,42.6M2.7,26.6 3.0,34.3 4.7,45.2 5.9,49.6M5.6,43.9 5.7,50.0 6.9,85.1 7.3,86.4 7.5,83.4 7.7,74.6 7.9,50.9 8.0,39.4M12.0,50.5 12.1,44.3 12.5,9.5 12.8,22.4 13.6,25.1 13.8,49.2 14.6,59.9 15.5,79.6 16.2,48.7 16.3,42.5M13.6,26.0 13.9,34.0 15.7,45.2 16.9,49.6M16.6,43.8 16.7,50.1 17.9,86.0 18.3,87.4 18.4,84.3 18.6,75.3 18.8,51.0 18.9,39.3M22.9,50.6 23.0,44.2 23.5,8.7 23.8,21.9 24.5,24.6 24.8,49.2 25.5,60.1 26.4,80.2 27.2,48.8 27.3,42.4M24.6,25.5 24.9,33.7 26.6,45.1 27.8,49.7M27.5,43.8 27.6,50.2 28.8,86.7 29.2,88.1 29.4,84.9 29.6,75.8 29.8,51.1 29.9,39.1M33.9,50.6 34.0,44.2 34.4,8.1 34.7,21.5 35.5,24.3 35.7,49.3 36.5,60.4 37.4,80.8 38.1,48.8 38.2,42.3M35.5,25.2 35.8,33.5 37.6,45.1 38.8,49.7M38.5,43.7 38.6,50.2 39.8,87.4 40.2,88.8 40.3,85.5 40.5,76.2 40.7,51.1 40.8,39.0M44.8,50.7 44.9,44.2 45.4,7.6 45.7,21.2 46.4,24.0 46.7,49.3 47.4,60.6 48.3,81.2 49.1,48.8 49.2,42.3M46.5,24.9 46.8,33.3 48.5,45.1 49.7,49.8M49.4,43.7 49.5,50.3 50.7,87.9 51.1,89.3 51.3,86.1 51.5,76.6 51.7,51.2 51.8,38.9M55.8,50.8 55.9,44.1 56.3,7.1 56.6,20.8 57.4,23.7 57.6,49.3 58.4,60.7 59.3,81.7 60.0,48.9 60.1,42.2M57.4,24.6 57.7,33.2 59.5,45.1 60.7,49.8M60.4,43.6 60.5,50.3 61.7,88.4 62.1,89.9 62.2,86.5 62.4,77.0 62.6,51.3 62.7,38.8M66.7,50.8 66.8,44.1 67.3,6.6 67.6,20.5 68.3,23.4 68.6,49.4 69.3,60.9 70.2,82.1 71.0,48.9 71.1,42.2M68.4,24.4 68.7,33.0 70.4,45.1 71.6,49.9M71.3,43.6 71.4,50.4 72.6,88.9 73.0,90.4 73.2,87.0 73.4,77.4 73.6,51.3 73.7,38.8M77.7,50.9 77.8,44.1 78.2,6.2 78.5,20.2 79.3,23.1 79.5,49.4 80.3,61.1 81.2,82.5 81.9,48.9 82.0,42.1M79.3,24.1 79.6,32.9 81.4,45.0 82.6,49.9M82.3,43.6 82.4,50.4 83.6,89.3 84.0,90.8 84.1,87.4 84.3,77.7 84.5,51.4 84.6,38.7M88.6,50.9 88.7,44.0 89.2,5.7 89.5,20.0 90.2,22.9 90.5,49.4 91.2,61.2 92.1,82.8 92.9,49.0 93.0,42.1M90.3,23.9 90.6,32.7 92.3,45.0 93.5,49.9M93.2,43.5 93.3,50.4 94.5,89.8 94.9,91.3 95.1,87.8 95.3,78.0 95.5,51.4 95.6,38.6M99.6,50.9 99.7,44.0 100.1,5.4 100.4,19.7 101.2,22.7 101.4,49.5 102.2,61.3 103.1,83.2 103.8,49.0 103.9,42.0M101.2,23.7 101.5,32.6 103.3,45.0 104.5,50.0M104.2,43.5 104.3,50.5 105.5,90.2 105.9,91.7 106.0,88.2 106.2,78.3 106.4,51.5 106.5,38.5M110.5,51.0 110.6,44.0 111.1,5.0 111.4,19.5 112.1,22.5 112.4,49.5 113.1,61.5 114.0,83.5 114.8,49.0 114.9,42.0M112.2,23.5 112.5,32.5 114.2,45.0 115.4,50.0M115.1,43.5 115.2,50.5 116.4,90.6 116.8,92.1 117.0,88.6 117.2,78.6 117.4,51.5 117.5,38.5M121.5,51.0 121.6,44.0 122.0,4.6 122.3,19.2 123.1,22.3 123.3,49.5 124.1,61.6 125.0,83.8 125.7,49.0 125.8,41.9M123.1,23.3 123.4,32.4 125.2,45.0 126.4,50.0M126.1,43.5 126.2,50.5 127.4,90.9 127.8,92.5 127.9,88.9 128.1,78.8 128.3,51.6 128.4,38.4M132.4,51.1 132.5,44.0 133.0,4.3 133.3,19.0 134.0,22.1 134.3,49.5 135.0,61.7 135.9,84.1 136.7,49.0 136.8,41.9M134.1,23.1 134.4,32.2 136.1,45.0 137.3,50.1M137.0,43.4 137.1,50.6 137.8,91.3 137.8,92.8 137.8,89.2 137.8,79.1 137.8,51.6 137.8,38.3" fill="none" stroke="#1f6cb8" stroke-opacity="1.0" stroke-width="0.75" stroke-linejoin="round"/>
<path d="" fill="none" stroke="#1f6cb8" stroke-opacity="0.7" stroke-width="0.75" stroke-linejoin="round"/>
</g>
<path d="M1.6,12.1 1.9,24.1 2.6,26.5 3.0,34.8 4.7,45.2 5.9,49.4 5.9,49.4 6.8,45.2 8.0,34.6 8.3,25.5 8.4,20.2 10.3,14.1 12.5,11.0 12.8,23.4 13.6,25.9 13.9,34.5 15.7,45.2 16.9,49.5 16.9,49.5 17.8,45.2 19.0,34.4 19.2,25.0 19.3,19.6 21.3,13.4 23.5,10.3 23.8,22.9 24.5,25.5 24.9,34.2 26.6,45.2 27.8,49.6 27.8,49.6 28.7,45.2 29.9,34.1 30.2,24.7 30.3,19.1 32.2,12.9 34.4,9.6 34.7,22.5 35.5,25.2 35.8,34.0 37.6,45.2 38.8,49.6 38.8,49.6 39.7,45.2 40.9,34.0 41.1,24.3 41.2,18.7 43.2,12.4 45.4,9.1 45.7,22.2 46.4,24.9 46.8,33.9 48.5,45.1 49.7,49.7 49.7,49.7 50.6,45.1 51.8,33.8 52.1,24.0 52.2,18.3 54.1,11.9 56.3,8.6 56.6,21.9 57.4,24.6 57.7,33.7 59.5,45.1 60.7,49.7 60.7,49.7 61.6,45.1 62.8,33.7 63.0,23.8 63.1,18.1 65.1,11.7 67.3,8.5 67.6,21.8 68.3,24.5 68.7,33.7 70.4,45.1 71.6,49.7 71.6,49.7 72.5,45.1 73.7,33.7 74.0,23.9 74.1,18.2 76.0,11.8 78.2,8.7 78.5,21.9 79.3,24.7 79.6,33.8 81.4,45.1 82.6,49.7 82.6,49.7 83.5,45.1 84.7,33.8 84.9,24.1 85.0,18.4 87.0,12.1 89.2,9.0 89.5,22.1 90.2,24.8 90.6,33.9 92.3,45.1 93.5,49.6 93.5,49.6 94.4,45.2 95.6,33.9 95.9,24.2 96.0,18.6 97.9,12.4 100.1,9.2 100.4,22.3 101.2,25.0 101.5,33.9 103.3,45.2 104.5,49.6 104.5,49.6 105.4,45.2 106.6,33.9 106.9,24.3 106.9,18.7 108.9,12.3 111.1,9.1 111.4,22.2 112.1,24.9 112.5,33.9 114.2,45.1 115.4,49.7 115.4,49.7 116.3,45.1 117.5,33.8 117.8,24.1 117.9,18.4 119.8,12.0 122.0,8.8 122.3,22.0 123.1,24.7 123.4,33.8 125.2,45.1 126.4,49.7 126.4,49.7 127.3,45.1 128.5,33.7 128.8,23.9 128.8,18.2 130.8,11.8 133.0,8.5 133.3,21.8 134.0,24.5 134.4,33.7 136.1,45.1 137.3,49.7 137.3,49.7 137.8,45.1 L137.3,81.3 137.3,85.0 135.4,79.9 134.8,73.9 134.3,68.0 133.4,48.5 131.9,41.9 129.8,48.5 128.9,67.9 128.8,68.8 128.5,70.6 128.2,77.4 127.9,84.7 127.8,87.9 126.4,81.0 126.4,84.6 124.4,79.6 123.9,73.7 123.3,67.8 122.5,48.4 120.9,42.0 118.8,48.4 118.0,67.7 117.9,68.6 117.6,70.4 117.3,77.2 117.0,84.4 116.8,87.5 115.4,80.7 115.4,84.3 113.5,79.3 112.9,73.5 112.4,67.6 111.5,48.4 110.0,42.0 107.9,48.4 107.0,67.5 106.9,68.4 106.6,70.2 106.3,76.9 106.0,84.1 105.9,87.2 104.5,80.5 104.5,84.1 102.5,79.1 102.0,73.3 101.4,67.5 100.6,48.4 99.0,42.0 96.9,48.4 96.1,67.6 96.0,68.5 95.7,70.2 95.4,77.0 95.1,84.2 94.9,87.3 93.5,80.6 93.5,84.2 91.6,79.3 91.0,73.5 90.5,67.6 89.6,48.4 88.1,42.0 86.0,48.4 85.1,67.7 85.0,68.6 84.7,70.4 84.4,77.2 84.1,84.5 84.0,87.6 82.6,80.9 82.6,84.5 80.6,79.6 80.1,73.7 79.5,67.8 78.7,48.5 77.1,41.9 75.0,48.5 74.2,67.9 74.1,68.8 73.8,70.6 73.5,77.5 73.2,84.8 73.0,88.0 71.6,81.1 71.6,84.8 69.7,79.8 69.1,73.9 68.6,67.9 67.7,48.5 66.2,41.9 64.1,48.5 63.2,68.0 63.1,68.9 62.8,70.7 62.5,77.5 62.2,84.8 62.1,88.0 60.7,81.2 60.7,84.8 58.7,79.8 58.2,73.8 57.6,67.9 56.8,48.5 55.2,41.9 53.1,48.4 52.3,67.8 52.2,68.7 51.9,70.5 51.6,77.3 51.3,84.5 51.1,87.6 49.7,80.8 49.7,84.4 47.8,79.4 47.2,73.5 46.7,67.6 45.8,48.4 44.3,42.0 42.2,48.4 41.3,67.5 41.2,68.4 40.9,70.2 40.6,76.8 40.3,84.0 40.2,87.1 38.8,80.3 38.8,83.9 36.8,78.9 36.3,73.1 35.7,67.3 34.9,48.4 33.3,42.1 31.2,48.4 30.4,67.2 30.3,68.1 30.0,69.8 29.6,76.4 29.4,83.4 29.2,86.5 27.8,79.8 27.8,83.3 25.9,78.4 25.3,72.7 24.8,67.0 23.9,48.4 22.4,42.1 20.3,48.4 19.4,66.8 19.3,67.7 19.0,69.4 18.7,75.9 18.4,82.7 18.3,85.8 16.9,79.2 16.9,82.6 14.9,77.8 14.4,72.2 13.8,66.6 13.0,48.3 11.4,42.2 9.3,48.3 8.5,66.4 8.4,67.2 8.1,68.9 7.7,75.2 7.5,81.9 7.3,84.8 5.9,78.4 5.9,81.7 4.0,76.9 3.4,71.5 2.9,66.0 2.0,48.3 0.5,42.4Z" fill="#fff"/>
<g filter="url(#bl)">
<path d="M1.6,12.1 1.9,24.1 2.6,26.5 3.0,34.8 4.7,45.2 5.9,49.4 5.9,49.4 6.8,45.2 8.0,34.6 8.3,25.5 8.4,20.2 10.3,14.1 12.5,11.0 12.8,23.4 13.6,25.9 13.9,34.5 15.7,45.2 16.9,49.5 16.9,49.5 17.8,45.2 19.0,34.4 19.2,25.0 19.3,19.6 21.3,13.4 23.5,10.3 23.8,22.9 24.5,25.5 24.9,34.2 26.6,45.2 27.8,49.6 27.8,49.6 28.7,45.2 29.9,34.1 30.2,24.7 30.3,19.1 32.2,12.9 34.4,9.6 34.7,22.5 35.5,25.2 35.8,34.0 37.6,45.2 38.8,49.6 38.8,49.6 39.7,45.2 40.9,34.0 41.1,24.3 41.2,18.7 43.2,12.4 45.4,9.1 45.7,22.2 46.4,24.9 46.8,33.9 48.5,45.1 49.7,49.7 49.7,49.7 50.6,45.1 51.8,33.8 52.1,24.0 52.2,18.3 54.1,11.9 56.3,8.6 56.6,21.9 57.4,24.6 57.7,33.7 59.5,45.1 60.7,49.7 60.7,49.7 61.6,45.1 62.8,33.7 63.0,23.8 63.1,18.1 65.1,11.7 67.3,8.5 67.6,21.8 68.3,24.5 68.7,33.7 70.4,45.1 71.6,49.7 71.6,49.7 72.5,45.1 73.7,33.7 74.0,23.9 74.1,18.2 76.0,11.8 78.2,8.7 78.5,21.9 79.3,24.7 79.6,33.8 81.4,45.1 82.6,49.7 82.6,49.7 83.5,45.1 84.7,33.8 84.9,24.1 85.0,18.4 87.0,12.1 89.2,9.0 89.5,22.1 90.2,24.8 90.6,33.9 92.3,45.1 93.5,49.6 93.5,49.6 94.4,45.2 95.6,33.9 95.9,24.2 96.0,18.6 97.9,12.4 100.1,9.2 100.4,22.3 101.2,25.0 101.5,33.9 103.3,45.2 104.5,49.6 104.5,49.6 105.4,45.2 106.6,33.9 106.9,24.3 106.9,18.7 108.9,12.3 111.1,9.1 111.4,22.2 112.1,24.9 112.5,33.9 114.2,45.1 115.4,49.7 115.4,49.7 116.3,45.1 117.5,33.8 117.8,24.1 117.9,18.4 119.8,12.0 122.0,8.8 122.3,22.0 123.1,24.7 123.4,33.8 125.2,45.1 126.4,49.7 126.4,49.7 127.3,45.1 128.5,33.7 128.8,23.9 128.8,18.2 130.8,11.8 133.0,8.5 133.3,21.8 134.0,24.5 134.4,33.7 136.1,45.1 137.3,49.7 137.3,49.7 137.8,45.1 L137.3,81.3 137.3,85.0 135.4,79.9 134.8,73.9 134.3,68.0 133.4,48.5 131.9,41.9 129.8,48.5 128.9,67.9 128.8,68.8 128.5,70.6 128.2,77.4 127.9,84.7 127.8,87.9 126.4,81.0 126.4,84.6 124.4,79.6 123.9,73.7 123.3,67.8 122.5,48.4 120.9,42.0 118.8,48.4 118.0,67.7 117.9,68.6 117.6,70.4 117.3,77.2 117.0,84.4 116.8,87.5 115.4,80.7 115.4,84.3 113.5,79.3 112.9,73.5 112.4,67.6 111.5,48.4 110.0,42.0 107.9,48.4 107.0,67.5 106.9,68.4 106.6,70.2 106.3,76.9 106.0,84.1 105.9,87.2 104.5,80.5 104.5,84.1 102.5,79.1 102.0,73.3 101.4,67.5 100.6,48.4 99.0,42.0 96.9,48.4 96.1,67.6 96.0,68.5 95.7,70.2 95.4,77.0 95.1,84.2 94.9,87.3 93.5,80.6 93.5,84.2 91.6,79.3 91.0,73.5 90.5,67.6 89.6,48.4 88.1,42.0 86.0,48.4 85.1,67.7 85.0,68.6 84.7,70.4 84.4,77.2 84.1,84.5 84.0,87.6 82.6,80.9 82.6,84.5 80.6,79.6 80.1,73.7 79.5,67.8 78.7,48.5 77.1,41.9 75.0,48.5 74.2,67.9 74.1,68.8 73.8,70.6 73.5,77.5 73.2,84.8 73.0,88.0 71.6,81.1 71.6,84.8 69.7,79.8 69.1,73.9 68.6,67.9 67.7,48.5 66.2,41.9 64.1,48.5 63.2,68.0 63.1,68.9 62.8,70.7 62.5,77.5 62.2,84.8 62.1,88.0 60.7,81.2 60.7,84.8 58.7,79.8 58.2,73.8 57.6,67.9 56.8,48.5 55.2,41.9 53.1,48.4 52.3,67.8 52.2,68.7 51.9,70.5 51.6,77.3 51.3,84.5 51.1,87.6 49.7,80.8 49.7,84.4 47.8,79.4 47.2,73.5 46.7,67.6 45.8,48.4 44.3,42.0 42.2,48.4 41.3,67.5 41.2,68.4 40.9,70.2 40.6,76.8 40.3,84.0 40.2,87.1 38.8,80.3 38.8,83.9 36.8,78.9 36.3,73.1 35.7,67.3 34.9,48.4 33.3,42.1 31.2,48.4 30.4,67.2 30.3,68.1 30.0,69.8 29.6,76.4 29.4,83.4 29.2,86.5 27.8,79.8 27.8,83.3 25.9,78.4 25.3,72.7 24.8,67.0 23.9,48.4 22.4,42.1 20.3,48.4 19.4,66.8 19.3,67.7 19.0,69.4 18.7,75.9 18.4,82.7 18.3,85.8 16.9,79.2 16.9,82.6 14.9,77.8 14.4,72.2 13.8,66.6 13.0,48.3 11.4,42.2 9.3,48.3 8.5,66.4 8.4,67.2 8.1,68.9 7.7,75.2 7.5,81.9 7.3,84.8 5.9,78.4 5.9,81.7 4.0,76.9 3.4,71.5 2.9,66.0 2.0,48.3 0.5,42.4Z" fill="#D95C33" fill-opacity="0.12"/>
<path d="M0.0,45.3 1.6,12.1 1.9,24.1 2.6,26.5 2.9,34.8 2.7,56.9 2.0,48.3 0.5,42.4 0.0,47.3ZM3.1,36.5 4.7,45.2 5.9,49.4 6.8,45.2 7.7,38.9 7.9,59.2 7.7,73.5 7.5,81.9 7.3,84.8 4.5,77.4 3.6,59.0 3.0,48.6ZM10.0,45.2 12.5,11.0 12.8,23.4 13.6,25.9 13.9,34.5 13.6,57.2 13.0,48.3 11.4,42.2 10.1,47.3ZM14.0,36.2 15.7,45.2 16.9,49.5 17.8,45.2 18.7,38.7 18.8,59.5 18.6,74.1 18.4,82.7 18.3,85.8 15.5,78.2 14.6,59.3 13.9,48.6ZM20.9,45.2 23.5,10.3 23.8,22.9 24.5,25.5 24.8,34.2 24.6,57.4 23.9,48.4 22.4,42.1 21.1,47.4ZM25.0,36.0 26.6,45.2 27.8,49.6 28.7,45.2 29.6,38.6 29.8,59.7 29.6,74.6 29.4,83.4 29.2,86.5 26.4,78.9 25.5,59.6 24.9,48.7ZM31.9,45.2 34.4,9.6 34.7,22.5 35.5,25.2 35.8,34.0 35.5,57.6 34.9,48.4 33.3,42.1 32.0,47.4ZM35.9,35.8 37.6,45.2 38.8,49.6 39.7,45.2 40.6,38.4 40.7,59.9 40.5,75.1 40.3,84.0 40.2,87.1 37.4,79.4 36.5,59.8 35.8,48.7ZM42.8,45.2 45.4,9.1 45.7,22.2 46.4,24.9 46.7,33.9 46.5,57.7 45.8,48.4 44.3,42.0 43.0,47.4ZM46.9,35.7 48.5,45.1 49.7,49.7 50.6,45.1 51.6,38.3 51.7,60.1 51.5,75.4 51.3,84.5 51.1,87.6 48.3,79.8 47.4,60.0 46.8,48.7ZM53.8,45.1 56.3,8.6 56.6,21.9 57.4,24.6 57.7,33.7 57.4,57.9 56.8,48.5 55.2,41.9 53.9,47.4ZM57.8,35.5 59.5,45.1 60.7,49.7 61.6,45.1 62.5,38.3 62.6,60.2 62.4,75.7 62.2,84.8 62.1,88.0 59.3,80.2 58.4,60.2 57.7,48.8ZM64.7,45.1 67.3,8.5 67.6,21.8 68.3,24.5 68.6,33.7 68.4,57.9 67.7,48.5 66.2,41.9 64.9,47.4ZM68.8,35.5 70.4,45.1 71.6,49.7 72.5,45.1 73.5,38.3 73.6,60.2 73.4,75.7 73.2,84.8 73.0,88.0 70.2,80.3 69.3,60.2 68.7,48.8ZM75.7,45.1 78.2,8.7 78.5,21.9 79.3,24.7 79.6,33.8 79.3,57.8 78.7,48.5 77.1,41.9 75.8,47.4ZM79.7,35.6 81.4,45.1 82.6,49.7 83.5,45.1 84.4,38.3 84.5,60.1 84.3,75.4 84.1,84.5 84.0,87.6 81.2,80.0 80.3,60.1 79.6,48.8ZM86.6,45.1 89.2,9.0 89.5,22.1 90.2,24.8 90.5,33.9 90.3,57.7 89.6,48.4 88.1,42.0 86.8,47.4ZM90.7,35.7 92.3,45.1 93.5,49.6 94.4,45.2 95.4,38.4 95.5,59.9 95.3,75.2 95.1,84.2 94.9,87.3 92.1,79.7 91.2,60.0 90.6,48.7ZM97.6,45.2 100.1,9.2 100.4,22.3 101.2,25.0 101.5,33.9 101.2,57.7 100.6,48.4 99.0,42.0 97.7,47.4ZM101.6,35.7 103.3,45.2 104.5,49.6 105.4,45.2 106.3,38.4 106.4,59.9 106.2,75.1 106.0,84.1 105.9,87.2 103.1,79.6 102.2,59.9 101.5,48.7ZM108.5,45.2 111.1,9.1 111.4,22.2 112.1,24.9 112.4,33.9 112.2,57.7 111.5,48.4 110.0,42.0 108.7,47.4ZM112.6,35.7 114.2,45.1 115.4,49.7 116.3,45.1 117.3,38.4 117.4,60.0 117.2,75.4 117.0,84.4 116.8,87.5 114.0,79.8 113.1,60.0 112.5,48.7ZM119.5,45.1 122.0,8.8 122.3,22.0 123.1,24.7 123.4,33.8 123.1,57.8 122.5,48.4 120.9,42.0 119.6,47.4ZM123.6,35.6 125.2,45.1 126.4,49.7 127.3,45.1 128.2,38.3 128.3,60.1 128.1,75.6 127.9,84.7 127.8,87.9 125.0,80.1 124.1,60.1 123.4,48.8ZM130.4,45.1 133.0,8.5 133.3,21.8 134.0,24.5 134.3,33.7 134.1,57.9 133.4,48.5 131.9,41.9 130.6,47.4ZM134.5,35.5 136.1,45.1 137.3,49.7 137.8,45.1 137.8,38.2 137.8,60.2 137.8,75.8 137.8,85.0 137.8,88.2 135.9,80.3 135.0,60.2 134.4,48.8Z" fill="#D95C33" fill-opacity="0.18"/>
<path d="M2.9,49.0 3.0,66.0 3.4,71.5 4.0,76.9 7.3,84.8M7.9,50.7 8.1,68.4 8.4,67.2 8.8,52.8 9.2,42.3M0.0,65.6 0.0,48.3 0.5,42.4M7.4,50.7 8.3,25.5 9.1,18.1 10.1,44.4M13.8,49.1 13.9,66.6 14.4,72.2 14.9,77.8 18.3,85.8M18.8,50.8 19.1,69.0 19.3,67.7 19.7,53.0 20.2,42.2M8.5,66.4 9.3,48.3 11.4,42.2M18.3,50.8 19.2,25.0 20.1,17.4 21.1,44.3M24.8,49.1 24.9,67.0 25.3,72.7 25.9,78.4 29.2,86.5M29.8,50.9 30.0,69.4 30.3,68.1 30.7,53.1 31.1,42.1M19.4,66.8 20.3,48.4 22.4,42.1M29.3,50.9 30.2,24.7 31.0,16.9 32.0,44.3M35.7,49.2 35.8,67.3 36.3,73.1 36.8,78.9 40.2,87.1M40.7,51.0 41.0,69.7 41.2,68.4 41.6,53.2 42.1,42.0M30.4,67.2 31.2,48.4 33.3,42.1M40.2,51.0 41.1,24.3 42.0,16.5 43.0,44.3M46.7,49.2 46.8,67.6 47.2,73.5 47.8,79.4 51.1,87.6M51.7,51.0 51.9,70.0 52.2,68.7 52.6,53.3 53.0,42.0M41.3,67.5 42.2,48.4 44.3,42.0M51.2,51.0 52.1,24.0 52.9,16.1 53.9,44.2M57.6,49.2 57.7,67.9 58.2,73.8 58.7,79.8 62.1,88.0M62.6,51.1 62.9,70.2 63.1,68.9 63.5,53.3 64.0,41.9M52.3,67.8 53.1,48.4 55.2,41.9M62.1,51.1 63.0,23.8 63.9,15.8 64.9,44.2M68.6,49.2 68.7,67.9 69.1,73.9 69.7,79.8 73.0,88.0M73.6,51.1 73.8,70.2 74.1,68.8 74.5,53.3 74.9,41.9M63.2,68.0 64.1,48.5 66.2,41.9M73.1,51.1 74.0,23.9 74.8,15.9 75.8,44.2M79.5,49.2 79.6,67.8 80.1,73.7 80.6,79.6 84.0,87.6M84.5,51.0 84.8,70.0 85.0,68.6 85.4,53.3 85.9,42.0M74.2,67.9 75.0,48.5 77.1,41.9M84.0,51.0 84.9,24.1 85.8,16.2 86.8,44.2M90.5,49.2 90.6,67.6 91.0,73.5 91.6,79.3 94.9,87.3M95.5,51.0 95.7,69.8 96.0,68.5 96.4,53.2 96.8,42.0M85.1,67.7 86.0,48.4 88.1,42.0M95.0,51.0 95.9,24.2 96.7,16.4 97.7,44.3M101.4,49.2 101.5,67.5 102.0,73.3 102.5,79.1 105.9,87.2M106.4,51.0 106.7,69.8 106.9,68.4 107.3,53.2 107.8,42.0M96.1,67.6 96.9,48.4 99.0,42.0M105.9,51.0 106.9,24.3 107.7,16.4 108.7,44.3M112.4,49.2 112.5,67.6 112.9,73.5 113.5,79.3 116.8,87.5M117.4,51.0 117.6,70.0 117.9,68.6 118.3,53.3 118.7,42.0M107.0,67.5 107.9,48.4 110.0,42.0M116.9,51.0 117.8,24.1 118.6,16.2 119.6,44.2M123.3,49.2 123.4,67.8 123.9,73.7 124.4,79.6 127.8,87.9M128.3,51.0 128.6,70.2 128.8,68.8 129.2,53.3 129.7,41.9M118.0,67.7 118.8,48.4 120.9,42.0M127.8,51.0 128.8,23.9 129.6,15.9 130.6,44.2M134.3,49.2 134.4,68.0 134.8,73.9 135.4,79.9 137.8,88.2M128.9,67.9 129.8,48.5 131.9,41.9" fill="none" stroke="#D95C33" stroke-opacity="0.47" stroke-width="0.98" stroke-linejoin="round"/>
<path d="M0.0,51.4 0.0,44.5 0.0,23.6 0.4,14.1 1.1,44.4 1.2,50.2M9.9,51.6 10.1,44.4 10.8,22.6 11.3,12.8 12.1,44.4 12.2,50.3M20.8,51.7 21.1,44.3 21.7,22.1 22.3,12.1 23.0,44.3 23.1,50.4M31.8,51.8 32.0,44.3 32.7,21.7 33.2,11.5 34.0,44.3 34.1,50.5M42.7,51.9 43.0,44.3 43.6,21.3 44.2,11.0 44.9,44.2 45.0,50.5M53.7,51.9 53.9,44.2 54.6,21.0 55.1,10.5 55.9,44.2 56.0,50.6M64.6,52.0 64.9,44.2 65.5,20.8 66.1,10.3 66.8,44.2 66.9,50.6M75.6,52.0 75.8,44.2 76.5,21.0 77.0,10.5 77.8,44.2 77.9,50.6M86.5,51.9 86.8,44.2 87.4,21.2 88.0,10.8 88.7,44.2 88.8,50.6M97.5,51.9 97.7,44.3 98.4,21.4 98.9,11.0 99.7,44.3 99.8,50.5M108.4,51.9 108.7,44.3 109.3,21.3 109.9,11.0 110.6,44.2 110.7,50.5M119.4,51.9 119.6,44.2 120.3,21.1 120.8,10.7 121.6,44.2 121.7,50.6M130.3,52.0 130.6,44.2 131.2,20.9 131.8,10.4 132.5,44.2 132.6,50.6" fill="none" stroke="#D95C33" stroke-opacity="0.81" stroke-width="0.98" stroke-linejoin="round"/>
<path d="M1.0,50.2 1.1,44.4 1.6,12.1 1.9,24.1 2.6,26.5 2.9,49.0 3.6,59.0 4.5,77.4 5.3,48.6 5.4,42.7M2.7,27.4 3.0,34.8 4.7,45.2 5.9,49.4M5.6,44.0 5.7,49.9 6.9,83.5 7.3,84.8 7.5,81.9 7.7,73.5 7.9,50.7 8.0,39.7M12.0,50.3 12.1,44.4 12.5,11.0 12.8,23.4 13.6,25.9 13.8,49.1 14.6,59.3 15.5,78.2 16.2,48.6 16.3,42.6M13.6,26.8 13.9,34.5 15.7,45.2 16.9,49.5M16.6,43.9 16.7,49.9 17.9,84.4 18.3,85.8 18.4,82.7 18.6,74.1 18.8,50.8 18.9,39.6M22.9,50.4 23.0,44.3 23.5,10.3 23.8,22.9 24.5,25.5 24.8,49.1 25.5,59.6 26.4,78.9 27.2,48.7 27.3,42.5M24.6,26.4 24.9,34.2 26.6,45.2 27.8,49.6M27.5,43.9 27.6,50.0 28.8,85.1 29.2,86.5 29.4,83.4 29.6,74.6 29.8,50.9 29.9,39.4M33.9,50.5 34.0,44.3 34.4,9.6 34.7,22.5 35.5,25.2 35.7,49.2 36.5,59.8 37.4,79.4 38.1,48.7 38.2,42.5M35.5,26.0 35.8,34.0 37.6,45.2 38.8,49.6M38.5,43.8 38.6,50.1 39.8,85.7 40.2,87.1 40.3,84.0 40.5,75.1 40.7,51.0 40.8,39.3M44.8,50.5 44.9,44.2 45.4,9.1 45.7,22.2 46.4,24.9 46.7,49.2 47.4,60.0 48.3,79.8 49.1,48.8 49.2,42.4M46.5,25.8 46.8,33.9 48.5,45.1 49.7,49.7M49.4,43.8 49.5,50.1 50.7,86.3 51.1,87.6 51.3,84.5 51.5,75.4 51.7,51.0 51.8,39.2M55.8,50.6 55.9,44.2 56.3,8.6 56.6,21.9 57.4,24.6 57.6,49.2 58.4,60.2 59.3,80.2 60.0,48.8 60.1,42.4M57.4,25.5 57.7,33.7 59.5,45.1 60.7,49.7M60.4,43.8 60.5,50.1 61.7,86.7 62.1,88.0 62.2,84.8 62.4,75.7 62.6,51.1 62.7,39.2M66.7,50.6 66.8,44.2 67.3,8.5 67.6,21.8 68.3,24.5 68.6,49.2 69.3,60.2 70.2,80.3 71.0,48.8 71.1,42.4M68.4,25.4 68.7,33.7 70.4,45.1 71.6,49.7M71.3,43.8 71.4,50.1 72.6,86.6 73.0,88.0 73.2,84.8 73.4,75.7 73.6,51.1 73.7,39.2M77.7,50.6 77.8,44.2 78.2,8.7 78.5,21.9 79.3,24.7 79.5,49.2 80.3,60.1 81.2,80.0 81.9,48.8 82.0,42.4M79.3,25.6 79.6,33.8 81.4,45.1 82.6,49.7M82.3,43.8 82.4,50.1 83.6,86.3 84.0,87.6 84.1,84.5 84.3,75.4 84.5,51.0 84.6,39.2M88.6,50.6 88.7,44.2 89.2,9.0 89.5,22.1 90.2,24.8 90.5,49.2 91.2,60.0 92.1,79.7 92.9,48.7 93.0,42.4M90.3,25.7 90.6,33.9 92.3,45.1 93.5,49.6M93.2,43.8 93.3,50.1 94.5,86.0 94.9,87.3 95.1,84.2 95.3,75.2 95.5,51.0 95.6,39.3M99.6,50.5 99.7,44.3 100.1,9.2 100.4,22.3 101.2,25.0 101.4,49.2 102.2,59.9 103.1,79.6 103.8,48.7 103.9,42.5M101.2,25.9 101.5,33.9 103.3,45.2 104.5,49.6M104.2,43.8 104.3,50.1 105.5,85.9 105.9,87.2 106.0,84.1 106.2,75.1 106.4,51.0 106.5,39.3M110.5,50.5 110.6,44.2 111.1,9.1 111.4,22.2 112.1,24.9 112.4,49.2 113.1,60.0 114.0,79.8 114.8,48.8 114.9,42.4M112.2,25.8 112.5,33.9 114.2,45.1 115.4,49.7M115.1,43.8 115.2,50.1 116.4,86.2 116.8,87.5 117.0,84.4 117.2,75.4 117.4,51.0 117.5,39.3M121.5,50.6 121.6,44.2 122.0,8.8 122.3,22.0 123.1,24.7 123.3,49.2 124.1,60.1 125.0,80.1 125.7,48.8 125.8,42.4M123.1,25.6 123.4,33.8 125.2,45.1 126.4,49.7M126.1,43.8 126.2,50.1 127.4,86.5 127.8,87.9 127.9,84.7 128.1,75.6 128.3,51.0 128.4,39.2M132.4,50.6 132.5,44.2 133.0,8.5 133.3,21.8 134.0,24.5 134.3,49.2 135.0,60.2 135.9,80.3 136.7,48.8 136.8,42.4M134.1,25.4 134.4,33.7 136.1,45.1 137.3,49.7M137.0,43.7 137.1,50.2 137.8,86.8 137.8,88.2 137.8,85.0 137.8,75.8 137.8,51.1 137.8,39.1" fill="none" stroke="#D95C33" stroke-opacity="1.0" stroke-width="0.98" stroke-linejoin="round"/>
<path d="" fill="none" stroke="#D95C33" stroke-opacity="0.7" stroke-width="0.98" stroke-linejoin="round"/>
</g>
</g>
<rect x="399.5" y="26.5" width="137.8" height="93.0" fill="none" stroke="#666" stroke-width="0.7"/>
<line x1="445.43" y1="119.5" x2="445.43" y2="118.0" stroke="#555" stroke-width="0.6"/>
<line x1="445.43" y1="26.5" x2="445.43" y2="28.0" stroke="#555" stroke-width="0.6"/>
<line x1="491.37" y1="119.5" x2="491.37" y2="118.0" stroke="#555" stroke-width="0.6"/>
<line x1="491.37" y1="26.5" x2="491.37" y2="28.0" stroke="#555" stroke-width="0.6"/>
<line x1="399.5" y1="49.75" x2="401.0" y2="49.75" stroke="#555" stroke-width="0.6"/>
<line x1="537.3" y1="49.75" x2="535.8" y2="49.75" stroke="#555" stroke-width="0.6"/>
<line x1="399.5" y1="73.00" x2="401.0" y2="73.00" stroke="#555" stroke-width="0.6"/>
<line x1="537.3" y1="73.00" x2="535.8" y2="73.00" stroke="#555" stroke-width="0.6"/>
<line x1="399.5" y1="96.25" x2="401.0" y2="96.25" stroke="#555" stroke-width="0.6"/>
<line x1="537.3" y1="96.25" x2="535.8" y2="96.25" stroke="#555" stroke-width="0.6"/>
<text class="t" x="399.8" y="133.7" text-anchor="middle">0</text>
<text class="t" x="445.7" y="133.7" text-anchor="middle">50</text>
<text class="t" x="491.7" y="133.7" text-anchor="middle">100</text>
<text class="t" x="537.6" y="133.7" text-anchor="middle">150</text>
<text class="t" x="396.5" y="30.2" text-anchor="end">10</text>
<text class="t" x="396.5" y="53.5" text-anchor="end">5</text>
<text class="t" x="396.5" y="76.8" text-anchor="end">0</text>
<text class="t" x="396.5" y="100.0" text-anchor="end">-5</text>
<text class="t" x="396.5" y="123.2" text-anchor="end">-10</text>
<text class="ax" x="468.7" y="147.7" text-anchor="middle">x</text>
<text class="ax" style="font-size:12px" transform="translate(376.8,73.8) rotate(-90)" text-anchor="middle">f<tspan font-style="normal">(</tspan>x<tspan font-style="normal">)</tspan></text>
<text class="c" x="474.8" y="161.9" text-anchor="middle">(c) PhaseDNN <tspan font-style="italic">N</tspan><tspan fill="#777">=</tspan>10000</text>
<line x1="470.8" y1="9.1" x2="491.6" y2="9.1" stroke="#1f6cb8" stroke-width="0.55" stroke-opacity="0.7"/>
<line x1="470.8" y1="20.4" x2="491.6" y2="20.4" stroke="#D95C33" stroke-width="0.6" stroke-opacity="0.7"/>
<text x="494.5" y="12.5" font-size="9.4">Truth</text>
<text x="494.5" y="23.8" font-size="9.4">PhaseDNN</text>
</g>
<g>
<line x1="82.43" y1="201.5" x2="82.43" y2="294.5" stroke="#e6e6e6" stroke-width="0.5"/>
<line x1="128.37" y1="201.5" x2="128.37" y2="294.5" stroke="#e6e6e6" stroke-width="0.5"/>
<line x1="36.5" y1="224.75" x2="174.3" y2="224.75" stroke="#e6e6e6" stroke-width="0.5"/>
<line x1="36.5" y1="248.00" x2="174.3" y2="248.00" stroke="#e6e6e6" stroke-width="0.5"/>
<line x1="36.5" y1="271.25" x2="174.3" y2="271.25" stroke="#e6e6e6" stroke-width="0.5"/>
<g transform="translate(36.5,201.5)">
<g filter="url(#bl)">
<path d="M1.6,10.7 1.9,23.2 2.6,25.7 3.0,34.3 4.7,45.2 5.9,49.6 5.9,49.6 6.8,45.2 8.0,34.2 8.3,24.7 8.4,19.1 10.3,12.8 12.5,9.5 12.8,22.4 13.6,25.1 13.9,34.0 15.7,45.2 16.9,49.6 16.9,49.6 17.8,45.1 19.0,33.9 19.2,24.1 19.3,18.5 21.3,12.1 23.5,8.7 23.8,21.9 24.5,24.6 24.9,33.7 26.6,45.1 27.8,49.7 27.8,49.7 28.7,45.1 29.9,33.6 30.2,23.7 30.3,18.0 32.2,11.5 34.4,8.1 34.7,21.5 35.5,24.3 35.8,33.5 37.6,45.1 38.8,49.7 38.8,49.7 39.7,45.1 40.9,33.4 41.1,23.4 41.2,17.6 43.2,10.9 45.4,7.6 45.7,21.2 46.4,24.0 46.8,33.3 48.5,45.1 49.7,49.8 49.7,49.8 50.6,45.1 51.8,33.3 52.1,23.1 52.2,17.2 54.1,10.5 56.3,7.1 56.6,20.8 57.4,23.7 57.7,33.2 59.5,45.1 60.7,49.8 60.7,49.8 61.6,45.1 62.8,33.1 63.0,22.8 63.1,16.8 65.1,10.0 67.3,6.6 67.6,20.5 68.3,23.4 68.7,33.0 70.4,45.1 71.6,49.9 71.6,49.9 72.5,45.0 73.7,32.9 74.0,22.5 74.1,16.5 76.0,9.6 78.2,6.2 78.5,20.2 79.3,23.1 79.6,32.9 81.4,45.0 82.6,49.9 82.6,49.9 83.5,45.0 84.7,32.8 84.9,22.3 85.0,16.2 87.0,9.3 89.2,5.7 89.5,20.0 90.2,22.9 90.6,32.7 92.3,45.0 93.5,49.9 93.5,49.9 94.4,45.0 95.6,32.7 95.9,22.1 96.0,15.9 97.9,8.9 100.1,5.4 100.4,19.7 101.2,22.7 101.5,32.6 103.3,45.0 104.5,50.0 104.5,50.0 105.4,45.0 106.6,32.5 106.9,21.8 106.9,15.6 108.9,8.5 111.1,5.0 111.4,19.5 112.1,22.5 112.5,32.5 114.2,45.0 115.4,50.0 115.4,50.0 116.3,45.0 117.5,32.4 117.8,21.6 117.9,15.3 119.8,8.2 122.0,4.6 122.3,19.2 123.1,22.3 123.4,32.4 125.2,45.0 126.4,50.0 126.4,50.0 127.3,45.0 128.5,32.3 128.8,21.4 128.8,15.1 130.8,7.9 133.0,4.3 133.3,19.0 134.0,22.1 134.4,32.2 136.1,45.0 137.3,50.1 137.3,50.1 137.8,45.0 L137.3,85.2 137.3,89.2 135.4,83.6 134.8,77.0 134.3,70.4 133.4,48.7 131.9,41.4 129.8,48.7 128.9,70.3 128.8,71.3 128.5,73.3 128.2,80.9 127.9,88.9 127.8,92.5 126.4,84.9 126.4,88.9 124.4,83.3 123.9,76.7 123.3,70.2 122.5,48.7 120.9,41.5 118.8,48.7 118.0,70.1 117.9,71.1 117.6,73.1 117.3,80.6 117.0,88.6 116.8,92.1 115.4,84.5 115.4,88.5 113.5,83.0 112.9,76.5 112.4,70.0 111.5,48.6 110.0,41.5 107.9,48.6 107.0,69.9 106.9,70.8 106.6,72.8 106.3,80.3 106.0,88.2 105.9,91.7 104.5,84.2 104.5,88.2 102.5,82.6 102.0,76.2 101.4,69.7 100.6,48.6 99.0,41.5 96.9,48.6 96.1,69.6 96.0,70.6 95.7,72.6 95.4,80.0 95.1,87.8 94.9,91.3 93.5,83.8 93.5,87.8 91.6,82.3 91.0,75.9 90.5,69.5 89.6,48.6 88.1,41.6 86.0,48.6 85.1,69.4 85.0,70.4 84.7,72.3 84.4,79.6 84.1,87.4 84.0,90.8 82.6,83.5 82.6,87.4 80.6,81.9 80.1,75.6 79.5,69.3 78.7,48.6 77.1,41.6 75.0,48.6 74.2,69.2 74.1,70.1 73.8,72.1 73.5,79.3 73.2,87.0 73.0,90.4 71.6,83.1 71.6,86.9 69.7,81.6 69.1,75.3 68.6,69.1 67.7,48.6 66.2,41.7 64.1,48.6 63.2,68.9 63.1,69.9 62.8,71.8 62.5,78.9 62.2,86.5 62.1,89.9 60.7,82.7 60.7,86.5 58.7,81.2 58.2,75.0 57.6,68.8 56.8,48.5 55.2,41.8 53.1,48.5 52.3,68.7 52.2,69.6 51.9,71.5 51.6,78.5 51.3,86.1 51.1,89.3 49.7,82.2 49.7,86.0 47.8,80.7 47.2,74.6 46.7,68.5 45.8,48.5 44.3,41.8 42.2,48.5 41.3,68.4 41.2,69.3 40.9,71.1 40.6,78.1 40.3,85.5 40.2,88.8 38.8,81.7 38.8,85.5 36.8,80.3 36.3,74.2 35.7,68.2 34.9,48.5 33.3,41.9 31.2,48.5 30.4,68.0 30.3,69.0 30.0,70.8 29.6,77.6 29.4,84.9 29.2,88.1 27.8,81.2 27.8,84.9 25.9,79.7 25.3,73.8 24.8,67.9 23.9,48.5 22.4,42.0 20.3,48.4 19.4,67.7 19.3,68.6 19.0,70.3 18.7,77.1 18.4,84.3 18.3,87.4 16.9,80.6 16.9,84.1 14.9,79.1 14.4,73.3 13.8,67.4 13.0,48.4 11.4,42.1 9.3,48.4 8.5,67.2 8.4,68.1 8.1,69.8 7.7,76.4 7.5,83.4 7.3,86.4 5.9,79.7 5.9,83.2 4.0,78.2 3.4,72.5 2.9,66.8 2.0,48.4 0.5,42.2Z" fill="#1f6cb8" fill-opacity="0.11"/>
<path d="M0.0,45.2 1.6,10.7 1.9,23.2 2.6,25.7 2.9,34.4 2.7,57.3 2.0,48.4 0.5,42.2 0.0,47.3ZM3.1,36.1 4.7,45.2 5.9,49.6 6.8,45.2 7.7,38.6 7.9,59.7 7.7,74.6 7.5,83.4 7.3,86.4 4.5,78.7 3.6,59.5 3.0,48.7ZM10.0,45.2 12.5,9.5 12.8,22.4 13.6,25.1 13.9,34.0 13.6,57.6 13.0,48.4 11.4,42.1 10.1,47.4ZM14.0,35.8 15.7,45.2 16.9,49.6 17.8,45.1 18.7,38.4 18.8,60.0 18.6,75.3 18.4,84.3 18.3,87.4 15.5,79.6 14.6,59.9 13.9,48.7ZM20.9,45.1 23.5,8.7 23.8,21.9 24.5,24.6 24.8,33.7 24.6,57.9 23.9,48.5 22.4,42.0 21.1,47.4ZM25.0,35.6 26.6,45.1 27.8,49.7 28.7,45.1 29.6,38.2 29.8,60.2 29.6,75.8 29.4,84.9 29.2,88.1 26.4,80.2 25.5,60.1 24.9,48.8ZM31.9,45.1 34.4,8.1 34.7,21.5 35.5,24.3 35.8,33.5 35.5,58.0 34.9,48.5 33.3,41.9 32.0,47.4ZM35.9,35.4 37.6,45.1 38.8,49.7 39.7,45.1 40.6,38.1 40.7,60.4 40.5,76.2 40.3,85.5 40.2,88.8 37.4,80.8 36.5,60.4 35.8,48.8ZM42.8,45.1 45.4,7.6 45.7,21.2 46.4,24.0 46.7,33.3 46.5,58.2 45.8,48.5 44.3,41.8 43.0,47.4ZM46.9,35.2 48.5,45.1 49.7,49.8 50.6,45.1 51.6,38.0 51.7,60.6 51.5,76.6 51.3,86.1 51.1,89.3 48.3,81.2 47.4,60.6 46.8,48.8ZM53.8,45.1 56.3,7.1 56.6,20.8 57.4,23.7 57.7,33.2 57.4,58.4 56.8,48.5 55.2,41.8 53.9,47.4ZM57.8,35.1 59.5,45.1 60.7,49.8 61.6,45.1 62.5,37.9 62.6,60.8 62.4,77.0 62.2,86.5 62.1,89.9 59.3,81.7 58.4,60.7 57.7,48.9ZM64.7,45.1 67.3,6.6 67.6,20.5 68.3,23.4 68.6,33.0 68.4,58.5 67.7,48.6 66.2,41.7 64.9,47.5ZM68.8,34.9 70.4,45.1 71.6,49.9 72.5,45.0 73.5,37.8 73.6,61.0 73.4,77.4 73.2,87.0 73.0,90.4 70.2,82.1 69.3,60.9 68.7,48.9ZM75.7,45.0 78.2,6.2 78.5,20.2 79.3,23.1 79.6,32.9 79.3,58.6 78.7,48.6 77.1,41.6 75.8,47.5ZM79.7,34.8 81.4,45.0 82.6,49.9 83.5,45.0 84.4,37.7 84.5,61.1 84.3,77.7 84.1,87.4 84.0,90.8 81.2,82.5 80.3,61.1 79.6,48.9ZM86.6,45.0 89.2,5.7 89.5,20.0 90.2,22.9 90.5,32.7 90.3,58.7 89.6,48.6 88.1,41.6 86.8,47.5ZM90.7,34.7 92.3,45.0 93.5,49.9 94.4,45.0 95.4,37.6 95.5,61.3 95.3,78.0 95.1,87.8 94.9,91.3 92.1,82.8 91.2,61.2 90.6,49.0ZM97.6,45.0 100.1,5.4 100.4,19.7 101.2,22.7 101.5,32.6 101.2,58.9 100.6,48.6 99.0,41.5 97.7,47.5ZM101.6,34.6 103.3,45.0 104.5,50.0 105.4,45.0 106.3,37.5 106.4,61.4 106.2,78.3 106.0,88.2 105.9,91.7 103.1,83.2 102.2,61.3 101.5,49.0ZM108.5,45.0 111.1,5.0 111.4,19.5 112.1,22.5 112.4,32.5 112.2,59.0 111.5,48.6 110.0,41.5 108.7,47.5ZM112.6,34.5 114.2,45.0 115.4,50.0 116.3,45.0 117.3,37.5 117.4,61.5 117.2,78.6 117.0,88.6 116.8,92.1 114.0,83.5 113.1,61.5 112.5,49.0ZM119.5,45.0 122.0,4.6 122.3,19.2 123.1,22.3 123.4,32.4 123.1,59.1 122.5,48.7 120.9,41.5 119.6,47.5ZM123.6,34.4 125.2,45.0 126.4,50.0 127.3,45.0 128.2,37.4 128.3,61.7 128.1,78.8 127.9,88.9 127.8,92.5 125.0,83.8 124.1,61.6 123.4,49.0ZM130.4,45.0 133.0,4.3 133.3,19.0 134.0,22.1 134.3,32.2 134.1,59.2 133.4,48.7 131.9,41.4 130.6,47.5ZM134.5,34.3 136.1,45.0 137.3,50.1 137.8,45.0 137.8,37.3 137.8,61.8 137.8,79.1 137.8,89.2 137.8,92.8 135.9,84.1 135.0,61.7 134.4,49.0Z" fill="#1f6cb8" fill-opacity="0.16"/>
<path d="M2.9,49.1 3.0,66.8 3.4,72.5 4.0,78.2 7.3,86.4M7.9,50.9 8.1,69.4 8.4,68.1 8.8,53.1 9.2,42.1M0.0,66.4 0.0,48.3 0.5,42.2M7.4,50.9 8.3,24.7 9.1,16.9 10.1,44.3M13.8,49.2 13.9,67.4 14.4,73.3 14.9,79.1 18.3,87.4M18.8,51.0 19.1,69.9 19.3,68.6 19.7,53.3 20.2,42.0M8.5,67.2 9.3,48.4 11.4,42.1M18.3,51.0 19.2,24.1 20.1,16.2 21.1,44.2M24.8,49.2 24.9,67.9 25.3,73.8 25.9,79.7 29.2,88.1M29.8,51.1 30.0,70.3 30.3,69.0 30.7,53.4 31.1,41.9M19.4,67.7 20.3,48.4 22.4,42.0M29.3,51.1 30.2,23.7 31.0,15.7 32.0,44.2M35.7,49.3 35.8,68.2 36.3,74.2 36.8,80.3 40.2,88.8M40.7,51.1 41.0,70.7 41.2,69.3 41.6,53.5 42.1,41.8M30.4,68.0 31.2,48.5 33.3,41.9M40.2,51.1 41.1,23.4 42.0,15.2 43.0,44.2M46.7,49.3 46.8,68.5 47.2,74.6 47.8,80.7 51.1,89.3M51.7,51.2 51.9,71.0 52.2,69.6 52.6,53.6 53.0,41.8M41.3,68.4 42.2,48.5 44.3,41.8M51.2,51.2 52.1,23.1 52.9,14.8 53.9,44.1M57.6,49.3 57.7,68.8 58.2,75.0 58.7,81.2 62.1,89.9M62.6,51.3 62.9,71.3 63.1,69.9 63.5,53.7 64.0,41.7M52.3,68.7 53.1,48.5 55.2,41.8M62.1,51.3 63.0,22.8 63.9,14.4 64.9,44.1M68.6,49.4 68.7,69.1 69.1,75.3 69.7,81.6 73.0,90.4M73.6,51.3 73.8,71.6 74.1,70.1 74.5,53.7 74.9,41.7M63.2,68.9 64.1,48.6 66.2,41.7M73.1,51.3 74.0,22.5 74.8,14.0 75.8,44.1M79.5,49.4 79.6,69.3 80.1,75.6 80.6,81.9 84.0,90.8M84.5,51.4 84.8,71.8 85.0,70.4 85.4,53.8 85.9,41.6M74.2,69.2 75.0,48.6 77.1,41.6M84.0,51.4 84.9,22.3 85.8,13.7 86.8,44.1M90.5,49.4 90.6,69.5 91.0,75.9 91.6,82.3 94.9,91.3M95.5,51.4 95.7,72.1 96.0,70.6 96.4,53.9 96.8,41.6M85.1,69.4 86.0,48.6 88.1,41.6M95.0,51.4 95.9,22.1 96.7,13.4 97.7,44.0M101.4,49.5 101.5,69.8 102.0,76.2 102.5,82.6 105.9,91.7M106.4,51.5 106.7,72.3 106.9,70.8 107.3,54.0 107.8,41.5M96.1,69.6 96.9,48.6 99.0,41.5M105.9,51.5 106.9,21.8 107.7,13.1 108.7,44.0M112.4,49.5 112.5,70.0 112.9,76.5 113.5,83.0 116.8,92.1M117.4,51.5 117.6,72.6 117.9,71.1 118.3,54.0 118.7,41.5M107.0,69.9 107.9,48.6 110.0,41.5M116.9,51.5 117.8,21.6 118.6,12.8 119.6,44.0M123.3,49.5 123.4,70.2 123.9,76.7 124.4,83.3 127.8,92.5M128.3,51.6 128.6,72.8 128.8,71.3 129.2,54.1 129.7,41.4M118.0,70.1 118.8,48.7 120.9,41.5M127.8,51.6 128.8,21.4 129.6,12.5 130.6,44.0M134.3,49.5 134.4,70.4 134.8,77.0 135.4,83.6 137.8,92.8M128.9,70.3 129.8,48.7 131.9,41.4" fill="none" stroke="#1f6cb8" stroke-opacity="0.36" stroke-width="0.75" stroke-linejoin="round"/>
<path d="M0.0,51.6 0.0,44.4 0.0,22.7 0.4,12.7 1.1,44.3 1.2,50.4M9.9,51.8 10.1,44.3 10.8,21.6 11.3,11.4 12.1,44.3 12.2,50.5M20.8,51.9 21.1,44.2 21.7,21.1 22.3,10.6 23.0,44.2 23.1,50.6M31.8,52.0 32.0,44.2 32.7,20.7 33.2,10.0 34.0,44.2 34.1,50.6M42.7,52.1 43.0,44.2 43.6,20.3 44.2,9.5 44.9,44.2 45.0,50.7M53.7,52.2 53.9,44.1 54.6,19.9 55.1,9.0 55.9,44.1 56.0,50.8M64.6,52.2 64.9,44.1 65.5,19.6 66.1,8.6 66.8,44.1 66.9,50.8M75.6,52.3 75.8,44.1 76.5,19.3 77.0,8.1 77.8,44.1 77.9,50.9M86.5,52.4 86.8,44.1 87.4,19.0 88.0,7.8 88.7,44.0 88.8,50.9M97.5,52.4 97.7,44.0 98.4,18.8 98.9,7.4 99.7,44.0 99.8,50.9M108.4,52.5 108.7,44.0 109.3,18.5 109.9,7.0 110.6,44.0 110.7,51.0M119.4,52.5 119.6,44.0 120.3,18.3 120.8,6.7 121.6,44.0 121.7,51.0M130.3,52.6 130.6,44.0 131.2,18.0 131.8,6.3 132.5,44.0 132.6,51.1" fill="none" stroke="#1f6cb8" stroke-opacity="0.62" stroke-width="0.75" stroke-linejoin="round"/>
<path d="M1.0,50.4 1.1,44.3 1.6,10.7 1.9,23.2 2.6,25.7 2.9,49.1 3.6,59.5 4.5,78.7 5.3,48.7 5.4,42.6M2.7,26.6 3.0,34.3 4.7,45.2 5.9,49.6M5.6,43.9 5.7,50.0 6.9,85.1 7.3,86.4 7.5,83.4 7.7,74.6 7.9,50.9 8.0,39.4M12.0,50.5 12.1,44.3 12.5,9.5 12.8,22.4 13.6,25.1 13.8,49.2 14.6,59.9 15.5,79.6 16.2,48.7 16.3,42.5M13.6,26.0 13.9,34.0 15.7,45.2 16.9,49.6M16.6,43.8 16.7,50.1 17.9,86.0 18.3,87.4 18.4,84.3 18.6,75.3 18.8,51.0 18.9,39.3M22.9,50.6 23.0,44.2 23.5,8.7 23.8,21.9 24.5,24.6 24.8,49.2 25.5,60.1 26.4,80.2 27.2,48.8 27.3,42.4M24.6,25.5 24.9,33.7 26.6,45.1 27.8,49.7M27.5,43.8 27.6,50.2 28.8,86.7 29.2,88.1 29.4,84.9 29.6,75.8 29.8,51.1 29.9,39.1M33.9,50.6 34.0,44.2 34.4,8.1 34.7,21.5 35.5,24.3 35.7,49.3 36.5,60.4 37.4,80.8 38.1,48.8 38.2,42.3M35.5,25.2 35.8,33.5 37.6,45.1 38.8,49.7M38.5,43.7 38.6,50.2 39.8,87.4 40.2,88.8 40.3,85.5 40.5,76.2 40.7,51.1 40.8,39.0M44.8,50.7 44.9,44.2 45.4,7.6 45.7,21.2 46.4,24.0 46.7,49.3 47.4,60.6 48.3,81.2 49.1,48.8 49.2,42.3M46.5,24.9 46.8,33.3 48.5,45.1 49.7,49.8M49.4,43.7 49.5,50.3 50.7,87.9 51.1,89.3 51.3,86.1 51.5,76.6 51.7,51.2 51.8,38.9M55.8,50.8 55.9,44.1 56.3,7.1 56.6,20.8 57.4,23.7 57.6,49.3 58.4,60.7 59.3,81.7 60.0,48.9 60.1,42.2M57.4,24.6 57.7,33.2 59.5,45.1 60.7,49.8M60.4,43.6 60.5,50.3 61.7,88.4 62.1,89.9 62.2,86.5 62.4,77.0 62.6,51.3 62.7,38.8M66.7,50.8 66.8,44.1 67.3,6.6 67.6,20.5 68.3,23.4 68.6,49.4 69.3,60.9 70.2,82.1 71.0,48.9 71.1,42.2M68.4,24.4 68.7,33.0 70.4,45.1 71.6,49.9M71.3,43.6 71.4,50.4 72.6,88.9 73.0,90.4 73.2,87.0 73.4,77.4 73.6,51.3 73.7,38.8M77.7,50.9 77.8,44.1 78.2,6.2 78.5,20.2 79.3,23.1 79.5,49.4 80.3,61.1 81.2,82.5 81.9,48.9 82.0,42.1M79.3,24.1 79.6,32.9 81.4,45.0 82.6,49.9M82.3,43.6 82.4,50.4 83.6,89.3 84.0,90.8 84.1,87.4 84.3,77.7 84.5,51.4 84.6,38.7M88.6,50.9 88.7,44.0 89.2,5.7 89.5,20.0 90.2,22.9 90.5,49.4 91.2,61.2 92.1,82.8 92.9,49.0 93.0,42.1M90.3,23.9 90.6,32.7 92.3,45.0 93.5,49.9M93.2,43.5 93.3,50.4 94.5,89.8 94.9,91.3 95.1,87.8 95.3,78.0 95.5,51.4 95.6,38.6M99.6,50.9 99.7,44.0 100.1,5.4 100.4,19.7 101.2,22.7 101.4,49.5 102.2,61.3 103.1,83.2 103.8,49.0 103.9,42.0M101.2,23.7 101.5,32.6 103.3,45.0 104.5,50.0M104.2,43.5 104.3,50.5 105.5,90.2 105.9,91.7 106.0,88.2 106.2,78.3 106.4,51.5 106.5,38.5M110.5,51.0 110.6,44.0 111.1,5.0 111.4,19.5 112.1,22.5 112.4,49.5 113.1,61.5 114.0,83.5 114.8,49.0 114.9,42.0M112.2,23.5 112.5,32.5 114.2,45.0 115.4,50.0M115.1,43.5 115.2,50.5 116.4,90.6 116.8,92.1 117.0,88.6 117.2,78.6 117.4,51.5 117.5,38.5M121.5,51.0 121.6,44.0 122.0,4.6 122.3,19.2 123.1,22.3 123.3,49.5 124.1,61.6 125.0,83.8 125.7,49.0 125.8,41.9M123.1,23.3 123.4,32.4 125.2,45.0 126.4,50.0M126.1,43.5 126.2,50.5 127.4,90.9 127.8,92.5 127.9,88.9 128.1,78.8 128.3,51.6 128.4,38.4M132.4,51.1 132.5,44.0 133.0,4.3 133.3,19.0 134.0,22.1 134.3,49.5 135.0,61.7 135.9,84.1 136.7,49.0 136.8,41.9M134.1,23.1 134.4,32.2 136.1,45.0 137.3,50.1M137.0,43.4 137.1,50.6 137.8,91.3 137.8,92.8 137.8,89.2 137.8,79.1 137.8,51.6 137.8,38.3" fill="none" stroke="#1f6cb8" stroke-opacity="1.0" stroke-width="0.75" stroke-linejoin="round"/>
<path d="" fill="none" stroke="#1f6cb8" stroke-opacity="0.7" stroke-width="0.75" stroke-linejoin="round"/>
</g>
<g filter="url(#bl)">
<path d="M1.6,10.7 1.9,23.2 2.6,25.7 3.0,34.3 4.7,45.2 5.9,49.4 5.9,49.4 6.8,45.6 8.0,43.6 8.3,43.3 8.4,42.9 10.3,46.5 12.5,46.5 12.8,46.5 13.6,46.5 13.9,46.5 15.7,46.5 16.9,46.5 16.9,46.5 17.8,46.5 19.0,46.5 19.2,46.5 19.3,46.5 21.3,46.5 23.5,46.5 23.8,46.5 24.5,46.5 24.9,46.5 26.6,46.5 27.8,46.5 27.8,46.5 28.7,46.5 29.9,46.5 30.2,46.5 30.3,46.5 32.2,46.5 34.4,46.5 34.7,46.5 35.5,46.5 35.8,46.5 37.6,46.5 38.8,46.5 38.8,46.5 39.7,46.5 40.9,46.5 41.1,46.5 41.2,46.5 43.2,46.5 45.4,46.5 45.7,46.5 46.4,46.5 46.8,46.5 48.5,46.5 49.7,46.5 49.7,46.5 50.6,46.5 51.8,46.5 52.1,46.5 52.2,46.5 54.1,46.5 56.3,46.5 56.6,46.5 57.4,46.5 57.7,46.5 59.5,46.5 60.7,46.5 60.7,46.5 61.6,46.5 62.8,46.5 63.0,46.5 63.1,46.5 65.1,46.5 67.3,46.5 67.6,46.5 68.3,46.5 68.7,46.5 70.4,46.5 71.6,46.5 71.6,46.5 72.5,46.5 73.7,46.5 74.0,46.5 74.1,46.5 76.0,46.5 78.2,46.5 78.5,46.5 79.3,46.5 79.6,46.5 81.4,46.5 82.6,46.5 82.6,46.5 83.5,46.5 84.7,46.5 84.9,46.5 85.0,46.5 87.0,46.5 89.2,46.5 89.5,46.5 90.2,46.5 90.6,46.5 92.3,46.5 93.5,46.5 93.5,46.5 94.4,46.5 95.6,46.5 95.9,46.5 96.0,46.5 97.9,46.5 100.1,46.5 100.4,46.5 101.2,46.5 101.5,46.5 103.3,46.5 104.5,46.5 104.5,46.5 105.4,46.5 106.6,46.5 106.9,46.5 106.9,46.5 108.9,46.5 111.1,46.5 111.4,46.5 112.1,46.5 112.5,46.5 114.2,46.5 115.4,46.5 115.4,46.5 116.3,46.5 117.5,46.5 117.8,46.5 117.9,46.5 119.8,46.5 122.0,46.5 122.3,46.5 123.1,46.5 123.4,46.5 125.2,46.3 126.4,47.5 126.4,47.5 127.3,45.9 128.5,37.4 128.8,29.2 128.8,24.6 130.8,9.6 133.0,4.3 133.3,19.0 134.0,22.1 134.4,32.2 136.1,45.0 137.3,50.1 137.3,50.1 137.8,45.0 L137.3,85.2 137.3,89.2 135.4,83.6 134.8,77.0 134.3,70.4 133.4,48.7 131.9,41.4 129.8,48.3 128.9,63.5 128.8,63.8 128.5,63.9 128.2,66.8 127.9,69.5 127.8,70.1 126.4,56.9 126.4,58.0 124.4,47.6 123.9,46.6 123.3,46.5 122.5,46.5 120.9,46.5 118.8,46.5 118.0,46.5 117.9,46.5 117.6,46.5 117.3,46.5 117.0,46.5 116.8,46.5 115.4,46.5 115.4,46.5 113.5,46.5 112.9,46.5 112.4,46.5 111.5,46.5 110.0,46.5 107.9,46.5 107.0,46.5 106.9,46.5 106.6,46.5 106.3,46.5 106.0,46.5 105.9,46.5 104.5,46.5 104.5,46.5 102.5,46.5 102.0,46.5 101.4,46.5 100.6,46.5 99.0,46.5 96.9,46.5 96.1,46.5 96.0,46.5 95.7,46.5 95.4,46.5 95.1,46.5 94.9,46.5 93.5,46.5 93.5,46.5 91.6,46.5 91.0,46.5 90.5,46.5 89.6,46.5 88.1,46.5 86.0,46.5 85.1,46.5 85.0,46.5 84.7,46.5 84.4,46.5 84.1,46.5 84.0,46.5 82.6,46.5 82.6,46.5 80.6,46.5 80.1,46.5 79.5,46.5 78.7,46.5 77.1,46.5 75.0,46.5 74.2,46.5 74.1,46.5 73.8,46.5 73.5,46.5 73.2,46.5 73.0,46.5 71.6,46.5 71.6,46.5 69.7,46.5 69.1,46.5 68.6,46.5 67.7,46.5 66.2,46.5 64.1,46.5 63.2,46.5 63.1,46.5 62.8,46.5 62.5,46.5 62.2,46.5 62.1,46.5 60.7,46.5 60.7,46.5 58.7,46.5 58.2,46.5 57.6,46.5 56.8,46.5 55.2,46.5 53.1,46.5 52.3,46.5 52.2,46.5 51.9,46.5 51.6,46.5 51.3,46.5 51.1,46.5 49.7,46.5 49.7,46.5 47.8,46.5 47.2,46.5 46.7,46.5 45.8,46.5 44.3,46.5 42.2,46.5 41.3,46.5 41.2,46.5 40.9,46.5 40.6,46.5 40.3,46.5 40.2,46.5 38.8,46.5 38.8,46.5 36.8,46.5 36.3,46.5 35.7,46.5 34.9,46.5 33.3,46.5 31.2,46.5 30.4,46.5 30.3,46.5 30.0,46.5 29.6,46.5 29.4,46.5 29.2,46.5 27.8,46.5 27.8,46.5 25.9,46.5 25.3,46.5 24.8,46.5 23.9,46.5 22.4,46.5 20.3,46.5 19.4,46.5 19.3,46.5 19.0,46.5 18.7,46.5 18.4,46.5 18.3,46.5 16.9,46.5 16.9,46.5 14.9,46.5 14.4,46.5 13.8,46.5 13.0,46.5 11.4,46.5 9.3,46.5 8.5,48.6 8.4,49.3 8.1,51.6 7.7,56.6 7.5,63.0 7.3,67.1 5.9,78.5 5.9,81.8 4.0,78.2 3.4,72.5 2.9,66.8 2.0,48.4 0.5,42.2Z" fill="#D95C33" fill-opacity="0.13"/>
<path d="M0.0,45.2 1.6,10.7 1.9,23.2 2.6,25.7 2.9,34.4 2.7,57.3 2.0,48.4 0.5,42.2 0.0,47.3ZM3.1,36.1 4.7,45.2 5.9,49.4 6.8,45.6 7.7,43.8 7.9,50.4 7.7,56.6 7.5,63.0 7.3,67.1 4.5,78.7 3.6,59.5 3.0,48.7ZM10.0,46.5 12.5,46.5 12.8,46.5 13.6,46.5 13.9,46.5 13.6,46.5 13.0,46.5 11.4,46.5 10.1,46.5ZM14.0,46.5 15.7,46.5 16.9,46.5 17.8,46.5 18.7,46.5 18.8,46.5 18.6,46.5 18.4,46.5 18.3,46.5 15.5,46.5 14.6,46.5 13.9,46.5ZM20.9,46.5 23.5,46.5 23.8,46.5 24.5,46.5 24.8,46.5 24.6,46.5 23.9,46.5 22.4,46.5 21.1,46.5ZM25.0,46.5 26.6,46.5 27.8,46.5 28.7,46.5 29.6,46.5 29.8,46.5 29.6,46.5 29.4,46.5 29.2,46.5 26.4,46.5 25.5,46.5 24.9,46.5ZM31.9,46.5 34.4,46.5 34.7,46.5 35.5,46.5 35.8,46.5 35.5,46.5 34.9,46.5 33.3,46.5 32.0,46.5ZM35.9,46.5 37.6,46.5 38.8,46.5 39.7,46.5 40.6,46.5 40.7,46.5 40.5,46.5 40.3,46.5 40.2,46.5 37.4,46.5 36.5,46.5 35.8,46.5ZM42.8,46.5 45.4,46.5 45.7,46.5 46.4,46.5 46.7,46.5 46.5,46.5 45.8,46.5 44.3,46.5 43.0,46.5ZM46.9,46.5 48.5,46.5 49.7,46.5 50.6,46.5 51.6,46.5 51.7,46.5 51.5,46.5 51.3,46.5 51.1,46.5 48.3,46.5 47.4,46.5 46.8,46.5ZM53.8,46.5 56.3,46.5 56.6,46.5 57.4,46.5 57.7,46.5 57.4,46.5 56.8,46.5 55.2,46.5 53.9,46.5ZM57.8,46.5 59.5,46.5 60.7,46.5 61.6,46.5 62.5,46.5 62.6,46.5 62.4,46.5 62.2,46.5 62.1,46.5 59.3,46.5 58.4,46.5 57.7,46.5ZM64.7,46.5 67.3,46.5 67.6,46.5 68.3,46.5 68.6,46.5 68.4,46.5 67.7,46.5 66.2,46.5 64.9,46.5ZM68.8,46.5 70.4,46.5 71.6,46.5 72.5,46.5 73.5,46.5 73.6,46.5 73.4,46.5 73.2,46.5 73.0,46.5 70.2,46.5 69.3,46.5 68.7,46.5ZM75.7,46.5 78.2,46.5 78.5,46.5 79.3,46.5 79.6,46.5 79.3,46.5 78.7,46.5 77.1,46.5 75.8,46.5ZM79.7,46.5 81.4,46.5 82.6,46.5 83.5,46.5 84.4,46.5 84.5,46.5 84.3,46.5 84.1,46.5 84.0,46.5 81.2,46.5 80.3,46.5 79.6,46.5ZM86.6,46.5 89.2,46.5 89.5,46.5 90.2,46.5 90.5,46.5 90.3,46.5 89.6,46.5 88.1,46.5 86.8,46.5ZM90.7,46.5 92.3,46.5 93.5,46.5 94.4,46.5 95.4,46.5 95.5,46.5 95.3,46.5 95.1,46.5 94.9,46.5 92.1,46.5 91.2,46.5 90.6,46.5ZM97.6,46.5 100.1,46.5 100.4,46.5 101.2,46.5 101.5,46.5 101.2,46.5 100.6,46.5 99.0,46.5 97.7,46.5ZM101.6,46.5 103.3,46.5 104.5,46.5 105.4,46.5 106.3,46.5 106.4,46.5 106.2,46.5 106.0,46.5 105.9,46.5 103.1,46.5 102.2,46.5 101.5,46.5ZM108.5,46.5 111.1,46.5 111.4,46.5 112.1,46.5 112.4,46.5 112.2,46.5 111.5,46.5 110.0,46.5 108.7,46.5ZM112.6,46.5 114.2,46.5 115.4,46.5 116.3,46.5 117.3,46.5 117.4,46.5 117.2,46.5 117.0,46.5 116.8,46.5 114.0,46.5 113.1,46.5 112.5,46.5ZM119.5,46.5 122.0,46.5 122.3,46.5 123.1,46.5 123.4,46.5 123.1,46.5 122.5,46.5 120.9,46.5 119.6,46.5ZM123.6,46.5 125.2,46.3 126.4,47.5 127.3,45.9 128.2,41.1 128.3,55.8 128.1,65.3 127.9,69.5 127.8,70.1 125.0,49.4 124.1,46.7 123.4,46.5ZM130.4,45.1 133.0,4.3 133.3,19.0 134.0,22.1 134.3,32.2 134.1,59.2 133.4,48.7 131.9,41.4 130.6,47.4ZM134.5,34.3 136.1,45.0 137.3,50.1 137.8,45.0 137.8,37.3 137.8,61.8 137.8,79.1 137.8,89.2 137.8,92.8 135.9,84.1 135.0,61.7 134.4,49.0Z" fill="#D95C33" fill-opacity="0.19"/>
<path d="M2.9,49.1 3.0,66.8 3.4,72.5 4.0,78.2 7.3,67.1M7.9,47.8 8.1,51.1 8.4,49.3 8.8,46.7 9.2,46.5M0.0,66.4 0.0,48.3 0.5,42.2M7.4,48.7 8.3,43.3 9.1,46.5 10.1,46.5M13.8,46.5 13.9,46.5 14.4,46.5 14.9,46.5 18.3,46.5M18.8,46.5 19.1,46.5 19.3,46.5 19.7,46.5 20.2,46.5M8.5,48.6 9.3,46.5 11.4,46.5M18.3,46.5 19.2,46.5 20.1,46.5 21.1,46.5M24.8,46.5 24.9,46.5 25.3,46.5 25.9,46.5 29.2,46.5M29.8,46.5 30.0,46.5 30.3,46.5 30.7,46.5 31.1,46.5M19.4,46.5 20.3,46.5 22.4,46.5M29.3,46.5 30.2,46.5 31.0,46.5 32.0,46.5M35.7,46.5 35.8,46.5 36.3,46.5 36.8,46.5 40.2,46.5M40.7,46.5 41.0,46.5 41.2,46.5 41.6,46.5 42.1,46.5M30.4,46.5 31.2,46.5 33.3,46.5M40.2,46.5 41.1,46.5 42.0,46.5 43.0,46.5M46.7,46.5 46.8,46.5 47.2,46.5 47.8,46.5 51.1,46.5M51.7,46.5 51.9,46.5 52.2,46.5 52.6,46.5 53.0,46.5M41.3,46.5 42.2,46.5 44.3,46.5M51.2,46.5 52.1,46.5 52.9,46.5 53.9,46.5M57.6,46.5 57.7,46.5 58.2,46.5 58.7,46.5 62.1,46.5M62.6,46.5 62.9,46.5 63.1,46.5 63.5,46.5 64.0,46.5M52.3,46.5 53.1,46.5 55.2,46.5M62.1,46.5 63.0,46.5 63.9,46.5 64.9,46.5M68.6,46.5 68.7,46.5 69.1,46.5 69.7,46.5 73.0,46.5M73.6,46.5 73.8,46.5 74.1,46.5 74.5,46.5 74.9,46.5M63.2,46.5 64.1,46.5 66.2,46.5M73.1,46.5 74.0,46.5 74.8,46.5 75.8,46.5M79.5,46.5 79.6,46.5 80.1,46.5 80.6,46.5 84.0,46.5M84.5,46.5 84.8,46.5 85.0,46.5 85.4,46.5 85.9,46.5M74.2,46.5 75.0,46.5 77.1,46.5M84.0,46.5 84.9,46.5 85.8,46.5 86.8,46.5M90.5,46.5 90.6,46.5 91.0,46.5 91.6,46.5 94.9,46.5M95.5,46.5 95.7,46.5 96.0,46.5 96.4,46.5 96.8,46.5M85.1,46.5 86.0,46.5 88.1,46.5M95.0,46.5 95.9,46.5 96.7,46.5 97.7,46.5M101.4,46.5 101.5,46.5 102.0,46.5 102.5,46.5 105.9,46.5M106.4,46.5 106.7,46.5 106.9,46.5 107.3,46.5 107.8,46.5M96.1,46.5 96.9,46.5 99.0,46.5M105.9,46.5 106.9,46.5 107.7,46.5 108.7,46.5M112.4,46.5 112.5,46.5 112.9,46.5 113.5,46.5 116.8,46.5M117.4,46.5 117.6,46.5 117.9,46.5 118.3,46.5 118.7,46.5M107.0,46.5 107.9,46.5 110.0,46.5M116.9,46.5 117.8,46.5 118.6,46.5 119.6,46.5M123.3,46.5 123.4,46.5 123.9,46.6 124.4,47.6 127.8,70.1M128.3,49.6 128.6,63.8 128.8,63.8 129.2,52.3 129.7,42.3M118.0,46.5 118.8,46.5 120.9,46.5M127.8,49.1 128.8,29.2 129.6,18.7 130.6,44.1M134.3,49.5 134.4,70.4 134.8,77.0 135.4,83.6 137.8,92.8M128.9,63.5 129.8,48.3 131.9,41.4" fill="none" stroke="#D95C33" stroke-opacity="0.43" stroke-width="0.90" stroke-linejoin="round"/>
<path d="M0.0,51.6 0.0,44.4 0.0,22.7 0.4,12.7 1.1,44.3 1.2,50.4M9.9,46.5 10.1,46.5 10.8,46.5 11.3,46.5 12.1,46.5 12.2,46.5M20.8,46.5 21.1,46.5 21.7,46.5 22.3,46.5 23.0,46.5 23.1,46.5M31.8,46.5 32.0,46.5 32.7,46.5 33.2,46.5 34.0,46.5 34.1,46.5M42.7,46.5 43.0,46.5 43.6,46.5 44.2,46.5 44.9,46.5 45.0,46.5M53.7,46.5 53.9,46.5 54.6,46.5 55.1,46.5 55.9,46.5 56.0,46.5M64.6,46.5 64.9,46.5 65.5,46.5 66.1,46.5 66.8,46.5 66.9,46.5M75.6,46.5 75.8,46.5 76.5,46.5 77.0,46.5 77.8,46.5 77.9,46.5M86.5,46.5 86.8,46.5 87.4,46.5 88.0,46.5 88.7,46.5 88.8,46.5M97.5,46.5 97.7,46.5 98.4,46.5 98.9,46.5 99.7,46.5 99.8,46.5M108.4,46.5 108.7,46.5 109.3,46.5 109.9,46.5 110.6,46.5 110.7,46.5M119.4,46.5 119.6,46.5 120.3,46.5 120.8,46.5 121.6,46.5 121.7,46.5M130.3,52.1 130.6,44.1 131.2,18.5 131.8,6.4 132.5,44.0 132.6,51.1" fill="none" stroke="#D95C33" stroke-opacity="0.74" stroke-width="0.90" stroke-linejoin="round"/>
<path d="M1.0,50.4 1.1,44.3 1.6,10.7 1.9,23.2 2.6,25.7 2.9,49.1 3.6,59.5 4.5,78.7 5.3,48.7 5.4,42.6M2.7,26.6 3.0,34.3 4.7,45.2 5.9,49.4M5.6,43.9 5.7,50.0 6.9,72.3 7.3,67.1 7.5,63.0 7.7,56.6 7.9,47.8 8.0,44.7M12.0,46.5 12.1,46.5 12.5,46.5 12.8,46.5 13.6,46.5 13.8,46.5 14.6,46.5 15.5,46.5 16.2,46.5 16.3,46.5M13.6,46.5 13.9,46.5 15.7,46.5 16.9,46.5M16.6,46.5 16.7,46.5 17.9,46.5 18.3,46.5 18.4,46.5 18.6,46.5 18.8,46.5 18.9,46.5M22.9,46.5 23.0,46.5 23.5,46.5 23.8,46.5 24.5,46.5 24.8,46.5 25.5,46.5 26.4,46.5 27.2,46.5 27.3,46.5M24.6,46.5 24.9,46.5 26.6,46.5 27.8,46.5M27.5,46.5 27.6,46.5 28.8,46.5 29.2,46.5 29.4,46.5 29.6,46.5 29.8,46.5 29.9,46.5M33.9,46.5 34.0,46.5 34.4,46.5 34.7,46.5 35.5,46.5 35.7,46.5 36.5,46.5 37.4,46.5 38.1,46.5 38.2,46.5M35.5,46.5 35.8,46.5 37.6,46.5 38.8,46.5M38.5,46.5 38.6,46.5 39.8,46.5 40.2,46.5 40.3,46.5 40.5,46.5 40.7,46.5 40.8,46.5M44.8,46.5 44.9,46.5 45.4,46.5 45.7,46.5 46.4,46.5 46.7,46.5 47.4,46.5 48.3,46.5 49.1,46.5 49.2,46.5M46.5,46.5 46.8,46.5 48.5,46.5 49.7,46.5M49.4,46.5 49.5,46.5 50.7,46.5 51.1,46.5 51.3,46.5 51.5,46.5 51.7,46.5 51.8,46.5M55.8,46.5 55.9,46.5 56.3,46.5 56.6,46.5 57.4,46.5 57.6,46.5 58.4,46.5 59.3,46.5 60.0,46.5 60.1,46.5M57.4,46.5 57.7,46.5 59.5,46.5 60.7,46.5M60.4,46.5 60.5,46.5 61.7,46.5 62.1,46.5 62.2,46.5 62.4,46.5 62.6,46.5 62.7,46.5M66.7,46.5 66.8,46.5 67.3,46.5 67.6,46.5 68.3,46.5 68.6,46.5 69.3,46.5 70.2,46.5 71.0,46.5 71.1,46.5M68.4,46.5 68.7,46.5 70.4,46.5 71.6,46.5M71.3,46.5 71.4,46.5 72.6,46.5 73.0,46.5 73.2,46.5 73.4,46.5 73.6,46.5 73.7,46.5M77.7,46.5 77.8,46.5 78.2,46.5 78.5,46.5 79.3,46.5 79.5,46.5 80.3,46.5 81.2,46.5 81.9,46.5 82.0,46.5M79.3,46.5 79.6,46.5 81.4,46.5 82.6,46.5M82.3,46.5 82.4,46.5 83.6,46.5 84.0,46.5 84.1,46.5 84.3,46.5 84.5,46.5 84.6,46.5M88.6,46.5 88.7,46.5 89.2,46.5 89.5,46.5 90.2,46.5 90.5,46.5 91.2,46.5 92.1,46.5 92.9,46.5 93.0,46.5M90.3,46.5 90.6,46.5 92.3,46.5 93.5,46.5M93.2,46.5 93.3,46.5 94.5,46.5 94.9,46.5 95.1,46.5 95.3,46.5 95.5,46.5 95.6,46.5M99.6,46.5 99.7,46.5 100.1,46.5 100.4,46.5 101.2,46.5 101.4,46.5 102.2,46.5 103.1,46.5 103.8,46.5 103.9,46.5M101.2,46.5 101.5,46.5 103.3,46.5 104.5,46.5M104.2,46.5 104.3,46.5 105.5,46.5 105.9,46.5 106.0,46.5 106.2,46.5 106.4,46.5 106.5,46.5M110.5,46.5 110.6,46.5 111.1,46.5 111.4,46.5 112.1,46.5 112.4,46.5 113.1,46.5 114.0,46.5 114.8,46.5 114.9,46.5M112.2,46.5 112.5,46.5 114.2,46.5 115.4,46.5M115.1,46.5 115.2,46.5 116.4,46.5 116.8,46.5 117.0,46.5 117.2,46.5 117.4,46.5 117.5,46.5M121.5,46.5 121.6,46.5 122.0,46.5 122.3,46.5 123.1,46.5 123.3,46.5 124.1,46.7 125.0,49.4 125.7,46.9 125.8,45.6M123.1,46.5 123.4,46.5 125.2,46.3 126.4,47.5M126.1,45.8 126.2,47.5 127.4,66.2 127.8,70.1 127.9,69.5 128.1,65.3 128.3,49.6 128.4,41.4M132.4,51.1 132.5,44.0 133.0,4.3 133.3,19.0 134.0,22.1 134.3,49.5 135.0,61.7 135.9,84.1 136.7,49.0 136.8,41.9M134.1,23.1 134.4,32.2 136.1,45.0 137.3,50.1M137.0,43.4 137.1,50.6 137.8,91.3 137.8,92.8 137.8,89.2 137.8,79.1 137.8,51.6 137.8,38.3" fill="none" stroke="#D95C33" stroke-opacity="1.0" stroke-width="0.90" stroke-linejoin="round"/>
<path d="" fill="none" stroke="#D95C33" stroke-opacity="0.7" stroke-width="0.90" stroke-linejoin="round"/>
</g>
<path d="M0.0,46.5 0.2,46.5 0.4,46.5 0.6,46.5 0.8,46.5 1.0,46.5 1.2,46.5 1.4,46.5 1.6,46.5 1.8,46.5 2.0,46.5 2.2,46.5 2.4,46.5 2.6,46.5 2.8,46.5 3.0,46.5 3.2,46.5 3.4,46.5 3.5,46.5 3.7,46.5 3.9,46.5 4.1,46.5 4.3,46.5 4.5,46.5 4.7,46.5 4.9,46.6 5.1,46.7 5.3,46.7 5.5,46.6 5.7,46.5 5.9,46.3 6.1,46.2 6.3,46.1 6.5,46.2 6.7,46.4 6.9,46.6 7.1,46.9 7.3,47.1 7.5,47.1 7.7,47.0 7.9,46.9 8.1,46.6 8.3,46.3 8.5,46.0 8.7,45.5 8.9,44.8 9.1,43.7 9.3,42.3 9.5,40.5 9.7,38.6 9.9,36.8 10.1,35.3 10.3,34.5 10.4,34.4 10.6,35.1 10.8,36.2 11.0,37.5 11.2,38.9 11.4,39.9 11.6,40.8 11.8,41.5 12.0,42.3 12.2,43.2 12.4,44.3 12.6,45.5 12.8,46.8 13.0,47.8 13.2,48.6 13.4,49.0 13.6,49.2 13.8,49.2 14.0,49.4 14.2,49.7 14.4,50.2 14.6,50.9 14.8,51.7 15.0,52.3 15.2,52.6 15.4,52.5 15.6,52.2 15.8,51.7 16.0,51.2 16.2,50.7 16.4,50.3 16.6,50.0 16.8,49.6 17.0,49.1 17.2,48.3 17.3,47.4 17.5,46.5 17.7,45.8 17.9,45.4 18.1,45.5 18.3,46.1 18.5,46.9 18.7,47.8 18.9,48.4 19.1,48.7 19.3,48.5 19.5,47.9 19.7,47.0 19.9,46.1 20.1,45.4 20.3,45.0 20.5,44.9 20.7,44.9 20.9,44.8 21.1,44.6 21.3,44.1 21.5,43.3 21.7,42.4 21.9,41.5 22.1,40.8 22.3,40.4 22.5,40.2 22.7,40.3 22.9,40.6 23.1,40.8 23.3,41.1 23.5,41.3 23.7,41.7 23.9,42.3 24.1,43.2 24.2,44.3 24.4,45.6 24.6,46.9 24.8,47.8 25.0,48.4 25.2,48.5 25.4,48.3 25.6,47.8 25.8,47.5 26.0,47.3 26.2,47.6 26.4,48.1 26.6,48.9 26.8,49.6 27.0,50.1 27.2,50.2 27.4,50.0 27.6,49.4 27.8,48.8 28.0,48.1 28.2,47.6 28.4,47.3 28.6,47.1 28.8,47.0 29.0,46.9 29.2,46.7 29.4,46.4 29.6,46.2 29.8,46.2 30.0,46.4 30.2,46.8 30.4,47.4 30.6,47.9 30.8,48.2 31.0,48.1 31.1,47.5 31.3,46.6 31.5,45.5 31.7,44.4 31.9,43.6 32.1,43.2 32.3,43.3 32.5,43.7 32.7,44.2 32.9,44.8 33.1,45.0 33.3,45.0 33.5,44.8 33.7,44.4 33.9,44.1 34.1,44.0 34.3,44.1 34.5,44.4 34.7,44.8 34.9,45.2 35.1,45.5 35.3,45.7 35.5,45.7 35.7,45.8 35.9,45.9 36.1,46.2 36.3,46.6 36.5,47.0 36.7,47.2 36.9,47.2 37.1,46.9 37.3,46.3 37.5,45.6 37.7,45.0 37.9,44.8 38.0,45.0 38.2,45.6 38.4,46.5 38.6,47.4 38.8,48.1 39.0,48.5 39.2,48.3 39.4,47.8 39.6,47.1 39.8,46.4 40.0,45.8 40.2,45.7 40.4,45.8 40.6,46.2 40.8,46.7 41.0,47.1 41.2,47.3 41.4,47.4 41.6,47.3 41.8,47.2 42.0,47.1 42.2,47.2 42.4,47.3 42.6,47.3 42.8,47.2 43.0,46.8 43.2,46.3 43.4,45.8 43.6,45.3 43.8,45.1 44.0,45.3 44.2,45.8 44.4,46.5 44.6,47.3 44.8,47.8 44.9,47.9 45.1,47.6 45.3,46.9 45.5,46.0 45.7,45.1 45.9,44.6 46.1,44.4 46.3,44.7 46.5,45.3 46.7,46.0 46.9,46.6 47.1,47.0 47.3,47.1 47.5,46.9 47.7,46.7 47.9,46.4 48.1,46.3 48.3,46.2 48.5,46.3 48.7,46.3 48.9,46.3 49.1,46.2 49.3,46.0 49.5,45.8 49.7,45.8 49.9,46.1 50.1,46.6 50.3,47.3 50.5,47.9 50.7,48.4 50.9,48.4 51.1,48.1 51.3,47.4 51.5,46.5 51.7,45.7 51.8,45.3 52.0,45.3 52.2,45.7 52.4,46.4 52.6,47.2 52.8,47.9 53.0,48.3 53.2,48.2 53.4,47.8 53.6,47.2 53.8,46.6 54.0,46.1 54.2,45.9 54.4,45.9 54.6,46.0 54.8,46.1 55.0,46.1 55.2,46.1 55.4,46.0 55.6,46.0 55.8,46.0 56.0,46.3 56.2,46.6 56.4,47.0 56.6,47.2 56.8,47.1 57.0,46.7 57.2,46.1 57.4,45.3 57.6,44.7 57.8,44.4 58.0,44.5 58.2,45.1 58.4,46.0 58.6,46.9 58.7,47.6 58.9,48.0 59.1,47.9 59.3,47.4 59.5,46.7 59.7,46.0 59.9,45.5 60.1,45.3 60.3,45.5 60.5,45.9 60.7,46.4 60.9,46.8 61.1,47.1 61.3,47.2 61.5,47.2 61.7,47.2 61.9,47.2 62.1,47.3 62.3,47.5 62.5,47.6 62.7,47.5 62.9,47.2 63.1,46.7 63.3,46.1 63.5,45.7 63.7,45.5 63.9,45.7 64.1,46.2 64.3,46.9 64.5,47.7 64.7,48.3 64.9,48.4 65.1,48.0 65.3,47.3 65.5,46.4 65.6,45.5 65.8,44.9 66.0,44.7 66.2,45.0 66.4,45.5 66.6,46.1 66.8,46.7 67.0,47.0 67.2,47.0 67.4,46.8 67.6,46.5 67.8,46.2 68.0,46.1 68.2,46.0 68.4,46.0 68.6,46.0 68.8,46.0 69.0,45.8 69.2,45.5 69.4,45.3 69.6,45.3 69.8,45.5 70.0,46.1 70.2,46.8 70.4,47.5 70.6,47.9 70.8,48.0 71.0,47.7 71.2,47.0 71.4,46.2 71.6,45.5 71.8,45.1 72.0,45.1 72.2,45.6 72.3,46.3 72.5,47.2 72.7,47.9 72.9,48.3 73.1,48.3 73.3,48.0 73.5,47.4 73.7,46.9 73.9,46.5 74.1,46.3 74.3,46.3 74.5,46.4 74.7,46.5 74.9,46.6 75.1,46.5 75.3,46.4 75.5,46.4 75.7,46.4 75.9,46.7 76.1,47.1 76.3,47.4 76.5,47.6 76.7,47.5 76.9,47.1 77.1,46.4 77.3,45.5 77.5,44.8 77.7,44.5 77.9,44.5 78.1,45.1 78.3,45.9 78.5,46.7 78.7,47.4 78.9,47.7 79.1,47.6 79.2,47.1 79.4,46.3 79.6,45.6 79.8,45.1 80.0,45.0 80.2,45.1 80.4,45.5 80.6,45.9 80.8,46.3 81.0,46.6 81.2,46.7 81.4,46.7 81.6,46.7 81.8,46.8 82.0,47.0 82.2,47.2 82.4,47.4 82.6,47.3 82.8,47.1 83.0,46.6 83.2,46.1 83.4,45.6 83.6,45.5 83.8,45.7 84.0,46.3 84.2,47.1 84.4,47.9 84.6,48.5 84.8,48.7 85.0,48.4 85.2,47.7 85.4,46.9 85.6,46.0 85.8,45.4 86.0,45.2 86.1,45.5 86.3,46.0 86.5,46.6 86.7,47.1 86.9,47.4 87.1,47.4 87.3,47.2 87.5,46.9 87.7,46.6 87.9,46.4 88.1,46.3 88.3,46.3 88.5,46.2 88.7,46.0 88.9,45.8 89.1,45.4 89.3,45.1 89.5,45.1 89.7,45.3 89.9,45.8 90.1,46.5 90.3,47.1 90.5,47.6 90.7,47.7 90.9,47.3 91.1,46.6 91.3,45.8 91.5,45.0 91.7,44.6 91.9,44.6 92.1,45.1 92.3,45.9 92.5,46.7 92.7,47.5 92.9,47.9 93.0,47.9 93.2,47.7 93.4,47.2 93.6,46.7 93.8,46.4 94.0,46.3 94.2,46.4 94.4,46.5 94.6,46.6 94.8,46.7 95.0,46.6 95.2,46.6 95.4,46.6 95.6,46.7 95.8,47.0 96.0,47.5 96.2,47.9 96.4,48.1 96.6,48.0 96.8,47.6 97.0,46.9 97.2,46.0 97.4,45.3 97.6,44.9 97.8,45.0 98.0,45.4 98.2,46.2 98.4,47.0 98.6,47.7 98.8,48.0 99.0,47.8 99.2,47.2 99.4,46.5 99.6,45.7 99.8,45.2 99.9,45.0 100.1,45.1 100.3,45.4 100.5,45.7 100.7,46.0 100.9,46.2 101.1,46.3 101.3,46.2 101.5,46.3 101.7,46.4 101.9,46.6 102.1,46.8 102.3,47.0 102.5,46.9 102.7,46.6 102.9,46.2 103.1,45.6 103.3,45.2 103.5,45.0 103.7,45.3 103.9,45.9 104.1,46.8 104.3,47.7 104.5,48.3 104.7,48.6 104.9,48.3 105.1,47.7 105.3,46.9 105.5,46.1 105.7,45.6 105.9,45.4 106.1,45.7 106.3,46.2 106.5,46.8 106.7,47.4 106.8,47.7 107.0,47.7 107.2,47.6 107.4,47.3 107.6,47.1 107.8,46.9 108.0,46.8 108.2,46.8 108.4,46.7 108.6,46.5 108.8,46.2 109.0,45.8 109.2,45.4 109.4,45.3 109.6,45.5 109.8,46.0 110.0,46.6 110.2,47.3 110.4,47.7 110.6,47.7 110.8,47.3 111.0,46.6 111.2,45.7 111.4,44.9 111.6,44.4 111.8,44.3 112.0,44.7 112.2,45.5 112.4,46.3 112.6,47.0 112.8,47.4 113.0,47.4 113.2,47.2 113.4,46.7 113.6,46.3 113.7,46.0 113.9,45.9 114.1,46.0 114.3,46.1 114.5,46.3 114.7,46.4 114.9,46.4 115.1,46.4 115.3,46.5 115.5,46.9 115.7,47.5 115.9,48.3 116.1,49.1 116.3,49.8 116.5,50.2 116.7,50.3 116.9,50.0 117.1,49.6 117.3,49.2 117.5,48.9 117.7,49.0 117.9,49.4 118.1,49.9 118.3,50.3 118.5,50.6 118.7,50.4 118.9,49.8 119.1,48.9 119.3,47.8 119.5,46.7 119.7,45.9 119.9,45.4 120.1,45.2 120.3,45.2 120.5,45.2 120.6,45.1 120.8,44.7 121.0,44.2 121.2,43.7 121.4,43.1 121.6,42.8 121.8,42.6 122.0,42.6 122.2,42.7 122.4,42.7 122.6,42.6 122.8,42.5 123.0,42.4 123.2,42.4 123.4,42.7 123.6,43.4 123.8,44.4 124.0,45.5 124.2,46.7 124.4,47.5 124.6,47.9 124.8,47.8 125.0,47.2 125.2,46.5 125.4,45.8 125.6,45.5 125.8,45.5 126.0,45.7 126.2,46.2 126.4,46.6 126.6,46.9 126.8,47.0 127.0,47.0 127.2,46.9 127.4,46.8 127.5,46.7 127.7,46.6 127.9,46.6 128.1,46.6 128.3,46.5 128.5,46.5 128.7,46.5 128.9,46.5 129.1,46.5 129.3,46.5 129.5,46.5 129.7,46.5 129.9,46.5 130.1,46.5 130.3,46.5 130.5,46.5 130.7,46.5 130.9,46.5 131.1,46.5 131.3,46.5 131.5,46.5 131.7,46.5 131.9,46.5 132.1,46.5 132.3,46.5 132.5,46.5 132.7,46.5 132.9,46.5 133.1,46.5 133.3,46.5 133.5,46.5 133.7,46.5 133.9,46.5 134.1,46.5 134.3,46.5 134.4,46.5 134.6,46.5 134.8,46.5 135.0,46.5 135.2,46.5 135.4,46.5 135.6,46.5 135.8,46.5 136.0,46.5 136.2,46.5 136.4,46.5 136.6,46.5 136.8,46.5 137.0,46.5 137.2,46.5 137.4,46.5 137.6,46.5 137.8,46.5" fill="none" stroke="#D95C33" stroke-width="0.6" stroke-opacity="0.9" stroke-linejoin="round" filter="url(#bl)"/>
</g>
<rect x="36.5" y="201.5" width="137.8" height="93.0" fill="none" stroke="#666" stroke-width="0.7"/>
<line x1="82.43" y1="294.5" x2="82.43" y2="293.0" stroke="#555" stroke-width="0.6"/>
<line x1="82.43" y1="201.5" x2="82.43" y2="203.0" stroke="#555" stroke-width="0.6"/>
<line x1="128.37" y1="294.5" x2="128.37" y2="293.0" stroke="#555" stroke-width="0.6"/>
<line x1="128.37" y1="201.5" x2="128.37" y2="203.0" stroke="#555" stroke-width="0.6"/>
<line x1="36.5" y1="224.75" x2="38.0" y2="224.75" stroke="#555" stroke-width="0.6"/>
<line x1="174.3" y1="224.75" x2="172.8" y2="224.75" stroke="#555" stroke-width="0.6"/>
<line x1="36.5" y1="248.00" x2="38.0" y2="248.00" stroke="#555" stroke-width="0.6"/>
<line x1="174.3" y1="248.00" x2="172.8" y2="248.00" stroke="#555" stroke-width="0.6"/>
<line x1="36.5" y1="271.25" x2="38.0" y2="271.25" stroke="#555" stroke-width="0.6"/>
<line x1="174.3" y1="271.25" x2="172.8" y2="271.25" stroke="#555" stroke-width="0.6"/>
<text class="t" x="36.8" y="308.7" text-anchor="middle">0</text>
<text class="t" x="82.7" y="308.7" text-anchor="middle">50</text>
<text class="t" x="128.7" y="308.7" text-anchor="middle">100</text>
<text class="t" x="174.6" y="308.7" text-anchor="middle">150</text>
<text class="t" x="33.5" y="205.2" text-anchor="end">10</text>
<text class="t" x="33.5" y="228.5" text-anchor="end">5</text>
<text class="t" x="33.5" y="251.8" text-anchor="end">0</text>
<text class="t" x="33.5" y="275.0" text-anchor="end">-5</text>
<text class="t" x="33.5" y="298.2" text-anchor="end">-10</text>
<text class="ax" x="105.7" y="322.7" text-anchor="middle">x</text>
<text class="ax" style="font-size:12px" transform="translate(13.8,248.8) rotate(-90)" text-anchor="middle">f<tspan font-style="normal">(</tspan>x<tspan font-style="normal">)</tspan></text>
<text class="c" x="106.2" y="336.9" text-anchor="middle">(d) PFF-DNN <tspan font-style="italic">N<tspan fill="#777">=</tspan>100</tspan></text>
<line x1="110.9" y1="182.0" x2="131.7" y2="182.0" stroke="#1f6cb8" stroke-width="2.4" stroke-opacity="0.38"/>
<line x1="110.9" y1="193.5" x2="131.7" y2="193.5" stroke="#D95C33" stroke-width="0.6" stroke-opacity="0.7"/>
<text x="134.9" y="185.4" font-size="10.0">Truth</text>
<text x="134.9" y="196.9" font-size="10.0">PFF-DNN</text>
</g>
<g>
<line x1="264.43" y1="201.5" x2="264.43" y2="294.5" stroke="#e6e6e6" stroke-width="0.5"/>
<line x1="310.37" y1="201.5" x2="310.37" y2="294.5" stroke="#e6e6e6" stroke-width="0.5"/>
<line x1="218.5" y1="224.75" x2="356.3" y2="224.75" stroke="#e6e6e6" stroke-width="0.5"/>
<line x1="218.5" y1="248.00" x2="356.3" y2="248.00" stroke="#e6e6e6" stroke-width="0.5"/>
<line x1="218.5" y1="271.25" x2="356.3" y2="271.25" stroke="#e6e6e6" stroke-width="0.5"/>
<g transform="translate(218.5,201.5)">
<g filter="url(#bl)">
<path d="M1.6,10.7 1.9,23.2 2.6,25.7 3.0,34.3 4.7,45.2 5.9,49.6 5.9,49.6 6.8,45.2 8.0,34.2 8.3,24.7 8.4,19.1 10.3,12.8 12.5,9.5 12.8,22.4 13.6,25.1 13.9,34.0 15.7,45.2 16.9,49.6 16.9,49.6 17.8,45.1 19.0,33.9 19.2,24.1 19.3,18.5 21.3,12.1 23.5,8.7 23.8,21.9 24.5,24.6 24.9,33.7 26.6,45.1 27.8,49.7 27.8,49.7 28.7,45.1 29.9,33.6 30.2,23.7 30.3,18.0 32.2,11.5 34.4,8.1 34.7,21.5 35.5,24.3 35.8,33.5 37.6,45.1 38.8,49.7 38.8,49.7 39.7,45.1 40.9,33.4 41.1,23.4 41.2,17.6 43.2,10.9 45.4,7.6 45.7,21.2 46.4,24.0 46.8,33.3 48.5,45.1 49.7,49.8 49.7,49.8 50.6,45.1 51.8,33.3 52.1,23.1 52.2,17.2 54.1,10.5 56.3,7.1 56.6,20.8 57.4,23.7 57.7,33.2 59.5,45.1 60.7,49.8 60.7,49.8 61.6,45.1 62.8,33.1 63.0,22.8 63.1,16.8 65.1,10.0 67.3,6.6 67.6,20.5 68.3,23.4 68.7,33.0 70.4,45.1 71.6,49.9 71.6,49.9 72.5,45.0 73.7,32.9 74.0,22.5 74.1,16.5 76.0,9.6 78.2,6.2 78.5,20.2 79.3,23.1 79.6,32.9 81.4,45.0 82.6,49.9 82.6,49.9 83.5,45.0 84.7,32.8 84.9,22.3 85.0,16.2 87.0,9.3 89.2,5.7 89.5,20.0 90.2,22.9 90.6,32.7 92.3,45.0 93.5,49.9 93.5,49.9 94.4,45.0 95.6,32.7 95.9,22.1 96.0,15.9 97.9,8.9 100.1,5.4 100.4,19.7 101.2,22.7 101.5,32.6 103.3,45.0 104.5,50.0 104.5,50.0 105.4,45.0 106.6,32.5 106.9,21.8 106.9,15.6 108.9,8.5 111.1,5.0 111.4,19.5 112.1,22.5 112.5,32.5 114.2,45.0 115.4,50.0 115.4,50.0 116.3,45.0 117.5,32.4 117.8,21.6 117.9,15.3 119.8,8.2 122.0,4.6 122.3,19.2 123.1,22.3 123.4,32.4 125.2,45.0 126.4,50.0 126.4,50.0 127.3,45.0 128.5,32.3 128.8,21.4 128.8,15.1 130.8,7.9 133.0,4.3 133.3,19.0 134.0,22.1 134.4,32.2 136.1,45.0 137.3,50.1 137.3,50.1 137.8,45.0 L137.3,85.2 137.3,89.2 135.4,83.6 134.8,77.0 134.3,70.4 133.4,48.7 131.9,41.4 129.8,48.7 128.9,70.3 128.8,71.3 128.5,73.3 128.2,80.9 127.9,88.9 127.8,92.5 126.4,84.9 126.4,88.9 124.4,83.3 123.9,76.7 123.3,70.2 122.5,48.7 120.9,41.5 118.8,48.7 118.0,70.1 117.9,71.1 117.6,73.1 117.3,80.6 117.0,88.6 116.8,92.1 115.4,84.5 115.4,88.5 113.5,83.0 112.9,76.5 112.4,70.0 111.5,48.6 110.0,41.5 107.9,48.6 107.0,69.9 106.9,70.8 106.6,72.8 106.3,80.3 106.0,88.2 105.9,91.7 104.5,84.2 104.5,88.2 102.5,82.6 102.0,76.2 101.4,69.7 100.6,48.6 99.0,41.5 96.9,48.6 96.1,69.6 96.0,70.6 95.7,72.6 95.4,80.0 95.1,87.8 94.9,91.3 93.5,83.8 93.5,87.8 91.6,82.3 91.0,75.9 90.5,69.5 89.6,48.6 88.1,41.6 86.0,48.6 85.1,69.4 85.0,70.4 84.7,72.3 84.4,79.6 84.1,87.4 84.0,90.8 82.6,83.5 82.6,87.4 80.6,81.9 80.1,75.6 79.5,69.3 78.7,48.6 77.1,41.6 75.0,48.6 74.2,69.2 74.1,70.1 73.8,72.1 73.5,79.3 73.2,87.0 73.0,90.4 71.6,83.1 71.6,86.9 69.7,81.6 69.1,75.3 68.6,69.1 67.7,48.6 66.2,41.7 64.1,48.6 63.2,68.9 63.1,69.9 62.8,71.8 62.5,78.9 62.2,86.5 62.1,89.9 60.7,82.7 60.7,86.5 58.7,81.2 58.2,75.0 57.6,68.8 56.8,48.5 55.2,41.8 53.1,48.5 52.3,68.7 52.2,69.6 51.9,71.5 51.6,78.5 51.3,86.1 51.1,89.3 49.7,82.2 49.7,86.0 47.8,80.7 47.2,74.6 46.7,68.5 45.8,48.5 44.3,41.8 42.2,48.5 41.3,68.4 41.2,69.3 40.9,71.1 40.6,78.1 40.3,85.5 40.2,88.8 38.8,81.7 38.8,85.5 36.8,80.3 36.3,74.2 35.7,68.2 34.9,48.5 33.3,41.9 31.2,48.5 30.4,68.0 30.3,69.0 30.0,70.8 29.6,77.6 29.4,84.9 29.2,88.1 27.8,81.2 27.8,84.9 25.9,79.7 25.3,73.8 24.8,67.9 23.9,48.5 22.4,42.0 20.3,48.4 19.4,67.7 19.3,68.6 19.0,70.3 18.7,77.1 18.4,84.3 18.3,87.4 16.9,80.6 16.9,84.1 14.9,79.1 14.4,73.3 13.8,67.4 13.0,48.4 11.4,42.1 9.3,48.4 8.5,67.2 8.4,68.1 8.1,69.8 7.7,76.4 7.5,83.4 7.3,86.4 5.9,79.7 5.9,83.2 4.0,78.2 3.4,72.5 2.9,66.8 2.0,48.4 0.5,42.2Z" fill="#1f6cb8" fill-opacity="0.11"/>
<path d="M0.0,45.2 1.6,10.7 1.9,23.2 2.6,25.7 2.9,34.4 2.7,57.3 2.0,48.4 0.5,42.2 0.0,47.3ZM3.1,36.1 4.7,45.2 5.9,49.6 6.8,45.2 7.7,38.6 7.9,59.7 7.7,74.6 7.5,83.4 7.3,86.4 4.5,78.7 3.6,59.5 3.0,48.7ZM10.0,45.2 12.5,9.5 12.8,22.4 13.6,25.1 13.9,34.0 13.6,57.6 13.0,48.4 11.4,42.1 10.1,47.4ZM14.0,35.8 15.7,45.2 16.9,49.6 17.8,45.1 18.7,38.4 18.8,60.0 18.6,75.3 18.4,84.3 18.3,87.4 15.5,79.6 14.6,59.9 13.9,48.7ZM20.9,45.1 23.5,8.7 23.8,21.9 24.5,24.6 24.8,33.7 24.6,57.9 23.9,48.5 22.4,42.0 21.1,47.4ZM25.0,35.6 26.6,45.1 27.8,49.7 28.7,45.1 29.6,38.2 29.8,60.2 29.6,75.8 29.4,84.9 29.2,88.1 26.4,80.2 25.5,60.1 24.9,48.8ZM31.9,45.1 34.4,8.1 34.7,21.5 35.5,24.3 35.8,33.5 35.5,58.0 34.9,48.5 33.3,41.9 32.0,47.4ZM35.9,35.4 37.6,45.1 38.8,49.7 39.7,45.1 40.6,38.1 40.7,60.4 40.5,76.2 40.3,85.5 40.2,88.8 37.4,80.8 36.5,60.4 35.8,48.8ZM42.8,45.1 45.4,7.6 45.7,21.2 46.4,24.0 46.7,33.3 46.5,58.2 45.8,48.5 44.3,41.8 43.0,47.4ZM46.9,35.2 48.5,45.1 49.7,49.8 50.6,45.1 51.6,38.0 51.7,60.6 51.5,76.6 51.3,86.1 51.1,89.3 48.3,81.2 47.4,60.6 46.8,48.8ZM53.8,45.1 56.3,7.1 56.6,20.8 57.4,23.7 57.7,33.2 57.4,58.4 56.8,48.5 55.2,41.8 53.9,47.4ZM57.8,35.1 59.5,45.1 60.7,49.8 61.6,45.1 62.5,37.9 62.6,60.8 62.4,77.0 62.2,86.5 62.1,89.9 59.3,81.7 58.4,60.7 57.7,48.9ZM64.7,45.1 67.3,6.6 67.6,20.5 68.3,23.4 68.6,33.0 68.4,58.5 67.7,48.6 66.2,41.7 64.9,47.5ZM68.8,34.9 70.4,45.1 71.6,49.9 72.5,45.0 73.5,37.8 73.6,61.0 73.4,77.4 73.2,87.0 73.0,90.4 70.2,82.1 69.3,60.9 68.7,48.9ZM75.7,45.0 78.2,6.2 78.5,20.2 79.3,23.1 79.6,32.9 79.3,58.6 78.7,48.6 77.1,41.6 75.8,47.5ZM79.7,34.8 81.4,45.0 82.6,49.9 83.5,45.0 84.4,37.7 84.5,61.1 84.3,77.7 84.1,87.4 84.0,90.8 81.2,82.5 80.3,61.1 79.6,48.9ZM86.6,45.0 89.2,5.7 89.5,20.0 90.2,22.9 90.5,32.7 90.3,58.7 89.6,48.6 88.1,41.6 86.8,47.5ZM90.7,34.7 92.3,45.0 93.5,49.9 94.4,45.0 95.4,37.6 95.5,61.3 95.3,78.0 95.1,87.8 94.9,91.3 92.1,82.8 91.2,61.2 90.6,49.0ZM97.6,45.0 100.1,5.4 100.4,19.7 101.2,22.7 101.5,32.6 101.2,58.9 100.6,48.6 99.0,41.5 97.7,47.5ZM101.6,34.6 103.3,45.0 104.5,50.0 105.4,45.0 106.3,37.5 106.4,61.4 106.2,78.3 106.0,88.2 105.9,91.7 103.1,83.2 102.2,61.3 101.5,49.0ZM108.5,45.0 111.1,5.0 111.4,19.5 112.1,22.5 112.4,32.5 112.2,59.0 111.5,48.6 110.0,41.5 108.7,47.5ZM112.6,34.5 114.2,45.0 115.4,50.0 116.3,45.0 117.3,37.5 117.4,61.5 117.2,78.6 117.0,88.6 116.8,92.1 114.0,83.5 113.1,61.5 112.5,49.0ZM119.5,45.0 122.0,4.6 122.3,19.2 123.1,22.3 123.4,32.4 123.1,59.1 122.5,48.7 120.9,41.5 119.6,47.5ZM123.6,34.4 125.2,45.0 126.4,50.0 127.3,45.0 128.2,37.4 128.3,61.7 128.1,78.8 127.9,88.9 127.8,92.5 125.0,83.8 124.1,61.6 123.4,49.0ZM130.4,45.0 133.0,4.3 133.3,19.0 134.0,22.1 134.3,32.2 134.1,59.2 133.4,48.7 131.9,41.4 130.6,47.5ZM134.5,34.3 136.1,45.0 137.3,50.1 137.8,45.0 137.8,37.3 137.8,61.8 137.8,79.1 137.8,89.2 137.8,92.8 135.9,84.1 135.0,61.7 134.4,49.0Z" fill="#1f6cb8" fill-opacity="0.16"/>
<path d="M2.9,49.1 3.0,66.8 3.4,72.5 4.0,78.2 7.3,86.4M7.9,50.9 8.1,69.4 8.4,68.1 8.8,53.1 9.2,42.1M0.0,66.4 0.0,48.3 0.5,42.2M7.4,50.9 8.3,24.7 9.1,16.9 10.1,44.3M13.8,49.2 13.9,67.4 14.4,73.3 14.9,79.1 18.3,87.4M18.8,51.0 19.1,69.9 19.3,68.6 19.7,53.3 20.2,42.0M8.5,67.2 9.3,48.4 11.4,42.1M18.3,51.0 19.2,24.1 20.1,16.2 21.1,44.2M24.8,49.2 24.9,67.9 25.3,73.8 25.9,79.7 29.2,88.1M29.8,51.1 30.0,70.3 30.3,69.0 30.7,53.4 31.1,41.9M19.4,67.7 20.3,48.4 22.4,42.0M29.3,51.1 30.2,23.7 31.0,15.7 32.0,44.2M35.7,49.3 35.8,68.2 36.3,74.2 36.8,80.3 40.2,88.8M40.7,51.1 41.0,70.7 41.2,69.3 41.6,53.5 42.1,41.8M30.4,68.0 31.2,48.5 33.3,41.9M40.2,51.1 41.1,23.4 42.0,15.2 43.0,44.2M46.7,49.3 46.8,68.5 47.2,74.6 47.8,80.7 51.1,89.3M51.7,51.2 51.9,71.0 52.2,69.6 52.6,53.6 53.0,41.8M41.3,68.4 42.2,48.5 44.3,41.8M51.2,51.2 52.1,23.1 52.9,14.8 53.9,44.1M57.6,49.3 57.7,68.8 58.2,75.0 58.7,81.2 62.1,89.9M62.6,51.3 62.9,71.3 63.1,69.9 63.5,53.7 64.0,41.7M52.3,68.7 53.1,48.5 55.2,41.8M62.1,51.3 63.0,22.8 63.9,14.4 64.9,44.1M68.6,49.4 68.7,69.1 69.1,75.3 69.7,81.6 73.0,90.4M73.6,51.3 73.8,71.6 74.1,70.1 74.5,53.7 74.9,41.7M63.2,68.9 64.1,48.6 66.2,41.7M73.1,51.3 74.0,22.5 74.8,14.0 75.8,44.1M79.5,49.4 79.6,69.3 80.1,75.6 80.6,81.9 84.0,90.8M84.5,51.4 84.8,71.8 85.0,70.4 85.4,53.8 85.9,41.6M74.2,69.2 75.0,48.6 77.1,41.6M84.0,51.4 84.9,22.3 85.8,13.7 86.8,44.1M90.5,49.4 90.6,69.5 91.0,75.9 91.6,82.3 94.9,91.3M95.5,51.4 95.7,72.1 96.0,70.6 96.4,53.9 96.8,41.6M85.1,69.4 86.0,48.6 88.1,41.6M95.0,51.4 95.9,22.1 96.7,13.4 97.7,44.0M101.4,49.5 101.5,69.8 102.0,76.2 102.5,82.6 105.9,91.7M106.4,51.5 106.7,72.3 106.9,70.8 107.3,54.0 107.8,41.5M96.1,69.6 96.9,48.6 99.0,41.5M105.9,51.5 106.9,21.8 107.7,13.1 108.7,44.0M112.4,49.5 112.5,70.0 112.9,76.5 113.5,83.0 116.8,92.1M117.4,51.5 117.6,72.6 117.9,71.1 118.3,54.0 118.7,41.5M107.0,69.9 107.9,48.6 110.0,41.5M116.9,51.5 117.8,21.6 118.6,12.8 119.6,44.0M123.3,49.5 123.4,70.2 123.9,76.7 124.4,83.3 127.8,92.5M128.3,51.6 128.6,72.8 128.8,71.3 129.2,54.1 129.7,41.4M118.0,70.1 118.8,48.7 120.9,41.5M127.8,51.6 128.8,21.4 129.6,12.5 130.6,44.0M134.3,49.5 134.4,70.4 134.8,77.0 135.4,83.6 137.8,92.8M128.9,70.3 129.8,48.7 131.9,41.4" fill="none" stroke="#1f6cb8" stroke-opacity="0.36" stroke-width="0.75" stroke-linejoin="round"/>
<path d="M0.0,51.6 0.0,44.4 0.0,22.7 0.4,12.7 1.1,44.3 1.2,50.4M9.9,51.8 10.1,44.3 10.8,21.6 11.3,11.4 12.1,44.3 12.2,50.5M20.8,51.9 21.1,44.2 21.7,21.1 22.3,10.6 23.0,44.2 23.1,50.6M31.8,52.0 32.0,44.2 32.7,20.7 33.2,10.0 34.0,44.2 34.1,50.6M42.7,52.1 43.0,44.2 43.6,20.3 44.2,9.5 44.9,44.2 45.0,50.7M53.7,52.2 53.9,44.1 54.6,19.9 55.1,9.0 55.9,44.1 56.0,50.8M64.6,52.2 64.9,44.1 65.5,19.6 66.1,8.6 66.8,44.1 66.9,50.8M75.6,52.3 75.8,44.1 76.5,19.3 77.0,8.1 77.8,44.1 77.9,50.9M86.5,52.4 86.8,44.1 87.4,19.0 88.0,7.8 88.7,44.0 88.8,50.9M97.5,52.4 97.7,44.0 98.4,18.8 98.9,7.4 99.7,44.0 99.8,50.9M108.4,52.5 108.7,44.0 109.3,18.5 109.9,7.0 110.6,44.0 110.7,51.0M119.4,52.5 119.6,44.0 120.3,18.3 120.8,6.7 121.6,44.0 121.7,51.0M130.3,52.6 130.6,44.0 131.2,18.0 131.8,6.3 132.5,44.0 132.6,51.1" fill="none" stroke="#1f6cb8" stroke-opacity="0.62" stroke-width="0.75" stroke-linejoin="round"/>
<path d="M1.0,50.4 1.1,44.3 1.6,10.7 1.9,23.2 2.6,25.7 2.9,49.1 3.6,59.5 4.5,78.7 5.3,48.7 5.4,42.6M2.7,26.6 3.0,34.3 4.7,45.2 5.9,49.6M5.6,43.9 5.7,50.0 6.9,85.1 7.3,86.4 7.5,83.4 7.7,74.6 7.9,50.9 8.0,39.4M12.0,50.5 12.1,44.3 12.5,9.5 12.8,22.4 13.6,25.1 13.8,49.2 14.6,59.9 15.5,79.6 16.2,48.7 16.3,42.5M13.6,26.0 13.9,34.0 15.7,45.2 16.9,49.6M16.6,43.8 16.7,50.1 17.9,86.0 18.3,87.4 18.4,84.3 18.6,75.3 18.8,51.0 18.9,39.3M22.9,50.6 23.0,44.2 23.5,8.7 23.8,21.9 24.5,24.6 24.8,49.2 25.5,60.1 26.4,80.2 27.2,48.8 27.3,42.4M24.6,25.5 24.9,33.7 26.6,45.1 27.8,49.7M27.5,43.8 27.6,50.2 28.8,86.7 29.2,88.1 29.4,84.9 29.6,75.8 29.8,51.1 29.9,39.1M33.9,50.6 34.0,44.2 34.4,8.1 34.7,21.5 35.5,24.3 35.7,49.3 36.5,60.4 37.4,80.8 38.1,48.8 38.2,42.3M35.5,25.2 35.8,33.5 37.6,45.1 38.8,49.7M38.5,43.7 38.6,50.2 39.8,87.4 40.2,88.8 40.3,85.5 40.5,76.2 40.7,51.1 40.8,39.0M44.8,50.7 44.9,44.2 45.4,7.6 45.7,21.2 46.4,24.0 46.7,49.3 47.4,60.6 48.3,81.2 49.1,48.8 49.2,42.3M46.5,24.9 46.8,33.3 48.5,45.1 49.7,49.8M49.4,43.7 49.5,50.3 50.7,87.9 51.1,89.3 51.3,86.1 51.5,76.6 51.7,51.2 51.8,38.9M55.8,50.8 55.9,44.1 56.3,7.1 56.6,20.8 57.4,23.7 57.6,49.3 58.4,60.7 59.3,81.7 60.0,48.9 60.1,42.2M57.4,24.6 57.7,33.2 59.5,45.1 60.7,49.8M60.4,43.6 60.5,50.3 61.7,88.4 62.1,89.9 62.2,86.5 62.4,77.0 62.6,51.3 62.7,38.8M66.7,50.8 66.8,44.1 67.3,6.6 67.6,20.5 68.3,23.4 68.6,49.4 69.3,60.9 70.2,82.1 71.0,48.9 71.1,42.2M68.4,24.4 68.7,33.0 70.4,45.1 71.6,49.9M71.3,43.6 71.4,50.4 72.6,88.9 73.0,90.4 73.2,87.0 73.4,77.4 73.6,51.3 73.7,38.8M77.7,50.9 77.8,44.1 78.2,6.2 78.5,20.2 79.3,23.1 79.5,49.4 80.3,61.1 81.2,82.5 81.9,48.9 82.0,42.1M79.3,24.1 79.6,32.9 81.4,45.0 82.6,49.9M82.3,43.6 82.4,50.4 83.6,89.3 84.0,90.8 84.1,87.4 84.3,77.7 84.5,51.4 84.6,38.7M88.6,50.9 88.7,44.0 89.2,5.7 89.5,20.0 90.2,22.9 90.5,49.4 91.2,61.2 92.1,82.8 92.9,49.0 93.0,42.1M90.3,23.9 90.6,32.7 92.3,45.0 93.5,49.9M93.2,43.5 93.3,50.4 94.5,89.8 94.9,91.3 95.1,87.8 95.3,78.0 95.5,51.4 95.6,38.6M99.6,50.9 99.7,44.0 100.1,5.4 100.4,19.7 101.2,22.7 101.4,49.5 102.2,61.3 103.1,83.2 103.8,49.0 103.9,42.0M101.2,23.7 101.5,32.6 103.3,45.0 104.5,50.0M104.2,43.5 104.3,50.5 105.5,90.2 105.9,91.7 106.0,88.2 106.2,78.3 106.4,51.5 106.5,38.5M110.5,51.0 110.6,44.0 111.1,5.0 111.4,19.5 112.1,22.5 112.4,49.5 113.1,61.5 114.0,83.5 114.8,49.0 114.9,42.0M112.2,23.5 112.5,32.5 114.2,45.0 115.4,50.0M115.1,43.5 115.2,50.5 116.4,90.6 116.8,92.1 117.0,88.6 117.2,78.6 117.4,51.5 117.5,38.5M121.5,51.0 121.6,44.0 122.0,4.6 122.3,19.2 123.1,22.3 123.3,49.5 124.1,61.6 125.0,83.8 125.7,49.0 125.8,41.9M123.1,23.3 123.4,32.4 125.2,45.0 126.4,50.0M126.1,43.5 126.2,50.5 127.4,90.9 127.8,92.5 127.9,88.9 128.1,78.8 128.3,51.6 128.4,38.4M132.4,51.1 132.5,44.0 133.0,4.3 133.3,19.0 134.0,22.1 134.3,49.5 135.0,61.7 135.9,84.1 136.7,49.0 136.8,41.9M134.1,23.1 134.4,32.2 136.1,45.0 137.3,50.1M137.0,43.4 137.1,50.6 137.8,91.3 137.8,92.8 137.8,89.2 137.8,79.1 137.8,51.6 137.8,38.3" fill="none" stroke="#1f6cb8" stroke-opacity="1.0" stroke-width="0.75" stroke-linejoin="round"/>
<path d="" fill="none" stroke="#1f6cb8" stroke-opacity="0.7" stroke-width="0.75" stroke-linejoin="round"/>
</g>
<path d="M1.6,10.7 1.9,23.2 2.6,25.7 3.0,34.3 4.7,45.2 5.9,49.6 5.9,49.6 6.8,45.2 8.0,34.2 8.3,24.7 8.4,19.1 10.3,12.8 12.5,9.5 12.8,22.4 13.6,25.1 13.9,34.0 15.7,45.2 16.9,49.6 16.9,49.6 17.8,45.2 19.0,34.1 19.2,24.7 19.3,19.2 21.3,14.4 23.5,13.5 23.8,25.2 24.5,28.0 24.9,35.8 26.6,45.4 27.8,49.0 27.8,49.0 28.7,45.5 29.9,36.8 30.2,29.4 30.3,25.1 32.2,20.2 34.4,17.7 34.7,27.8 35.5,29.8 35.8,36.8 37.6,45.5 38.8,48.9 38.8,48.9 39.7,45.5 40.9,36.7 41.1,29.2 41.2,24.8 43.2,19.8 45.4,17.3 45.7,27.5 46.4,29.6 46.8,36.6 48.5,45.4 49.7,49.0 49.7,49.0 50.6,45.4 51.8,36.6 52.1,28.9 52.2,24.5 54.1,19.5 56.3,16.9 56.6,27.2 57.4,29.4 57.7,36.5 59.5,45.4 60.7,49.0 60.7,49.0 61.6,45.4 62.8,36.5 63.0,28.7 63.1,24.2 65.1,19.2 67.3,16.6 67.6,27.0 68.3,29.2 68.7,36.4 70.4,45.4 71.6,49.0 71.6,49.0 72.5,45.4 73.7,36.3 74.0,28.5 74.1,24.0 76.0,18.9 78.2,16.2 78.5,26.8 79.3,29.0 79.6,36.3 81.4,45.4 82.6,49.1 82.6,49.1 83.5,45.4 84.7,36.2 84.9,28.3 85.0,23.8 87.0,18.6 89.2,15.9 89.5,26.6 90.2,28.8 90.6,36.2 92.3,45.4 93.5,49.1 93.5,49.1 94.4,45.4 95.6,36.1 95.9,28.2 96.0,23.5 97.9,18.3 100.1,15.6 100.4,26.4 101.2,28.6 101.5,36.1 103.3,45.4 104.5,49.1 104.5,49.1 105.4,45.4 106.6,35.6 106.9,27.1 106.9,22.2 108.9,15.2 111.1,10.3 111.4,22.7 112.1,25.0 112.5,33.8 114.2,45.1 115.4,49.9 115.4,49.9 116.3,45.0 117.5,32.5 117.8,21.8 117.9,15.5 119.8,8.2 122.0,4.6 122.3,19.2 123.1,22.3 123.4,32.4 125.2,45.0 126.4,50.0 126.4,50.0 127.3,45.0 128.5,32.3 128.8,21.4 128.8,15.1 130.8,7.9 133.0,4.3 133.3,19.0 134.0,22.1 134.4,32.2 136.1,45.0 137.3,50.1 137.3,50.1 137.8,45.0 L137.3,85.2 137.3,89.2 135.4,83.6 134.8,77.0 134.3,70.4 133.4,48.7 131.9,41.4 129.8,48.7 128.9,70.3 128.8,71.3 128.5,73.3 128.2,80.9 127.9,88.9 127.8,92.5 126.4,84.9 126.4,88.9 124.4,83.3 123.9,76.7 123.3,70.2 122.5,48.7 120.9,41.5 118.8,48.7 118.0,69.9 117.9,70.9 117.6,72.8 117.3,80.2 117.0,88.0 116.8,91.3 115.4,83.1 115.4,87.0 113.5,80.3 112.9,73.9 112.4,67.7 111.5,48.4 110.0,42.3 107.9,48.2 107.0,64.9 106.9,65.7 106.6,67.1 106.3,72.8 106.0,78.8 105.9,81.4 104.5,75.0 104.5,78.0 102.5,73.6 102.0,68.8 101.4,63.9 100.6,48.1 99.0,42.8 96.9,48.1 96.1,63.9 96.0,64.6 95.7,66.1 95.4,71.6 95.1,77.5 94.9,80.1 93.5,74.5 93.5,77.5 91.6,73.4 91.0,68.6 90.5,63.8 89.6,48.1 88.1,42.8 86.0,48.1 85.1,63.7 85.0,64.4 84.7,65.9 84.4,71.4 84.1,77.2 84.0,79.7 82.6,74.2 82.6,77.1 80.6,73.1 80.1,68.3 79.5,63.6 78.7,48.1 77.1,42.9 75.0,48.1 74.2,63.5 74.1,64.2 73.8,65.7 73.5,71.1 73.2,76.9 73.0,79.4 71.6,73.9 71.6,76.8 69.7,72.8 69.1,68.1 68.6,63.4 67.7,48.0 66.2,42.9 64.1,48.0 63.2,63.3 63.1,64.0 62.8,65.5 62.5,70.8 62.2,76.5 62.1,79.0 60.7,73.6 60.7,76.5 58.7,72.5 58.2,67.9 57.6,63.2 56.8,48.0 55.2,42.9 53.1,48.0 52.3,63.1 52.2,63.8 51.9,65.2 51.6,70.5 51.3,76.2 51.1,78.6 49.7,73.3 49.7,76.1 47.8,72.2 47.2,67.6 46.7,63.0 45.8,48.0 44.3,43.0 42.2,48.0 41.3,62.9 41.2,63.6 40.9,65.0 40.6,70.2 40.3,75.8 40.2,78.2 38.8,72.9 38.8,75.7 36.8,71.8 36.3,67.3 35.7,62.8 34.9,48.0 33.3,43.0 31.2,48.0 30.4,62.7 30.3,63.3 30.0,64.7 29.6,69.9 29.4,75.5 29.2,77.9 27.8,73.3 27.8,76.1 25.9,73.5 25.3,69.0 24.8,64.4 23.9,48.2 22.4,42.4 20.3,48.4 19.4,67.1 19.3,68.0 19.0,69.8 18.7,76.6 18.4,83.8 18.3,86.9 16.9,80.5 16.9,84.1 14.9,79.1 14.4,73.3 13.8,67.4 13.0,48.4 11.4,42.1 9.3,48.4 8.5,67.2 8.4,68.1 8.1,69.8 7.7,76.4 7.5,83.4 7.3,86.4 5.9,79.7 5.9,83.2 4.0,78.2 3.4,72.5 2.9,66.8 2.0,48.4 0.5,42.2Z" fill="#fff"/>
<g filter="url(#bl)">
<path d="M1.6,10.7 1.9,23.2 2.6,25.7 3.0,34.3 4.7,45.2 5.9,49.6 5.9,49.6 6.8,45.2 8.0,34.2 8.3,24.7 8.4,19.1 10.3,12.8 12.5,9.5 12.8,22.4 13.6,25.1 13.9,34.0 15.7,45.2 16.9,49.6 16.9,49.6 17.8,45.2 19.0,34.1 19.2,24.7 19.3,19.2 21.3,14.4 23.5,13.5 23.8,25.2 24.5,28.0 24.9,35.8 26.6,45.4 27.8,49.0 27.8,49.0 28.7,45.5 29.9,36.8 30.2,29.4 30.3,25.1 32.2,20.2 34.4,17.7 34.7,27.8 35.5,29.8 35.8,36.8 37.6,45.5 38.8,48.9 38.8,48.9 39.7,45.5 40.9,36.7 41.1,29.2 41.2,24.8 43.2,19.8 45.4,17.3 45.7,27.5 46.4,29.6 46.8,36.6 48.5,45.4 49.7,49.0 49.7,49.0 50.6,45.4 51.8,36.6 52.1,28.9 52.2,24.5 54.1,19.5 56.3,16.9 56.6,27.2 57.4,29.4 57.7,36.5 59.5,45.4 60.7,49.0 60.7,49.0 61.6,45.4 62.8,36.5 63.0,28.7 63.1,24.2 65.1,19.2 67.3,16.6 67.6,27.0 68.3,29.2 68.7,36.4 70.4,45.4 71.6,49.0 71.6,49.0 72.5,45.4 73.7,36.3 74.0,28.5 74.1,24.0 76.0,18.9 78.2,16.2 78.5,26.8 79.3,29.0 79.6,36.3 81.4,45.4 82.6,49.1 82.6,49.1 83.5,45.4 84.7,36.2 84.9,28.3 85.0,23.8 87.0,18.6 89.2,15.9 89.5,26.6 90.2,28.8 90.6,36.2 92.3,45.4 93.5,49.1 93.5,49.1 94.4,45.4 95.6,36.1 95.9,28.2 96.0,23.5 97.9,18.3 100.1,15.6 100.4,26.4 101.2,28.6 101.5,36.1 103.3,45.4 104.5,49.1 104.5,49.1 105.4,45.4 106.6,35.6 106.9,27.1 106.9,22.2 108.9,15.2 111.1,10.3 111.4,22.7 112.1,25.0 112.5,33.8 114.2,45.1 115.4,49.9 115.4,49.9 116.3,45.0 117.5,32.5 117.8,21.8 117.9,15.5 119.8,8.2 122.0,4.6 122.3,19.2 123.1,22.3 123.4,32.4 125.2,45.0 126.4,50.0 126.4,50.0 127.3,45.0 128.5,32.3 128.8,21.4 128.8,15.1 130.8,7.9 133.0,4.3 133.3,19.0 134.0,22.1 134.4,32.2 136.1,45.0 137.3,50.1 137.3,50.1 137.8,45.0 L137.3,85.2 137.3,89.2 135.4,83.6 134.8,77.0 134.3,70.4 133.4,48.7 131.9,41.4 129.8,48.7 128.9,70.3 128.8,71.3 128.5,73.3 128.2,80.9 127.9,88.9 127.8,92.5 126.4,84.9 126.4,88.9 124.4,83.3 123.9,76.7 123.3,70.2 122.5,48.7 120.9,41.5 118.8,48.7 118.0,69.9 117.9,70.9 117.6,72.8 117.3,80.2 117.0,88.0 116.8,91.3 115.4,83.1 115.4,87.0 113.5,80.3 112.9,73.9 112.4,67.7 111.5,48.4 110.0,42.3 107.9,48.2 107.0,64.9 106.9,65.7 106.6,67.1 106.3,72.8 106.0,78.8 105.9,81.4 104.5,75.0 104.5,78.0 102.5,73.6 102.0,68.8 101.4,63.9 100.6,48.1 99.0,42.8 96.9,48.1 96.1,63.9 96.0,64.6 95.7,66.1 95.4,71.6 95.1,77.5 94.9,80.1 93.5,74.5 93.5,77.5 91.6,73.4 91.0,68.6 90.5,63.8 89.6,48.1 88.1,42.8 86.0,48.1 85.1,63.7 85.0,64.4 84.7,65.9 84.4,71.4 84.1,77.2 84.0,79.7 82.6,74.2 82.6,77.1 80.6,73.1 80.1,68.3 79.5,63.6 78.7,48.1 77.1,42.9 75.0,48.1 74.2,63.5 74.1,64.2 73.8,65.7 73.5,71.1 73.2,76.9 73.0,79.4 71.6,73.9 71.6,76.8 69.7,72.8 69.1,68.1 68.6,63.4 67.7,48.0 66.2,42.9 64.1,48.0 63.2,63.3 63.1,64.0 62.8,65.5 62.5,70.8 62.2,76.5 62.1,79.0 60.7,73.6 60.7,76.5 58.7,72.5 58.2,67.9 57.6,63.2 56.8,48.0 55.2,42.9 53.1,48.0 52.3,63.1 52.2,63.8 51.9,65.2 51.6,70.5 51.3,76.2 51.1,78.6 49.7,73.3 49.7,76.1 47.8,72.2 47.2,67.6 46.7,63.0 45.8,48.0 44.3,43.0 42.2,48.0 41.3,62.9 41.2,63.6 40.9,65.0 40.6,70.2 40.3,75.8 40.2,78.2 38.8,72.9 38.8,75.7 36.8,71.8 36.3,67.3 35.7,62.8 34.9,48.0 33.3,43.0 31.2,48.0 30.4,62.7 30.3,63.3 30.0,64.7 29.6,69.9 29.4,75.5 29.2,77.9 27.8,73.3 27.8,76.1 25.9,73.5 25.3,69.0 24.8,64.4 23.9,48.2 22.4,42.4 20.3,48.4 19.4,67.1 19.3,68.0 19.0,69.8 18.7,76.6 18.4,83.8 18.3,86.9 16.9,80.5 16.9,84.1 14.9,79.1 14.4,73.3 13.8,67.4 13.0,48.4 11.4,42.1 9.3,48.4 8.5,67.2 8.4,68.1 8.1,69.8 7.7,76.4 7.5,83.4 7.3,86.4 5.9,79.7 5.9,83.2 4.0,78.2 3.4,72.5 2.9,66.8 2.0,48.4 0.5,42.2Z" fill="#D95C33" fill-opacity="0.09"/>
<path d="M0.0,45.2 1.6,10.7 1.9,23.2 2.6,25.7 2.9,34.4 2.7,57.3 2.0,48.4 0.5,42.2 0.0,47.3ZM3.1,36.1 4.7,45.2 5.9,49.6 6.8,45.2 7.7,38.6 7.9,59.7 7.7,74.6 7.5,83.4 7.3,86.4 4.5,78.7 3.6,59.5 3.0,48.7ZM10.0,45.2 12.5,9.5 12.8,22.4 13.6,25.1 13.9,34.0 13.6,57.6 13.0,48.4 11.4,42.1 10.1,47.4ZM14.0,35.8 15.7,45.2 16.9,49.6 17.8,45.2 18.7,38.5 18.8,59.7 18.6,74.8 18.4,83.8 18.3,86.9 15.5,79.6 14.6,59.9 13.9,48.7ZM20.9,45.2 23.5,13.5 23.8,25.2 24.5,28.0 24.8,35.8 24.6,56.1 23.9,48.2 22.4,42.4 21.1,47.3ZM25.0,37.4 26.6,45.4 27.8,49.0 28.7,45.5 29.6,40.3 29.8,56.8 29.6,68.5 29.4,75.5 29.2,77.9 26.4,73.4 25.5,57.7 24.9,48.4ZM31.9,45.5 34.4,17.7 34.7,27.8 35.5,29.8 35.8,36.8 35.5,55.2 34.9,48.0 33.3,43.0 32.0,47.2ZM35.9,38.2 37.6,45.5 38.8,48.9 39.7,45.5 40.6,40.2 40.7,57.0 40.5,68.8 40.3,75.8 40.2,78.2 37.4,72.2 36.5,56.9 35.8,48.2ZM42.8,45.4 45.4,17.3 45.7,27.5 46.4,29.6 46.7,36.6 46.5,55.3 45.8,48.0 44.3,43.0 43.0,47.2ZM46.9,38.0 48.5,45.4 49.7,49.0 50.6,45.4 51.6,40.1 51.7,57.1 51.5,69.1 51.3,76.2 51.1,78.6 48.3,72.5 47.4,57.0 46.8,48.3ZM53.8,45.4 56.3,16.9 56.6,27.2 57.4,29.4 57.7,36.5 57.4,55.4 56.8,48.0 55.2,42.9 53.9,47.2ZM57.8,37.9 59.5,45.4 60.7,49.0 61.6,45.4 62.5,40.0 62.6,57.2 62.4,69.4 62.2,76.5 62.1,79.0 59.3,72.9 58.4,57.2 57.7,48.3ZM64.7,45.4 67.3,16.6 67.6,27.0 68.3,29.2 68.6,36.4 68.4,55.5 67.7,48.0 66.2,42.9 64.9,47.2ZM68.8,37.8 70.4,45.4 71.6,49.0 72.5,45.4 73.5,40.0 73.6,57.4 73.4,69.6 73.2,76.9 73.0,79.4 70.2,73.2 69.3,57.3 68.7,48.3ZM75.7,45.4 78.2,16.2 78.5,26.8 79.3,29.0 79.6,36.3 79.3,55.6 78.7,48.1 77.1,42.9 75.8,47.2ZM79.7,37.7 81.4,45.4 82.6,49.1 83.5,45.4 84.4,39.9 84.5,57.5 84.3,69.9 84.1,77.2 84.0,79.7 81.2,73.5 80.3,57.4 79.6,48.3ZM86.6,45.4 89.2,15.9 89.5,26.6 90.2,28.8 90.5,36.2 90.3,55.7 89.6,48.1 88.1,42.8 86.8,47.2ZM90.7,37.6 92.3,45.4 93.5,49.1 94.4,45.4 95.4,39.8 95.5,57.6 95.3,70.1 95.1,77.5 94.9,80.1 92.1,73.7 91.2,57.5 90.6,48.3ZM97.6,45.4 100.1,15.6 100.4,26.4 101.2,28.6 101.5,36.1 101.2,55.8 100.6,48.1 99.0,42.8 97.7,47.2ZM101.6,37.6 103.3,45.4 104.5,49.1 105.4,45.4 106.3,39.5 106.4,58.1 106.2,71.2 106.0,78.8 105.9,81.4 103.1,74.0 102.2,57.6 101.5,48.4ZM108.5,45.3 111.1,10.3 111.4,22.7 112.1,25.0 112.4,33.8 112.2,57.7 111.5,48.4 110.0,42.3 108.7,47.3ZM112.6,35.6 114.2,45.1 115.4,49.9 116.3,45.0 117.3,37.6 117.4,61.4 117.2,78.2 117.0,88.0 116.8,91.3 114.0,81.2 113.1,60.3 112.5,48.8ZM119.5,45.0 122.0,4.6 122.3,19.2 123.1,22.3 123.4,32.4 123.1,59.1 122.5,48.7 120.9,41.5 119.6,47.5ZM123.6,34.4 125.2,45.0 126.4,50.0 127.3,45.0 128.2,37.4 128.3,61.7 128.1,78.8 127.9,88.9 127.8,92.5 125.0,83.8 124.1,61.6 123.4,49.0ZM130.4,45.0 133.0,4.3 133.3,19.0 134.0,22.1 134.3,32.2 134.1,59.2 133.4,48.7 131.9,41.4 130.6,47.5ZM134.5,34.3 136.1,45.0 137.3,50.1 137.8,45.0 137.8,37.3 137.8,61.8 137.8,79.1 137.8,89.2 137.8,92.8 135.9,84.1 135.0,61.7 134.4,49.0Z" fill="#D95C33" fill-opacity="0.13"/>
<path d="M2.9,49.1 3.0,66.8 3.4,72.5 4.0,78.2 7.3,86.4M7.9,50.9 8.1,69.4 8.4,68.1 8.8,53.1 9.2,42.1M0.0,66.4 0.0,48.3 0.5,42.2M7.4,50.9 8.3,24.7 9.1,16.9 10.1,44.3M13.8,49.2 13.9,67.4 14.4,73.3 14.9,79.1 18.3,86.9M18.8,50.9 19.1,69.4 19.3,68.0 19.7,53.0 20.2,42.2M8.5,67.2 9.3,48.4 11.4,42.1M18.3,50.9 19.2,24.7 20.1,17.4 21.1,44.4M24.8,48.8 24.9,64.4 25.3,69.0 25.9,73.5 29.2,77.9M29.8,49.9 30.0,64.4 30.3,63.3 30.7,51.7 31.1,43.0M19.4,67.1 20.3,48.4 22.4,42.4M29.3,50.0 30.2,29.4 31.0,23.4 32.0,44.8M35.7,48.6 35.8,62.8 36.3,67.3 36.8,71.8 40.2,78.2M40.7,50.0 41.0,64.6 41.2,63.6 41.6,51.7 42.1,43.0M30.4,62.7 31.2,48.0 33.3,43.0M40.2,50.0 41.1,29.2 42.0,23.0 43.0,44.7M46.7,48.6 46.8,63.0 47.2,67.6 47.8,72.2 51.1,78.6M51.7,50.0 51.9,64.9 52.2,63.8 52.6,51.8 53.0,42.9M41.3,62.9 42.2,48.0 44.3,43.0M51.2,50.0 52.1,28.9 52.9,22.7 53.9,44.7M57.6,48.6 57.7,63.2 58.2,67.9 58.7,72.5 62.1,79.0M62.6,50.1 62.9,65.1 63.1,64.0 63.5,51.9 64.0,42.9M52.3,63.1 53.1,48.0 55.2,42.9M62.1,50.1 63.0,28.7 63.9,22.4 64.9,44.7M68.6,48.7 68.7,63.4 69.1,68.1 69.7,72.8 73.0,79.4M73.6,50.1 73.8,65.3 74.1,64.2 74.5,51.9 74.9,42.9M63.2,63.3 64.1,48.0 66.2,42.9M73.1,50.1 74.0,28.5 74.8,22.2 75.8,44.7M79.5,48.7 79.6,63.6 80.1,68.3 80.6,73.1 84.0,79.7M84.5,50.2 84.8,65.5 85.0,64.4 85.4,52.0 85.9,42.8M74.2,63.5 75.0,48.1 77.1,42.9M84.0,50.2 84.9,28.3 85.8,21.9 86.8,44.7M90.5,48.7 90.6,63.8 91.0,68.6 91.6,73.4 94.9,80.1M95.5,50.2 95.7,65.7 96.0,64.6 96.4,52.0 96.8,42.8M85.1,63.7 86.0,48.1 88.1,42.8M95.0,50.2 95.9,28.2 96.7,21.7 97.7,44.6M101.4,48.7 101.5,63.9 102.0,68.8 102.5,73.6 105.9,81.4M106.4,50.4 106.7,66.7 106.9,65.7 107.3,52.4 107.8,42.5M96.1,63.9 96.9,48.1 99.0,42.8M105.9,50.3 106.9,27.1 107.7,19.7 108.7,44.5M112.4,49.2 112.5,67.7 112.9,73.9 113.5,80.3 116.8,91.3M117.4,51.5 117.6,72.4 117.9,70.9 118.3,54.0 118.7,41.5M107.0,64.9 107.9,48.2 110.0,42.3M116.9,51.4 117.8,21.8 118.6,12.8 119.6,44.0M123.3,49.5 123.4,70.2 123.9,76.7 124.4,83.3 127.8,92.5M128.3,51.6 128.6,72.8 128.8,71.3 129.2,54.1 129.7,41.4M118.0,69.9 118.8,48.7 120.9,41.5M127.8,51.6 128.8,21.4 129.6,12.5 130.6,44.0M134.3,49.5 134.4,70.4 134.8,77.0 135.4,83.6 137.8,92.8M128.9,70.3 129.8,48.7 131.9,41.4" fill="none" stroke="#D95C33" stroke-opacity="0.40" stroke-width="0.84" stroke-linejoin="round"/>
<path d="M0.0,51.6 0.0,44.4 0.0,22.7 0.4,12.7 1.1,44.3 1.2,50.4M9.9,51.8 10.1,44.3 10.8,21.6 11.3,11.4 12.1,44.3 12.2,50.5M20.8,51.6 21.1,44.4 21.7,23.1 22.3,14.0 23.0,44.5 23.1,50.1M31.8,50.6 32.0,44.8 32.7,27.1 33.2,19.1 34.0,44.8 34.1,49.6M42.7,50.7 43.0,44.7 43.6,26.8 44.2,18.7 44.9,44.7 45.0,49.7M53.7,50.8 53.9,44.7 54.6,26.6 55.1,18.4 55.9,44.7 56.0,49.7M64.6,50.8 64.9,44.7 65.5,26.3 66.1,18.0 66.8,44.7 66.9,49.7M75.6,50.8 75.8,44.7 76.5,26.1 77.0,17.7 77.8,44.7 77.9,49.8M86.5,50.9 86.8,44.7 87.4,25.9 88.0,17.4 88.7,44.7 88.8,49.8M97.5,50.9 97.7,44.6 98.4,25.7 98.9,17.2 99.7,44.6 99.8,49.8M108.4,51.4 108.7,44.5 109.3,23.2 109.9,13.1 110.6,44.3 110.7,50.4M119.4,52.5 119.6,44.0 120.3,18.3 120.8,6.7 121.6,44.0 121.7,51.0M130.3,52.6 130.6,44.0 131.2,18.0 131.8,6.3 132.5,44.0 132.6,51.1" fill="none" stroke="#D95C33" stroke-opacity="0.69" stroke-width="0.84" stroke-linejoin="round"/>
<path d="M1.0,50.4 1.1,44.3 1.6,10.7 1.9,23.2 2.6,25.7 2.9,49.1 3.6,59.5 4.5,78.7 5.3,48.7 5.4,42.6M2.7,26.6 3.0,34.3 4.7,45.2 5.9,49.6M5.6,43.9 5.7,50.0 6.9,85.1 7.3,86.4 7.5,83.4 7.7,74.6 7.9,50.9 8.0,39.4M12.0,50.5 12.1,44.3 12.5,9.5 12.8,22.4 13.6,25.1 13.8,49.2 14.6,59.9 15.5,79.6 16.2,48.7 16.3,42.5M13.6,26.0 13.9,34.0 15.7,45.2 16.9,49.6M16.6,43.8 16.7,50.1 17.9,85.7 18.3,86.9 18.4,83.8 18.6,74.8 18.8,50.9 18.9,39.4M22.9,50.1 23.0,44.5 23.5,13.5 23.8,25.2 24.5,28.0 24.8,48.8 25.5,57.7 26.4,73.4 27.2,48.3 27.3,43.3M24.6,28.8 24.9,35.8 26.6,45.4 27.8,49.0M27.5,44.4 27.6,49.3 28.8,77.0 29.2,77.9 29.4,75.5 29.6,68.5 29.8,49.9 29.9,41.0M33.9,49.6 34.0,44.8 34.4,17.7 34.7,27.8 35.5,29.8 35.7,48.6 36.5,56.9 37.4,72.2 38.1,48.2 38.2,43.4M35.5,30.5 35.8,36.8 37.6,45.5 38.8,48.9M38.5,44.4 38.6,49.3 39.8,77.1 40.2,78.2 40.3,75.8 40.5,68.8 40.7,50.0 40.8,40.9M44.8,49.7 44.9,44.7 45.4,17.3 45.7,27.5 46.4,29.6 46.7,48.6 47.4,57.0 48.3,72.5 49.1,48.3 49.2,43.3M46.5,30.3 46.8,36.6 48.5,45.4 49.7,49.0M49.4,44.4 49.5,49.3 50.7,77.6 51.1,78.6 51.3,76.2 51.5,69.1 51.7,50.0 51.8,40.8M55.8,49.7 55.9,44.7 56.3,16.9 56.6,27.2 57.4,29.4 57.6,48.6 58.4,57.2 59.3,72.9 60.0,48.3 60.1,43.3M57.4,30.1 57.7,36.5 59.5,45.4 60.7,49.0M60.4,44.4 60.5,49.4 61.7,77.9 62.1,79.0 62.2,76.5 62.4,69.4 62.6,50.1 62.7,40.8M66.7,49.7 66.8,44.7 67.3,16.6 67.6,27.0 68.3,29.2 68.6,48.7 69.3,57.3 70.2,73.2 71.0,48.3 71.1,43.2M68.4,29.9 68.7,36.4 70.4,45.4 71.6,49.0M71.3,44.3 71.4,49.4 72.6,78.3 73.0,79.4 73.2,76.9 73.4,69.6 73.6,50.1 73.7,40.7M77.7,49.8 77.8,44.7 78.2,16.2 78.5,26.8 79.3,29.0 79.5,48.7 80.3,57.4 81.2,73.5 81.9,48.3 82.0,43.2M79.3,29.7 79.6,36.3 81.4,45.4 82.6,49.1M82.3,44.3 82.4,49.4 83.6,78.6 84.0,79.7 84.1,77.2 84.3,69.9 84.5,50.2 84.6,40.6M88.6,49.8 88.7,44.7 89.2,15.9 89.5,26.6 90.2,28.8 90.5,48.7 91.2,57.5 92.1,73.7 92.9,48.3 93.0,43.2M90.3,29.5 90.6,36.2 92.3,45.4 93.5,49.1M93.2,44.3 93.3,49.4 94.5,79.0 94.9,80.1 95.1,77.5 95.3,70.1 95.5,50.2 95.6,40.6M99.6,49.8 99.7,44.6 100.1,15.6 100.4,26.4 101.2,28.6 101.4,48.7 102.2,57.6 103.1,74.0 103.8,48.4 103.9,43.1M101.2,29.4 101.5,36.1 103.3,45.4 104.5,49.1M104.2,44.2 104.3,49.5 105.5,80.0 105.9,81.4 106.0,78.8 106.2,71.2 106.4,50.4 106.5,40.3M110.5,50.4 110.6,44.3 111.1,10.3 111.4,22.7 112.1,25.0 112.4,49.2 113.1,60.3 114.0,81.2 114.8,48.9 114.9,42.2M112.2,25.8 112.5,33.8 114.2,45.1 115.4,49.9M115.1,43.6 115.2,50.3 116.4,89.6 116.8,91.3 117.0,88.0 117.2,78.2 117.4,51.5 117.5,38.5M121.5,51.0 121.6,44.0 122.0,4.6 122.3,19.2 123.1,22.3 123.3,49.5 124.1,61.6 125.0,83.8 125.7,49.0 125.8,41.9M123.1,23.3 123.4,32.4 125.2,45.0 126.4,50.0M126.1,43.5 126.2,50.5 127.4,90.9 127.8,92.5 127.9,88.9 128.1,78.8 128.3,51.6 128.4,38.4M132.4,51.1 132.5,44.0 133.0,4.3 133.3,19.0 134.0,22.1 134.3,49.5 135.0,61.7 135.9,84.1 136.7,49.0 136.8,41.9M134.1,23.1 134.4,32.2 136.1,45.0 137.3,50.1M137.0,43.4 137.1,50.6 137.8,91.3 137.8,92.8 137.8,89.2 137.8,79.1 137.8,51.6 137.8,38.3" fill="none" stroke="#D95C33" stroke-opacity="1.0" stroke-width="0.84" stroke-linejoin="round"/>
<path d="" fill="none" stroke="#D95C33" stroke-opacity="0.7" stroke-width="0.84" stroke-linejoin="round"/>
</g>
</g>
<rect x="218.5" y="201.5" width="137.8" height="93.0" fill="none" stroke="#666" stroke-width="0.7"/>
<line x1="264.43" y1="294.5" x2="264.43" y2="293.0" stroke="#555" stroke-width="0.6"/>
<line x1="264.43" y1="201.5" x2="264.43" y2="203.0" stroke="#555" stroke-width="0.6"/>
<line x1="310.37" y1="294.5" x2="310.37" y2="293.0" stroke="#555" stroke-width="0.6"/>
<line x1="310.37" y1="201.5" x2="310.37" y2="203.0" stroke="#555" stroke-width="0.6"/>
<line x1="218.5" y1="224.75" x2="220.0" y2="224.75" stroke="#555" stroke-width="0.6"/>
<line x1="356.3" y1="224.75" x2="354.8" y2="224.75" stroke="#555" stroke-width="0.6"/>
<line x1="218.5" y1="248.00" x2="220.0" y2="248.00" stroke="#555" stroke-width="0.6"/>
<line x1="356.3" y1="248.00" x2="354.8" y2="248.00" stroke="#555" stroke-width="0.6"/>
<line x1="218.5" y1="271.25" x2="220.0" y2="271.25" stroke="#555" stroke-width="0.6"/>
<line x1="356.3" y1="271.25" x2="354.8" y2="271.25" stroke="#555" stroke-width="0.6"/>
<text class="t" x="218.8" y="308.7" text-anchor="middle">0</text>
<text class="t" x="264.7" y="308.7" text-anchor="middle">50</text>
<text class="t" x="310.7" y="308.7" text-anchor="middle">100</text>
<text class="t" x="356.6" y="308.7" text-anchor="middle">150</text>
<text class="t" x="215.5" y="205.2" text-anchor="end">10</text>
<text class="t" x="215.5" y="228.5" text-anchor="end">5</text>
<text class="t" x="215.5" y="251.8" text-anchor="end">0</text>
<text class="t" x="215.5" y="275.0" text-anchor="end">-5</text>
<text class="t" x="215.5" y="298.2" text-anchor="end">-10</text>
<text class="ax" x="287.7" y="322.7" text-anchor="middle">x</text>
<text class="ax" style="font-size:12px" transform="translate(195.8,248.8) rotate(-90)" text-anchor="middle">f<tspan font-style="normal">(</tspan>x<tspan font-style="normal">)</tspan></text>
<text class="c" x="290.0" y="336.9" text-anchor="middle">(e) PFF-DNN <tspan font-style="italic">N<tspan fill="#777">=</tspan>1000</tspan></text>
<line x1="296.3" y1="181.8" x2="316.9" y2="181.8" stroke="#1f6cb8" stroke-width="0.6" stroke-opacity="0.85"/>
<line x1="296.3" y1="193.5" x2="316.9" y2="193.5" stroke="#D95C33" stroke-width="0.6" stroke-opacity="0.7"/>
<text x="319.5" y="185.2" font-size="10.0">truth</text>
<text x="319.5" y="196.9" font-size="10.0">PFF-DNN</text>
</g>
<g>
<line x1="445.43" y1="201.5" x2="445.43" y2="294.5" stroke="#e6e6e6" stroke-width="0.5"/>
<line x1="491.37" y1="201.5" x2="491.37" y2="294.5" stroke="#e6e6e6" stroke-width="0.5"/>
<line x1="399.5" y1="224.75" x2="537.3" y2="224.75" stroke="#e6e6e6" stroke-width="0.5"/>
<line x1="399.5" y1="248.00" x2="537.3" y2="248.00" stroke="#e6e6e6" stroke-width="0.5"/>
<line x1="399.5" y1="271.25" x2="537.3" y2="271.25" stroke="#e6e6e6" stroke-width="0.5"/>
<g transform="translate(399.5,201.5)">
<g filter="url(#bl)">
<path d="M1.6,10.7 1.9,23.2 2.6,25.7 3.0,34.3 4.7,45.2 5.9,49.6 5.9,49.6 6.8,45.2 8.0,34.2 8.3,24.7 8.4,19.1 10.3,12.8 12.5,9.5 12.8,22.4 13.6,25.1 13.9,34.0 15.7,45.2 16.9,49.6 16.9,49.6 17.8,45.1 19.0,33.9 19.2,24.1 19.3,18.5 21.3,12.1 23.5,8.7 23.8,21.9 24.5,24.6 24.9,33.7 26.6,45.1 27.8,49.7 27.8,49.7 28.7,45.1 29.9,33.6 30.2,23.7 30.3,18.0 32.2,11.5 34.4,8.1 34.7,21.5 35.5,24.3 35.8,33.5 37.6,45.1 38.8,49.7 38.8,49.7 39.7,45.1 40.9,33.4 41.1,23.4 41.2,17.6 43.2,10.9 45.4,7.6 45.7,21.2 46.4,24.0 46.8,33.3 48.5,45.1 49.7,49.8 49.7,49.8 50.6,45.1 51.8,33.3 52.1,23.1 52.2,17.2 54.1,10.5 56.3,7.1 56.6,20.8 57.4,23.7 57.7,33.2 59.5,45.1 60.7,49.8 60.7,49.8 61.6,45.1 62.8,33.1 63.0,22.8 63.1,16.8 65.1,10.0 67.3,6.6 67.6,20.5 68.3,23.4 68.7,33.0 70.4,45.1 71.6,49.9 71.6,49.9 72.5,45.0 73.7,32.9 74.0,22.5 74.1,16.5 76.0,9.6 78.2,6.2 78.5,20.2 79.3,23.1 79.6,32.9 81.4,45.0 82.6,49.9 82.6,49.9 83.5,45.0 84.7,32.8 84.9,22.3 85.0,16.2 87.0,9.3 89.2,5.7 89.5,20.0 90.2,22.9 90.6,32.7 92.3,45.0 93.5,49.9 93.5,49.9 94.4,45.0 95.6,32.7 95.9,22.1 96.0,15.9 97.9,8.9 100.1,5.4 100.4,19.7 101.2,22.7 101.5,32.6 103.3,45.0 104.5,50.0 104.5,50.0 105.4,45.0 106.6,32.5 106.9,21.8 106.9,15.6 108.9,8.5 111.1,5.0 111.4,19.5 112.1,22.5 112.5,32.5 114.2,45.0 115.4,50.0 115.4,50.0 116.3,45.0 117.5,32.4 117.8,21.6 117.9,15.3 119.8,8.2 122.0,4.6 122.3,19.2 123.1,22.3 123.4,32.4 125.2,45.0 126.4,50.0 126.4,50.0 127.3,45.0 128.5,32.3 128.8,21.4 128.8,15.1 130.8,7.9 133.0,4.3 133.3,19.0 134.0,22.1 134.4,32.2 136.1,45.0 137.3,50.1 137.3,50.1 137.8,45.0 L137.3,85.2 137.3,89.2 135.4,83.6 134.8,77.0 134.3,70.4 133.4,48.7 131.9,41.4 129.8,48.7 128.9,70.3 128.8,71.3 128.5,73.3 128.2,80.9 127.9,88.9 127.8,92.5 126.4,84.9 126.4,88.9 124.4,83.3 123.9,76.7 123.3,70.2 122.5,48.7 120.9,41.5 118.8,48.7 118.0,70.1 117.9,71.1 117.6,73.1 117.3,80.6 117.0,88.6 116.8,92.1 115.4,84.5 115.4,88.5 113.5,83.0 112.9,76.5 112.4,70.0 111.5,48.6 110.0,41.5 107.9,48.6 107.0,69.9 106.9,70.8 106.6,72.8 106.3,80.3 106.0,88.2 105.9,91.7 104.5,84.2 104.5,88.2 102.5,82.6 102.0,76.2 101.4,69.7 100.6,48.6 99.0,41.5 96.9,48.6 96.1,69.6 96.0,70.6 95.7,72.6 95.4,80.0 95.1,87.8 94.9,91.3 93.5,83.8 93.5,87.8 91.6,82.3 91.0,75.9 90.5,69.5 89.6,48.6 88.1,41.6 86.0,48.6 85.1,69.4 85.0,70.4 84.7,72.3 84.4,79.6 84.1,87.4 84.0,90.8 82.6,83.5 82.6,87.4 80.6,81.9 80.1,75.6 79.5,69.3 78.7,48.6 77.1,41.6 75.0,48.6 74.2,69.2 74.1,70.1 73.8,72.1 73.5,79.3 73.2,87.0 73.0,90.4 71.6,83.1 71.6,86.9 69.7,81.6 69.1,75.3 68.6,69.1 67.7,48.6 66.2,41.7 64.1,48.6 63.2,68.9 63.1,69.9 62.8,71.8 62.5,78.9 62.2,86.5 62.1,89.9 60.7,82.7 60.7,86.5 58.7,81.2 58.2,75.0 57.6,68.8 56.8,48.5 55.2,41.8 53.1,48.5 52.3,68.7 52.2,69.6 51.9,71.5 51.6,78.5 51.3,86.1 51.1,89.3 49.7,82.2 49.7,86.0 47.8,80.7 47.2,74.6 46.7,68.5 45.8,48.5 44.3,41.8 42.2,48.5 41.3,68.4 41.2,69.3 40.9,71.1 40.6,78.1 40.3,85.5 40.2,88.8 38.8,81.7 38.8,85.5 36.8,80.3 36.3,74.2 35.7,68.2 34.9,48.5 33.3,41.9 31.2,48.5 30.4,68.0 30.3,69.0 30.0,70.8 29.6,77.6 29.4,84.9 29.2,88.1 27.8,81.2 27.8,84.9 25.9,79.7 25.3,73.8 24.8,67.9 23.9,48.5 22.4,42.0 20.3,48.4 19.4,67.7 19.3,68.6 19.0,70.3 18.7,77.1 18.4,84.3 18.3,87.4 16.9,80.6 16.9,84.1 14.9,79.1 14.4,73.3 13.8,67.4 13.0,48.4 11.4,42.1 9.3,48.4 8.5,67.2 8.4,68.1 8.1,69.8 7.7,76.4 7.5,83.4 7.3,86.4 5.9,79.7 5.9,83.2 4.0,78.2 3.4,72.5 2.9,66.8 2.0,48.4 0.5,42.2Z" fill="#1f6cb8" fill-opacity="0.11"/>
<path d="M0.0,45.2 1.6,10.7 1.9,23.2 2.6,25.7 2.9,34.4 2.7,57.3 2.0,48.4 0.5,42.2 0.0,47.3ZM3.1,36.1 4.7,45.2 5.9,49.6 6.8,45.2 7.7,38.6 7.9,59.7 7.7,74.6 7.5,83.4 7.3,86.4 4.5,78.7 3.6,59.5 3.0,48.7ZM10.0,45.2 12.5,9.5 12.8,22.4 13.6,25.1 13.9,34.0 13.6,57.6 13.0,48.4 11.4,42.1 10.1,47.4ZM14.0,35.8 15.7,45.2 16.9,49.6 17.8,45.1 18.7,38.4 18.8,60.0 18.6,75.3 18.4,84.3 18.3,87.4 15.5,79.6 14.6,59.9 13.9,48.7ZM20.9,45.1 23.5,8.7 23.8,21.9 24.5,24.6 24.8,33.7 24.6,57.9 23.9,48.5 22.4,42.0 21.1,47.4ZM25.0,35.6 26.6,45.1 27.8,49.7 28.7,45.1 29.6,38.2 29.8,60.2 29.6,75.8 29.4,84.9 29.2,88.1 26.4,80.2 25.5,60.1 24.9,48.8ZM31.9,45.1 34.4,8.1 34.7,21.5 35.5,24.3 35.8,33.5 35.5,58.0 34.9,48.5 33.3,41.9 32.0,47.4ZM35.9,35.4 37.6,45.1 38.8,49.7 39.7,45.1 40.6,38.1 40.7,60.4 40.5,76.2 40.3,85.5 40.2,88.8 37.4,80.8 36.5,60.4 35.8,48.8ZM42.8,45.1 45.4,7.6 45.7,21.2 46.4,24.0 46.7,33.3 46.5,58.2 45.8,48.5 44.3,41.8 43.0,47.4ZM46.9,35.2 48.5,45.1 49.7,49.8 50.6,45.1 51.6,38.0 51.7,60.6 51.5,76.6 51.3,86.1 51.1,89.3 48.3,81.2 47.4,60.6 46.8,48.8ZM53.8,45.1 56.3,7.1 56.6,20.8 57.4,23.7 57.7,33.2 57.4,58.4 56.8,48.5 55.2,41.8 53.9,47.4ZM57.8,35.1 59.5,45.1 60.7,49.8 61.6,45.1 62.5,37.9 62.6,60.8 62.4,77.0 62.2,86.5 62.1,89.9 59.3,81.7 58.4,60.7 57.7,48.9ZM64.7,45.1 67.3,6.6 67.6,20.5 68.3,23.4 68.6,33.0 68.4,58.5 67.7,48.6 66.2,41.7 64.9,47.5ZM68.8,34.9 70.4,45.1 71.6,49.9 72.5,45.0 73.5,37.8 73.6,61.0 73.4,77.4 73.2,87.0 73.0,90.4 70.2,82.1 69.3,60.9 68.7,48.9ZM75.7,45.0 78.2,6.2 78.5,20.2 79.3,23.1 79.6,32.9 79.3,58.6 78.7,48.6 77.1,41.6 75.8,47.5ZM79.7,34.8 81.4,45.0 82.6,49.9 83.5,45.0 84.4,37.7 84.5,61.1 84.3,77.7 84.1,87.4 84.0,90.8 81.2,82.5 80.3,61.1 79.6,48.9ZM86.6,45.0 89.2,5.7 89.5,20.0 90.2,22.9 90.5,32.7 90.3,58.7 89.6,48.6 88.1,41.6 86.8,47.5ZM90.7,34.7 92.3,45.0 93.5,49.9 94.4,45.0 95.4,37.6 95.5,61.3 95.3,78.0 95.1,87.8 94.9,91.3 92.1,82.8 91.2,61.2 90.6,49.0ZM97.6,45.0 100.1,5.4 100.4,19.7 101.2,22.7 101.5,32.6 101.2,58.9 100.6,48.6 99.0,41.5 97.7,47.5ZM101.6,34.6 103.3,45.0 104.5,50.0 105.4,45.0 106.3,37.5 106.4,61.4 106.2,78.3 106.0,88.2 105.9,91.7 103.1,83.2 102.2,61.3 101.5,49.0ZM108.5,45.0 111.1,5.0 111.4,19.5 112.1,22.5 112.4,32.5 112.2,59.0 111.5,48.6 110.0,41.5 108.7,47.5ZM112.6,34.5 114.2,45.0 115.4,50.0 116.3,45.0 117.3,37.5 117.4,61.5 117.2,78.6 117.0,88.6 116.8,92.1 114.0,83.5 113.1,61.5 112.5,49.0ZM119.5,45.0 122.0,4.6 122.3,19.2 123.1,22.3 123.4,32.4 123.1,59.1 122.5,48.7 120.9,41.5 119.6,47.5ZM123.6,34.4 125.2,45.0 126.4,50.0 127.3,45.0 128.2,37.4 128.3,61.7 128.1,78.8 127.9,88.9 127.8,92.5 125.0,83.8 124.1,61.6 123.4,49.0ZM130.4,45.0 133.0,4.3 133.3,19.0 134.0,22.1 134.3,32.2 134.1,59.2 133.4,48.7 131.9,41.4 130.6,47.5ZM134.5,34.3 136.1,45.0 137.3,50.1 137.8,45.0 137.8,37.3 137.8,61.8 137.8,79.1 137.8,89.2 137.8,92.8 135.9,84.1 135.0,61.7 134.4,49.0Z" fill="#1f6cb8" fill-opacity="0.16"/>
<path d="M2.9,49.1 3.0,66.8 3.4,72.5 4.0,78.2 7.3,86.4M7.9,50.9 8.1,69.4 8.4,68.1 8.8,53.1 9.2,42.1M0.0,66.4 0.0,48.3 0.5,42.2M7.4,50.9 8.3,24.7 9.1,16.9 10.1,44.3M13.8,49.2 13.9,67.4 14.4,73.3 14.9,79.1 18.3,87.4M18.8,51.0 19.1,69.9 19.3,68.6 19.7,53.3 20.2,42.0M8.5,67.2 9.3,48.4 11.4,42.1M18.3,51.0 19.2,24.1 20.1,16.2 21.1,44.2M24.8,49.2 24.9,67.9 25.3,73.8 25.9,79.7 29.2,88.1M29.8,51.1 30.0,70.3 30.3,69.0 30.7,53.4 31.1,41.9M19.4,67.7 20.3,48.4 22.4,42.0M29.3,51.1 30.2,23.7 31.0,15.7 32.0,44.2M35.7,49.3 35.8,68.2 36.3,74.2 36.8,80.3 40.2,88.8M40.7,51.1 41.0,70.7 41.2,69.3 41.6,53.5 42.1,41.8M30.4,68.0 31.2,48.5 33.3,41.9M40.2,51.1 41.1,23.4 42.0,15.2 43.0,44.2M46.7,49.3 46.8,68.5 47.2,74.6 47.8,80.7 51.1,89.3M51.7,51.2 51.9,71.0 52.2,69.6 52.6,53.6 53.0,41.8M41.3,68.4 42.2,48.5 44.3,41.8M51.2,51.2 52.1,23.1 52.9,14.8 53.9,44.1M57.6,49.3 57.7,68.8 58.2,75.0 58.7,81.2 62.1,89.9M62.6,51.3 62.9,71.3 63.1,69.9 63.5,53.7 64.0,41.7M52.3,68.7 53.1,48.5 55.2,41.8M62.1,51.3 63.0,22.8 63.9,14.4 64.9,44.1M68.6,49.4 68.7,69.1 69.1,75.3 69.7,81.6 73.0,90.4M73.6,51.3 73.8,71.6 74.1,70.1 74.5,53.7 74.9,41.7M63.2,68.9 64.1,48.6 66.2,41.7M73.1,51.3 74.0,22.5 74.8,14.0 75.8,44.1M79.5,49.4 79.6,69.3 80.1,75.6 80.6,81.9 84.0,90.8M84.5,51.4 84.8,71.8 85.0,70.4 85.4,53.8 85.9,41.6M74.2,69.2 75.0,48.6 77.1,41.6M84.0,51.4 84.9,22.3 85.8,13.7 86.8,44.1M90.5,49.4 90.6,69.5 91.0,75.9 91.6,82.3 94.9,91.3M95.5,51.4 95.7,72.1 96.0,70.6 96.4,53.9 96.8,41.6M85.1,69.4 86.0,48.6 88.1,41.6M95.0,51.4 95.9,22.1 96.7,13.4 97.7,44.0M101.4,49.5 101.5,69.8 102.0,76.2 102.5,82.6 105.9,91.7M106.4,51.5 106.7,72.3 106.9,70.8 107.3,54.0 107.8,41.5M96.1,69.6 96.9,48.6 99.0,41.5M105.9,51.5 106.9,21.8 107.7,13.1 108.7,44.0M112.4,49.5 112.5,70.0 112.9,76.5 113.5,83.0 116.8,92.1M117.4,51.5 117.6,72.6 117.9,71.1 118.3,54.0 118.7,41.5M107.0,69.9 107.9,48.6 110.0,41.5M116.9,51.5 117.8,21.6 118.6,12.8 119.6,44.0M123.3,49.5 123.4,70.2 123.9,76.7 124.4,83.3 127.8,92.5M128.3,51.6 128.6,72.8 128.8,71.3 129.2,54.1 129.7,41.4M118.0,70.1 118.8,48.7 120.9,41.5M127.8,51.6 128.8,21.4 129.6,12.5 130.6,44.0M134.3,49.5 134.4,70.4 134.8,77.0 135.4,83.6 137.8,92.8M128.9,70.3 129.8,48.7 131.9,41.4" fill="none" stroke="#1f6cb8" stroke-opacity="0.36" stroke-width="0.75" stroke-linejoin="round"/>
<path d="M0.0,51.6 0.0,44.4 0.0,22.7 0.4,12.7 1.1,44.3 1.2,50.4M9.9,51.8 10.1,44.3 10.8,21.6 11.3,11.4 12.1,44.3 12.2,50.5M20.8,51.9 21.1,44.2 21.7,21.1 22.3,10.6 23.0,44.2 23.1,50.6M31.8,52.0 32.0,44.2 32.7,20.7 33.2,10.0 34.0,44.2 34.1,50.6M42.7,52.1 43.0,44.2 43.6,20.3 44.2,9.5 44.9,44.2 45.0,50.7M53.7,52.2 53.9,44.1 54.6,19.9 55.1,9.0 55.9,44.1 56.0,50.8M64.6,52.2 64.9,44.1 65.5,19.6 66.1,8.6 66.8,44.1 66.9,50.8M75.6,52.3 75.8,44.1 76.5,19.3 77.0,8.1 77.8,44.1 77.9,50.9M86.5,52.4 86.8,44.1 87.4,19.0 88.0,7.8 88.7,44.0 88.8,50.9M97.5,52.4 97.7,44.0 98.4,18.8 98.9,7.4 99.7,44.0 99.8,50.9M108.4,52.5 108.7,44.0 109.3,18.5 109.9,7.0 110.6,44.0 110.7,51.0M119.4,52.5 119.6,44.0 120.3,18.3 120.8,6.7 121.6,44.0 121.7,51.0M130.3,52.6 130.6,44.0 131.2,18.0 131.8,6.3 132.5,44.0 132.6,51.1" fill="none" stroke="#1f6cb8" stroke-opacity="0.62" stroke-width="0.75" stroke-linejoin="round"/>
<path d="M1.0,50.4 1.1,44.3 1.6,10.7 1.9,23.2 2.6,25.7 2.9,49.1 3.6,59.5 4.5,78.7 5.3,48.7 5.4,42.6M2.7,26.6 3.0,34.3 4.7,45.2 5.9,49.6M5.6,43.9 5.7,50.0 6.9,85.1 7.3,86.4 7.5,83.4 7.7,74.6 7.9,50.9 8.0,39.4M12.0,50.5 12.1,44.3 12.5,9.5 12.8,22.4 13.6,25.1 13.8,49.2 14.6,59.9 15.5,79.6 16.2,48.7 16.3,42.5M13.6,26.0 13.9,34.0 15.7,45.2 16.9,49.6M16.6,43.8 16.7,50.1 17.9,86.0 18.3,87.4 18.4,84.3 18.6,75.3 18.8,51.0 18.9,39.3M22.9,50.6 23.0,44.2 23.5,8.7 23.8,21.9 24.5,24.6 24.8,49.2 25.5,60.1 26.4,80.2 27.2,48.8 27.3,42.4M24.6,25.5 24.9,33.7 26.6,45.1 27.8,49.7M27.5,43.8 27.6,50.2 28.8,86.7 29.2,88.1 29.4,84.9 29.6,75.8 29.8,51.1 29.9,39.1M33.9,50.6 34.0,44.2 34.4,8.1 34.7,21.5 35.5,24.3 35.7,49.3 36.5,60.4 37.4,80.8 38.1,48.8 38.2,42.3M35.5,25.2 35.8,33.5 37.6,45.1 38.8,49.7M38.5,43.7 38.6,50.2 39.8,87.4 40.2,88.8 40.3,85.5 40.5,76.2 40.7,51.1 40.8,39.0M44.8,50.7 44.9,44.2 45.4,7.6 45.7,21.2 46.4,24.0 46.7,49.3 47.4,60.6 48.3,81.2 49.1,48.8 49.2,42.3M46.5,24.9 46.8,33.3 48.5,45.1 49.7,49.8M49.4,43.7 49.5,50.3 50.7,87.9 51.1,89.3 51.3,86.1 51.5,76.6 51.7,51.2 51.8,38.9M55.8,50.8 55.9,44.1 56.3,7.1 56.6,20.8 57.4,23.7 57.6,49.3 58.4,60.7 59.3,81.7 60.0,48.9 60.1,42.2M57.4,24.6 57.7,33.2 59.5,45.1 60.7,49.8M60.4,43.6 60.5,50.3 61.7,88.4 62.1,89.9 62.2,86.5 62.4,77.0 62.6,51.3 62.7,38.8M66.7,50.8 66.8,44.1 67.3,6.6 67.6,20.5 68.3,23.4 68.6,49.4 69.3,60.9 70.2,82.1 71.0,48.9 71.1,42.2M68.4,24.4 68.7,33.0 70.4,45.1 71.6,49.9M71.3,43.6 71.4,50.4 72.6,88.9 73.0,90.4 73.2,87.0 73.4,77.4 73.6,51.3 73.7,38.8M77.7,50.9 77.8,44.1 78.2,6.2 78.5,20.2 79.3,23.1 79.5,49.4 80.3,61.1 81.2,82.5 81.9,48.9 82.0,42.1M79.3,24.1 79.6,32.9 81.4,45.0 82.6,49.9M82.3,43.6 82.4,50.4 83.6,89.3 84.0,90.8 84.1,87.4 84.3,77.7 84.5,51.4 84.6,38.7M88.6,50.9 88.7,44.0 89.2,5.7 89.5,20.0 90.2,22.9 90.5,49.4 91.2,61.2 92.1,82.8 92.9,49.0 93.0,42.1M90.3,23.9 90.6,32.7 92.3,45.0 93.5,49.9M93.2,43.5 93.3,50.4 94.5,89.8 94.9,91.3 95.1,87.8 95.3,78.0 95.5,51.4 95.6,38.6M99.6,50.9 99.7,44.0 100.1,5.4 100.4,19.7 101.2,22.7 101.4,49.5 102.2,61.3 103.1,83.2 103.8,49.0 103.9,42.0M101.2,23.7 101.5,32.6 103.3,45.0 104.5,50.0M104.2,43.5 104.3,50.5 105.5,90.2 105.9,91.7 106.0,88.2 106.2,78.3 106.4,51.5 106.5,38.5M110.5,51.0 110.6,44.0 111.1,5.0 111.4,19.5 112.1,22.5 112.4,49.5 113.1,61.5 114.0,83.5 114.8,49.0 114.9,42.0M112.2,23.5 112.5,32.5 114.2,45.0 115.4,50.0M115.1,43.5 115.2,50.5 116.4,90.6 116.8,92.1 117.0,88.6 117.2,78.6 117.4,51.5 117.5,38.5M121.5,51.0 121.6,44.0 122.0,4.6 122.3,19.2 123.1,22.3 123.3,49.5 124.1,61.6 125.0,83.8 125.7,49.0 125.8,41.9M123.1,23.3 123.4,32.4 125.2,45.0 126.4,50.0M126.1,43.5 126.2,50.5 127.4,90.9 127.8,92.5 127.9,88.9 128.1,78.8 128.3,51.6 128.4,38.4M132.4,51.1 132.5,44.0 133.0,4.3 133.3,19.0 134.0,22.1 134.3,49.5 135.0,61.7 135.9,84.1 136.7,49.0 136.8,41.9M134.1,23.1 134.4,32.2 136.1,45.0 137.3,50.1M137.0,43.4 137.1,50.6 137.8,91.3 137.8,92.8 137.8,89.2 137.8,79.1 137.8,51.6 137.8,38.3" fill="none" stroke="#1f6cb8" stroke-opacity="1.0" stroke-width="0.75" stroke-linejoin="round"/>
<path d="" fill="none" stroke="#1f6cb8" stroke-opacity="0.7" stroke-width="0.75" stroke-linejoin="round"/>
</g>
<path d="M1.6,10.7 1.9,23.2 2.6,25.7 3.0,34.3 4.7,45.2 5.9,49.6 5.9,49.6 6.8,45.2 8.0,34.2 8.3,24.7 8.4,19.1 10.3,12.8 12.5,9.5 12.8,22.4 13.6,25.1 13.9,34.0 15.7,45.2 16.9,49.6 16.9,49.6 17.8,45.1 19.0,33.9 19.2,24.1 19.3,18.5 21.3,12.1 23.5,8.7 23.8,21.9 24.5,24.6 24.9,33.7 26.6,45.1 27.8,49.7 27.8,49.7 28.7,45.1 29.9,33.6 30.2,23.7 30.3,18.0 32.2,11.5 34.4,8.1 34.7,21.5 35.5,24.3 35.8,33.5 37.6,45.1 38.8,49.7 38.8,49.7 39.7,45.1 40.9,33.4 41.1,23.4 41.2,17.6 43.2,10.9 45.4,7.6 45.7,21.2 46.4,24.0 46.8,33.3 48.5,45.1 49.7,49.8 49.7,49.8 50.6,45.1 51.8,33.3 52.1,23.1 52.2,17.2 54.1,10.5 56.3,7.1 56.6,20.8 57.4,23.7 57.7,33.2 59.5,45.1 60.7,49.8 60.7,49.8 61.6,45.1 62.8,33.1 63.0,22.8 63.1,16.8 65.1,10.0 67.3,6.6 67.6,20.5 68.3,23.4 68.7,33.0 70.4,45.1 71.6,49.9 71.6,49.9 72.5,45.0 73.7,32.9 74.0,22.5 74.1,16.5 76.0,9.6 78.2,6.2 78.5,20.2 79.3,23.1 79.6,32.9 81.4,45.0 82.6,49.9 82.6,49.9 83.5,45.0 84.7,32.8 84.9,22.3 85.0,16.2 87.0,9.3 89.2,5.7 89.5,20.0 90.2,22.9 90.6,32.7 92.3,45.0 93.5,49.9 93.5,49.9 94.4,45.0 95.6,32.7 95.9,22.1 96.0,15.9 97.9,8.9 100.1,5.4 100.4,19.7 101.2,22.7 101.5,32.6 103.3,45.0 104.5,50.0 104.5,50.0 105.4,45.0 106.6,32.5 106.9,21.8 106.9,15.6 108.9,8.5 111.1,5.0 111.4,19.5 112.1,22.5 112.5,32.5 114.2,45.0 115.4,50.0 115.4,50.0 116.3,45.0 117.5,32.4 117.8,21.6 117.9,15.3 119.8,8.2 122.0,4.6 122.3,19.2 123.1,22.3 123.4,32.4 125.2,45.0 126.4,50.0 126.4,50.0 127.3,45.0 128.5,32.3 128.8,21.4 128.8,15.1 130.8,7.9 133.0,4.3 133.3,19.0 134.0,22.1 134.4,32.2 136.1,45.0 137.3,50.1 137.3,50.1 137.8,45.0 L137.3,85.2 137.3,89.2 135.4,83.6 134.8,77.0 134.3,70.4 133.4,48.7 131.9,41.4 129.8,48.7 128.9,70.3 128.8,71.3 128.5,73.3 128.2,80.9 127.9,88.9 127.8,92.5 126.4,84.9 126.4,88.9 124.4,83.3 123.9,76.7 123.3,70.2 122.5,48.7 120.9,41.5 118.8,48.7 118.0,70.1 117.9,71.1 117.6,73.1 117.3,80.6 117.0,88.6 116.8,92.1 115.4,84.5 115.4,88.5 113.5,83.0 112.9,76.5 112.4,70.0 111.5,48.6 110.0,41.5 107.9,48.6 107.0,69.9 106.9,70.8 106.6,72.8 106.3,80.3 106.0,88.2 105.9,91.7 104.5,84.2 104.5,88.2 102.5,82.6 102.0,76.2 101.4,69.7 100.6,48.6 99.0,41.5 96.9,48.6 96.1,69.6 96.0,70.6 95.7,72.6 95.4,80.0 95.1,87.8 94.9,91.3 93.5,83.8 93.5,87.8 91.6,82.3 91.0,75.9 90.5,69.5 89.6,48.6 88.1,41.6 86.0,48.6 85.1,69.4 85.0,70.4 84.7,72.3 84.4,79.6 84.1,87.4 84.0,90.8 82.6,83.5 82.6,87.4 80.6,81.9 80.1,75.6 79.5,69.3 78.7,48.6 77.1,41.6 75.0,48.6 74.2,69.2 74.1,70.1 73.8,72.1 73.5,79.3 73.2,87.0 73.0,90.4 71.6,83.1 71.6,86.9 69.7,81.6 69.1,75.3 68.6,69.1 67.7,48.6 66.2,41.7 64.1,48.6 63.2,68.9 63.1,69.9 62.8,71.8 62.5,78.9 62.2,86.5 62.1,89.9 60.7,82.7 60.7,86.5 58.7,81.2 58.2,75.0 57.6,68.8 56.8,48.5 55.2,41.8 53.1,48.5 52.3,68.7 52.2,69.6 51.9,71.5 51.6,78.5 51.3,86.1 51.1,89.3 49.7,82.2 49.7,86.0 47.8,80.7 47.2,74.6 46.7,68.5 45.8,48.5 44.3,41.8 42.2,48.5 41.3,68.4 41.2,69.3 40.9,71.1 40.6,78.1 40.3,85.5 40.2,88.8 38.8,81.7 38.8,85.5 36.8,80.3 36.3,74.2 35.7,68.2 34.9,48.5 33.3,41.9 31.2,48.5 30.4,68.0 30.3,69.0 30.0,70.8 29.6,77.6 29.4,84.9 29.2,88.1 27.8,81.2 27.8,84.9 25.9,79.7 25.3,73.8 24.8,67.9 23.9,48.5 22.4,42.0 20.3,48.4 19.4,67.7 19.3,68.6 19.0,70.3 18.7,77.1 18.4,84.3 18.3,87.4 16.9,80.6 16.9,84.1 14.9,79.1 14.4,73.3 13.8,67.4 13.0,48.4 11.4,42.1 9.3,48.4 8.5,67.2 8.4,68.1 8.1,69.8 7.7,76.4 7.5,83.4 7.3,86.4 5.9,79.7 5.9,83.2 4.0,78.2 3.4,72.5 2.9,66.8 2.0,48.4 0.5,42.2Z" fill="#fff"/>
<g filter="url(#bl)">
<path d="M1.6,10.7 1.9,23.2 2.6,25.7 3.0,34.3 4.7,45.2 5.9,49.6 5.9,49.6 6.8,45.2 8.0,34.2 8.3,24.7 8.4,19.1 10.3,12.8 12.5,9.5 12.8,22.4 13.6,25.1 13.9,34.0 15.7,45.2 16.9,49.6 16.9,49.6 17.8,45.1 19.0,33.9 19.2,24.1 19.3,18.5 21.3,12.1 23.5,8.7 23.8,21.9 24.5,24.6 24.9,33.7 26.6,45.1 27.8,49.7 27.8,49.7 28.7,45.1 29.9,33.6 30.2,23.7 30.3,18.0 32.2,11.5 34.4,8.1 34.7,21.5 35.5,24.3 35.8,33.5 37.6,45.1 38.8,49.7 38.8,49.7 39.7,45.1 40.9,33.4 41.1,23.4 41.2,17.6 43.2,10.9 45.4,7.6 45.7,21.2 46.4,24.0 46.8,33.3 48.5,45.1 49.7,49.8 49.7,49.8 50.6,45.1 51.8,33.3 52.1,23.1 52.2,17.2 54.1,10.5 56.3,7.1 56.6,20.8 57.4,23.7 57.7,33.2 59.5,45.1 60.7,49.8 60.7,49.8 61.6,45.1 62.8,33.1 63.0,22.8 63.1,16.8 65.1,10.0 67.3,6.6 67.6,20.5 68.3,23.4 68.7,33.0 70.4,45.1 71.6,49.9 71.6,49.9 72.5,45.0 73.7,32.9 74.0,22.5 74.1,16.5 76.0,9.6 78.2,6.2 78.5,20.2 79.3,23.1 79.6,32.9 81.4,45.0 82.6,49.9 82.6,49.9 83.5,45.0 84.7,32.8 84.9,22.3 85.0,16.2 87.0,9.3 89.2,5.7 89.5,20.0 90.2,22.9 90.6,32.7 92.3,45.0 93.5,49.9 93.5,49.9 94.4,45.0 95.6,32.7 95.9,22.1 96.0,15.9 97.9,8.9 100.1,5.4 100.4,19.7 101.2,22.7 101.5,32.6 103.3,45.0 104.5,50.0 104.5,50.0 105.4,45.0 106.6,32.5 106.9,21.8 106.9,15.6 108.9,8.5 111.1,5.0 111.4,19.5 112.1,22.5 112.5,32.5 114.2,45.0 115.4,50.0 115.4,50.0 116.3,45.0 117.5,32.4 117.8,21.6 117.9,15.3 119.8,8.2 122.0,4.6 122.3,19.2 123.1,22.3 123.4,32.4 125.2,45.0 126.4,50.0 126.4,50.0 127.3,45.0 128.5,32.3 128.8,21.4 128.8,15.1 130.8,7.9 133.0,4.3 133.3,19.0 134.0,22.1 134.4,32.2 136.1,45.0 137.3,50.1 137.3,50.1 137.8,45.0 L137.3,85.2 137.3,89.2 135.4,83.6 134.8,77.0 134.3,70.4 133.4,48.7 131.9,41.4 129.8,48.7 128.9,70.3 128.8,71.3 128.5,73.3 128.2,80.9 127.9,88.9 127.8,92.5 126.4,84.9 126.4,88.9 124.4,83.3 123.9,76.7 123.3,70.2 122.5,48.7 120.9,41.5 118.8,48.7 118.0,70.1 117.9,71.1 117.6,73.1 117.3,80.6 117.0,88.6 116.8,92.1 115.4,84.5 115.4,88.5 113.5,83.0 112.9,76.5 112.4,70.0 111.5,48.6 110.0,41.5 107.9,48.6 107.0,69.9 106.9,70.8 106.6,72.8 106.3,80.3 106.0,88.2 105.9,91.7 104.5,84.2 104.5,88.2 102.5,82.6 102.0,76.2 101.4,69.7 100.6,48.6 99.0,41.5 96.9,48.6 96.1,69.6 96.0,70.6 95.7,72.6 95.4,80.0 95.1,87.8 94.9,91.3 93.5,83.8 93.5,87.8 91.6,82.3 91.0,75.9 90.5,69.5 89.6,48.6 88.1,41.6 86.0,48.6 85.1,69.4 85.0,70.4 84.7,72.3 84.4,79.6 84.1,87.4 84.0,90.8 82.6,83.5 82.6,87.4 80.6,81.9 80.1,75.6 79.5,69.3 78.7,48.6 77.1,41.6 75.0,48.6 74.2,69.2 74.1,70.1 73.8,72.1 73.5,79.3 73.2,87.0 73.0,90.4 71.6,83.1 71.6,86.9 69.7,81.6 69.1,75.3 68.6,69.1 67.7,48.6 66.2,41.7 64.1,48.6 63.2,68.9 63.1,69.9 62.8,71.8 62.5,78.9 62.2,86.5 62.1,89.9 60.7,82.7 60.7,86.5 58.7,81.2 58.2,75.0 57.6,68.8 56.8,48.5 55.2,41.8 53.1,48.5 52.3,68.7 52.2,69.6 51.9,71.5 51.6,78.5 51.3,86.1 51.1,89.3 49.7,82.2 49.7,86.0 47.8,80.7 47.2,74.6 46.7,68.5 45.8,48.5 44.3,41.8 42.2,48.5 41.3,68.4 41.2,69.3 40.9,71.1 40.6,78.1 40.3,85.5 40.2,88.8 38.8,81.7 38.8,85.5 36.8,80.3 36.3,74.2 35.7,68.2 34.9,48.5 33.3,41.9 31.2,48.5 30.4,68.0 30.3,69.0 30.0,70.8 29.6,77.6 29.4,84.9 29.2,88.1 27.8,81.2 27.8,84.9 25.9,79.7 25.3,73.8 24.8,67.9 23.9,48.5 22.4,42.0 20.3,48.4 19.4,67.7 19.3,68.6 19.0,70.3 18.7,77.1 18.4,84.3 18.3,87.4 16.9,80.6 16.9,84.1 14.9,79.1 14.4,73.3 13.8,67.4 13.0,48.4 11.4,42.1 9.3,48.4 8.5,67.2 8.4,68.1 8.1,69.8 7.7,76.4 7.5,83.4 7.3,86.4 5.9,79.7 5.9,83.2 4.0,78.2 3.4,72.5 2.9,66.8 2.0,48.4 0.5,42.2Z" fill="#D95C33" fill-opacity="0.09"/>
<path d="M0.0,45.2 1.6,10.7 1.9,23.2 2.6,25.7 2.9,34.4 2.7,57.3 2.0,48.4 0.5,42.2 0.0,47.3ZM3.1,36.1 4.7,45.2 5.9,49.6 6.8,45.2 7.7,38.6 7.9,59.7 7.7,74.6 7.5,83.4 7.3,86.4 4.5,78.7 3.6,59.5 3.0,48.7ZM10.0,45.2 12.5,9.5 12.8,22.4 13.6,25.1 13.9,34.0 13.6,57.6 13.0,48.4 11.4,42.1 10.1,47.4ZM14.0,35.8 15.7,45.2 16.9,49.6 17.8,45.1 18.7,38.4 18.8,60.0 18.6,75.3 18.4,84.3 18.3,87.4 15.5,79.6 14.6,59.9 13.9,48.7ZM20.9,45.1 23.5,8.7 23.8,21.9 24.5,24.6 24.8,33.7 24.6,57.9 23.9,48.5 22.4,42.0 21.1,47.4ZM25.0,35.6 26.6,45.1 27.8,49.7 28.7,45.1 29.6,38.2 29.8,60.2 29.6,75.8 29.4,84.9 29.2,88.1 26.4,80.2 25.5,60.1 24.9,48.8ZM31.9,45.1 34.4,8.1 34.7,21.5 35.5,24.3 35.8,33.5 35.5,58.0 34.9,48.5 33.3,41.9 32.0,47.4ZM35.9,35.4 37.6,45.1 38.8,49.7 39.7,45.1 40.6,38.1 40.7,60.4 40.5,76.2 40.3,85.5 40.2,88.8 37.4,80.8 36.5,60.4 35.8,48.8ZM42.8,45.1 45.4,7.6 45.7,21.2 46.4,24.0 46.7,33.3 46.5,58.2 45.8,48.5 44.3,41.8 43.0,47.4ZM46.9,35.2 48.5,45.1 49.7,49.8 50.6,45.1 51.6,38.0 51.7,60.6 51.5,76.6 51.3,86.1 51.1,89.3 48.3,81.2 47.4,60.6 46.8,48.8ZM53.8,45.1 56.3,7.1 56.6,20.8 57.4,23.7 57.7,33.2 57.4,58.4 56.8,48.5 55.2,41.8 53.9,47.4ZM57.8,35.1 59.5,45.1 60.7,49.8 61.6,45.1 62.5,37.9 62.6,60.8 62.4,77.0 62.2,86.5 62.1,89.9 59.3,81.7 58.4,60.7 57.7,48.9ZM64.7,45.1 67.3,6.6 67.6,20.5 68.3,23.4 68.6,33.0 68.4,58.5 67.7,48.6 66.2,41.7 64.9,47.5ZM68.8,34.9 70.4,45.1 71.6,49.9 72.5,45.0 73.5,37.8 73.6,61.0 73.4,77.4 73.2,87.0 73.0,90.4 70.2,82.1 69.3,60.9 68.7,48.9ZM75.7,45.0 78.2,6.2 78.5,20.2 79.3,23.1 79.6,32.9 79.3,58.6 78.7,48.6 77.1,41.6 75.8,47.5ZM79.7,34.8 81.4,45.0 82.6,49.9 83.5,45.0 84.4,37.7 84.5,61.1 84.3,77.7 84.1,87.4 84.0,90.8 81.2,82.5 80.3,61.1 79.6,48.9ZM86.6,45.0 89.2,5.7 89.5,20.0 90.2,22.9 90.5,32.7 90.3,58.7 89.6,48.6 88.1,41.6 86.8,47.5ZM90.7,34.7 92.3,45.0 93.5,49.9 94.4,45.0 95.4,37.6 95.5,61.3 95.3,78.0 95.1,87.8 94.9,91.3 92.1,82.8 91.2,61.2 90.6,49.0ZM97.6,45.0 100.1,5.4 100.4,19.7 101.2,22.7 101.5,32.6 101.2,58.9 100.6,48.6 99.0,41.5 97.7,47.5ZM101.6,34.6 103.3,45.0 104.5,50.0 105.4,45.0 106.3,37.5 106.4,61.4 106.2,78.3 106.0,88.2 105.9,91.7 103.1,83.2 102.2,61.3 101.5,49.0ZM108.5,45.0 111.1,5.0 111.4,19.5 112.1,22.5 112.4,32.5 112.2,59.0 111.5,48.6 110.0,41.5 108.7,47.5ZM112.6,34.5 114.2,45.0 115.4,50.0 116.3,45.0 117.3,37.5 117.4,61.5 117.2,78.6 117.0,88.6 116.8,92.1 114.0,83.5 113.1,61.5 112.5,49.0ZM119.5,45.0 122.0,4.6 122.3,19.2 123.1,22.3 123.4,32.4 123.1,59.1 122.5,48.7 120.9,41.5 119.6,47.5ZM123.6,34.4 125.2,45.0 126.4,50.0 127.3,45.0 128.2,37.4 128.3,61.7 128.1,78.8 127.9,88.9 127.8,92.5 125.0,83.8 124.1,61.6 123.4,49.0ZM130.4,45.0 133.0,4.3 133.3,19.0 134.0,22.1 134.3,32.2 134.1,59.2 133.4,48.7 131.9,41.4 130.6,47.5ZM134.5,34.3 136.1,45.0 137.3,50.1 137.8,45.0 137.8,37.3 137.8,61.8 137.8,79.1 137.8,89.2 137.8,92.8 135.9,84.1 135.0,61.7 134.4,49.0Z" fill="#D95C33" fill-opacity="0.13"/>
<path d="M2.9,49.1 3.0,66.8 3.4,72.5 4.0,78.2 7.3,86.4M7.9,50.9 8.1,69.4 8.4,68.1 8.8,53.1 9.2,42.1M0.0,66.4 0.0,48.3 0.5,42.2M7.4,50.9 8.3,24.7 9.1,16.9 10.1,44.3M13.8,49.2 13.9,67.4 14.4,73.3 14.9,79.1 18.3,87.4M18.8,51.0 19.1,69.9 19.3,68.6 19.7,53.3 20.2,42.0M8.5,67.2 9.3,48.4 11.4,42.1M18.3,51.0 19.2,24.1 20.1,16.2 21.1,44.2M24.8,49.2 24.9,67.9 25.3,73.8 25.9,79.7 29.2,88.1M29.8,51.1 30.0,70.3 30.3,69.0 30.7,53.4 31.1,41.9M19.4,67.7 20.3,48.4 22.4,42.0M29.3,51.1 30.2,23.7 31.0,15.7 32.0,44.2M35.7,49.3 35.8,68.2 36.3,74.2 36.8,80.3 40.2,88.8M40.7,51.1 41.0,70.7 41.2,69.3 41.6,53.5 42.1,41.8M30.4,68.0 31.2,48.5 33.3,41.9M40.2,51.1 41.1,23.4 42.0,15.2 43.0,44.2M46.7,49.3 46.8,68.5 47.2,74.6 47.8,80.7 51.1,89.3M51.7,51.2 51.9,71.0 52.2,69.6 52.6,53.6 53.0,41.8M41.3,68.4 42.2,48.5 44.3,41.8M51.2,51.2 52.1,23.1 52.9,14.8 53.9,44.1M57.6,49.3 57.7,68.8 58.2,75.0 58.7,81.2 62.1,89.9M62.6,51.3 62.9,71.3 63.1,69.9 63.5,53.7 64.0,41.7M52.3,68.7 53.1,48.5 55.2,41.8M62.1,51.3 63.0,22.8 63.9,14.4 64.9,44.1M68.6,49.4 68.7,69.1 69.1,75.3 69.7,81.6 73.0,90.4M73.6,51.3 73.8,71.6 74.1,70.1 74.5,53.7 74.9,41.7M63.2,68.9 64.1,48.6 66.2,41.7M73.1,51.3 74.0,22.5 74.8,14.0 75.8,44.1M79.5,49.4 79.6,69.3 80.1,75.6 80.6,81.9 84.0,90.8M84.5,51.4 84.8,71.8 85.0,70.4 85.4,53.8 85.9,41.6M74.2,69.2 75.0,48.6 77.1,41.6M84.0,51.4 84.9,22.3 85.8,13.7 86.8,44.1M90.5,49.4 90.6,69.5 91.0,75.9 91.6,82.3 94.9,91.3M95.5,51.4 95.7,72.1 96.0,70.6 96.4,53.9 96.8,41.6M85.1,69.4 86.0,48.6 88.1,41.6M95.0,51.4 95.9,22.1 96.7,13.4 97.7,44.0M101.4,49.5 101.5,69.8 102.0,76.2 102.5,82.6 105.9,91.7M106.4,51.5 106.7,72.3 106.9,70.8 107.3,54.0 107.8,41.5M96.1,69.6 96.9,48.6 99.0,41.5M105.9,51.5 106.9,21.8 107.7,13.1 108.7,44.0M112.4,49.5 112.5,70.0 112.9,76.5 113.5,83.0 116.8,92.1M117.4,51.5 117.6,72.6 117.9,71.1 118.3,54.0 118.7,41.5M107.0,69.9 107.9,48.6 110.0,41.5M116.9,51.5 117.8,21.6 118.6,12.8 119.6,44.0M123.3,49.5 123.4,70.2 123.9,76.7 124.4,83.3 127.8,92.5M128.3,51.6 128.6,72.8 128.8,71.3 129.2,54.1 129.7,41.4M118.0,70.1 118.8,48.7 120.9,41.5M127.8,51.6 128.8,21.4 129.6,12.5 130.6,44.0M134.3,49.5 134.4,70.4 134.8,77.0 135.4,83.6 137.8,92.8M128.9,70.3 129.8,48.7 131.9,41.4" fill="none" stroke="#D95C33" stroke-opacity="0.40" stroke-width="0.84" stroke-linejoin="round"/>
<path d="M0.0,51.6 0.0,44.4 0.0,22.7 0.4,12.7 1.1,44.3 1.2,50.4M9.9,51.8 10.1,44.3 10.8,21.6 11.3,11.4 12.1,44.3 12.2,50.5M20.8,51.9 21.1,44.2 21.7,21.1 22.3,10.6 23.0,44.2 23.1,50.6M31.8,52.0 32.0,44.2 32.7,20.7 33.2,10.0 34.0,44.2 34.1,50.6M42.7,52.1 43.0,44.2 43.6,20.3 44.2,9.5 44.9,44.2 45.0,50.7M53.7,52.2 53.9,44.1 54.6,19.9 55.1,9.0 55.9,44.1 56.0,50.8M64.6,52.2 64.9,44.1 65.5,19.6 66.1,8.6 66.8,44.1 66.9,50.8M75.6,52.3 75.8,44.1 76.5,19.3 77.0,8.1 77.8,44.1 77.9,50.9M86.5,52.4 86.8,44.1 87.4,19.0 88.0,7.8 88.7,44.0 88.8,50.9M97.5,52.4 97.7,44.0 98.4,18.8 98.9,7.4 99.7,44.0 99.8,50.9M108.4,52.5 108.7,44.0 109.3,18.5 109.9,7.0 110.6,44.0 110.7,51.0M119.4,52.5 119.6,44.0 120.3,18.3 120.8,6.7 121.6,44.0 121.7,51.0M130.3,52.6 130.6,44.0 131.2,18.0 131.8,6.3 132.5,44.0 132.6,51.1" fill="none" stroke="#D95C33" stroke-opacity="0.69" stroke-width="0.84" stroke-linejoin="round"/>
<path d="M1.0,50.4 1.1,44.3 1.6,10.7 1.9,23.2 2.6,25.7 2.9,49.1 3.6,59.5 4.5,78.7 5.3,48.7 5.4,42.6M2.7,26.6 3.0,34.3 4.7,45.2 5.9,49.6M5.6,43.9 5.7,50.0 6.9,85.1 7.3,86.4 7.5,83.4 7.7,74.6 7.9,50.9 8.0,39.4M12.0,50.5 12.1,44.3 12.5,9.5 12.8,22.4 13.6,25.1 13.8,49.2 14.6,59.9 15.5,79.6 16.2,48.7 16.3,42.5M13.6,26.0 13.9,34.0 15.7,45.2 16.9,49.6M16.6,43.8 16.7,50.1 17.9,86.0 18.3,87.4 18.4,84.3 18.6,75.3 18.8,51.0 18.9,39.3M22.9,50.6 23.0,44.2 23.5,8.7 23.8,21.9 24.5,24.6 24.8,49.2 25.5,60.1 26.4,80.2 27.2,48.8 27.3,42.4M24.6,25.5 24.9,33.7 26.6,45.1 27.8,49.7M27.5,43.8 27.6,50.2 28.8,86.7 29.2,88.1 29.4,84.9 29.6,75.8 29.8,51.1 29.9,39.1M33.9,50.6 34.0,44.2 34.4,8.1 34.7,21.5 35.5,24.3 35.7,49.3 36.5,60.4 37.4,80.8 38.1,48.8 38.2,42.3M35.5,25.2 35.8,33.5 37.6,45.1 38.8,49.7M38.5,43.7 38.6,50.2 39.8,87.4 40.2,88.8 40.3,85.5 40.5,76.2 40.7,51.1 40.8,39.0M44.8,50.7 44.9,44.2 45.4,7.6 45.7,21.2 46.4,24.0 46.7,49.3 47.4,60.6 48.3,81.2 49.1,48.8 49.2,42.3M46.5,24.9 46.8,33.3 48.5,45.1 49.7,49.8M49.4,43.7 49.5,50.3 50.7,87.9 51.1,89.3 51.3,86.1 51.5,76.6 51.7,51.2 51.8,38.9M55.8,50.8 55.9,44.1 56.3,7.1 56.6,20.8 57.4,23.7 57.6,49.3 58.4,60.7 59.3,81.7 60.0,48.9 60.1,42.2M57.4,24.6 57.7,33.2 59.5,45.1 60.7,49.8M60.4,43.6 60.5,50.3 61.7,88.4 62.1,89.9 62.2,86.5 62.4,77.0 62.6,51.3 62.7,38.8M66.7,50.8 66.8,44.1 67.3,6.6 67.6,20.5 68.3,23.4 68.6,49.4 69.3,60.9 70.2,82.1 71.0,48.9 71.1,42.2M68.4,24.4 68.7,33.0 70.4,45.1 71.6,49.9M71.3,43.6 71.4,50.4 72.6,88.9 73.0,90.4 73.2,87.0 73.4,77.4 73.6,51.3 73.7,38.8M77.7,50.9 77.8,44.1 78.2,6.2 78.5,20.2 79.3,23.1 79.5,49.4 80.3,61.1 81.2,82.5 81.9,48.9 82.0,42.1M79.3,24.1 79.6,32.9 81.4,45.0 82.6,49.9M82.3,43.6 82.4,50.4 83.6,89.3 84.0,90.8 84.1,87.4 84.3,77.7 84.5,51.4 84.6,38.7M88.6,50.9 88.7,44.0 89.2,5.7 89.5,20.0 90.2,22.9 90.5,49.4 91.2,61.2 92.1,82.8 92.9,49.0 93.0,42.1M90.3,23.9 90.6,32.7 92.3,45.0 93.5,49.9M93.2,43.5 93.3,50.4 94.5,89.8 94.9,91.3 95.1,87.8 95.3,78.0 95.5,51.4 95.6,38.6M99.6,50.9 99.7,44.0 100.1,5.4 100.4,19.7 101.2,22.7 101.4,49.5 102.2,61.3 103.1,83.2 103.8,49.0 103.9,42.0M101.2,23.7 101.5,32.6 103.3,45.0 104.5,50.0M104.2,43.5 104.3,50.5 105.5,90.2 105.9,91.7 106.0,88.2 106.2,78.3 106.4,51.5 106.5,38.5M110.5,51.0 110.6,44.0 111.1,5.0 111.4,19.5 112.1,22.5 112.4,49.5 113.1,61.5 114.0,83.5 114.8,49.0 114.9,42.0M112.2,23.5 112.5,32.5 114.2,45.0 115.4,50.0M115.1,43.5 115.2,50.5 116.4,90.6 116.8,92.1 117.0,88.6 117.2,78.6 117.4,51.5 117.5,38.5M121.5,51.0 121.6,44.0 122.0,4.6 122.3,19.2 123.1,22.3 123.3,49.5 124.1,61.6 125.0,83.8 125.7,49.0 125.8,41.9M123.1,23.3 123.4,32.4 125.2,45.0 126.4,50.0M126.1,43.5 126.2,50.5 127.4,90.9 127.8,92.5 127.9,88.9 128.1,78.8 128.3,51.6 128.4,38.4M132.4,51.1 132.5,44.0 133.0,4.3 133.3,19.0 134.0,22.1 134.3,49.5 135.0,61.7 135.9,84.1 136.7,49.0 136.8,41.9M134.1,23.1 134.4,32.2 136.1,45.0 137.3,50.1M137.0,43.4 137.1,50.6 137.8,91.3 137.8,92.8 137.8,89.2 137.8,79.1 137.8,51.6 137.8,38.3" fill="none" stroke="#D95C33" stroke-opacity="1.0" stroke-width="0.84" stroke-linejoin="round"/>
<path d="" fill="none" stroke="#D95C33" stroke-opacity="0.7" stroke-width="0.84" stroke-linejoin="round"/>
</g>
</g>
<rect x="399.5" y="201.5" width="137.8" height="93.0" fill="none" stroke="#666" stroke-width="0.7"/>
<line x1="445.43" y1="294.5" x2="445.43" y2="293.0" stroke="#555" stroke-width="0.6"/>
<line x1="445.43" y1="201.5" x2="445.43" y2="203.0" stroke="#555" stroke-width="0.6"/>
<line x1="491.37" y1="294.5" x2="491.37" y2="293.0" stroke="#555" stroke-width="0.6"/>
<line x1="491.37" y1="201.5" x2="491.37" y2="203.0" stroke="#555" stroke-width="0.6"/>
<line x1="399.5" y1="224.75" x2="401.0" y2="224.75" stroke="#555" stroke-width="0.6"/>
<line x1="537.3" y1="224.75" x2="535.8" y2="224.75" stroke="#555" stroke-width="0.6"/>
<line x1="399.5" y1="248.00" x2="401.0" y2="248.00" stroke="#555" stroke-width="0.6"/>
<line x1="537.3" y1="248.00" x2="535.8" y2="248.00" stroke="#555" stroke-width="0.6"/>
<line x1="399.5" y1="271.25" x2="401.0" y2="271.25" stroke="#555" stroke-width="0.6"/>
<line x1="537.3" y1="271.25" x2="535.8" y2="271.25" stroke="#555" stroke-width="0.6"/>
<text class="t" x="399.8" y="308.7" text-anchor="middle">0</text>
<text class="t" x="445.7" y="308.7" text-anchor="middle">50</text>
<text class="t" x="491.7" y="308.7" text-anchor="middle">100</text>
<text class="t" x="537.6" y="308.7" text-anchor="middle">150</text>
<text class="t" x="396.5" y="205.2" text-anchor="end">10</text>
<text class="t" x="396.5" y="228.5" text-anchor="end">5</text>
<text class="t" x="396.5" y="251.8" text-anchor="end">0</text>
<text class="t" x="396.5" y="275.0" text-anchor="end">-5</text>
<text class="t" x="396.5" y="298.2" text-anchor="end">-10</text>
<text class="ax" x="468.7" y="322.7" text-anchor="middle">x</text>
<text class="ax" style="font-size:12px" transform="translate(376.8,248.8) rotate(-90)" text-anchor="middle">f<tspan font-style="normal">(</tspan>x<tspan font-style="normal">)</tspan></text>
<text class="c" x="475.0" y="336.9" text-anchor="middle">(f) PFF-DNN <tspan font-style="italic">N</tspan><tspan fill="#777">=</tspan>10000</text>
<line x1="473.0" y1="181.5" x2="493.8" y2="181.5" stroke="#1f6cb8" stroke-width="0.55" stroke-opacity="0.6"/>
<line x1="473.0" y1="193.5" x2="493.8" y2="193.5" stroke="#D95C33" stroke-width="0.6" stroke-opacity="0.7"/>
<text x="496.7" y="184.9" font-size="10.0">truth</text>
<text x="496.7" y="196.9" font-size="10.0">PFF-DNN</text>
</g>
</svg></body></html>
